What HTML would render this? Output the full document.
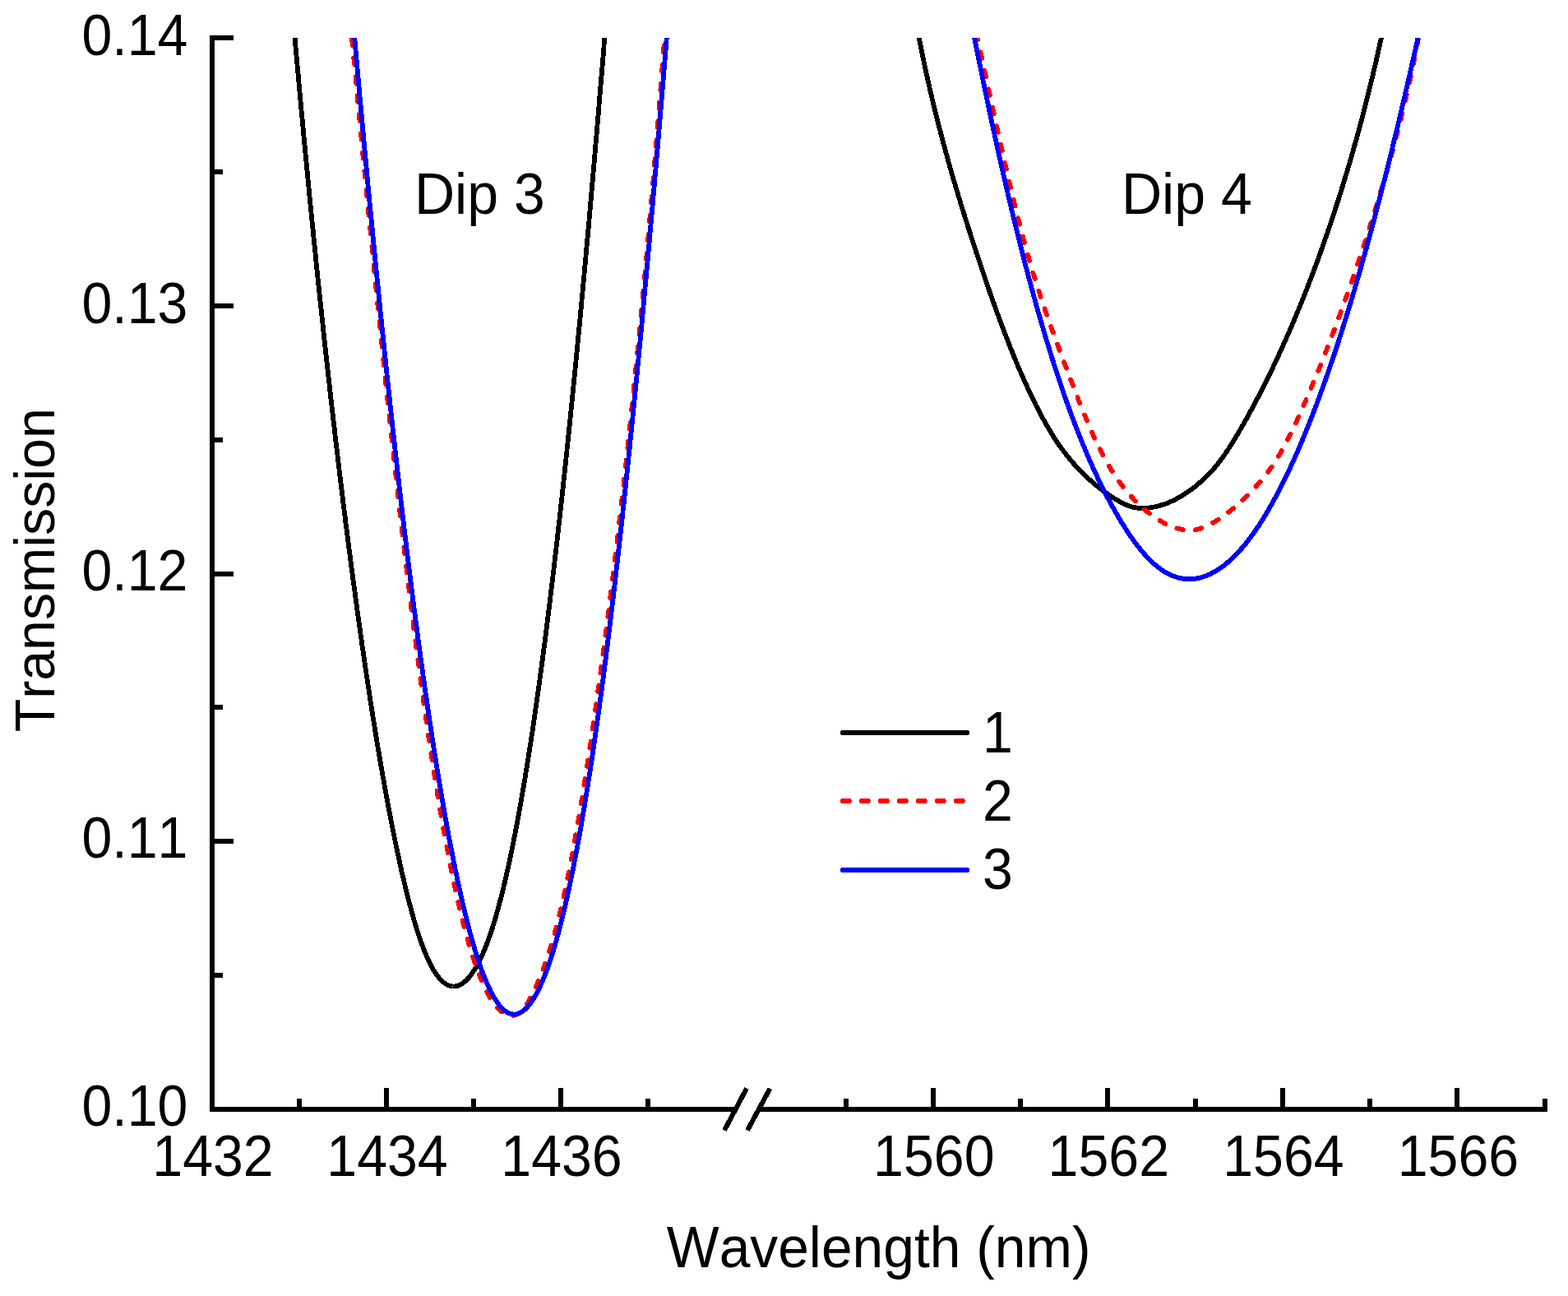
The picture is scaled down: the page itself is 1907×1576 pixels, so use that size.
<!DOCTYPE html>
<html><head><meta charset="utf-8"><title>Transmission vs Wavelength</title>
<style>
html,body{margin:0;padding:0;background:#fff;overflow:hidden;width:1907px;height:1576px;}
svg{display:block;}
text{font-family:"Liberation Sans",Arial,Helvetica,sans-serif;font-size:68px;fill:#000;font-kerning:none;font-feature-settings:"kern" 0;}
</style></head><body>
<svg width="1907" height="1576" viewBox="0 0 1907 1576">
<rect width="1907" height="1576" fill="#fff"/>
<defs><clipPath id="pc"><rect x="261" y="46" width="1640" height="1300"/></clipPath></defs>
<g clip-path="url(#pc)">
<path d="M357.9,38.0 L358.2,41.3 L358.5,44.6 L358.8,47.9 L359.0,51.2 L359.3,54.5 L359.6,57.8 L359.9,61.1 L360.2,64.4 L360.5,67.7 L360.8,71.0 L361.1,74.2 L361.4,77.5 L361.7,80.8 L362.0,84.0 L362.3,87.3 L362.6,90.5 L362.9,93.8 L363.2,97.0 L363.4,100.2 L363.7,103.5 L364.0,106.7 L364.3,109.9 L364.6,113.1 L364.9,116.3 L365.2,119.5 L365.5,122.7 L365.8,125.9 L366.1,129.1 L366.4,132.3 L366.7,135.5 L367.0,138.7 L367.3,141.8 L367.6,145.0 L367.9,148.2 L368.2,151.3 L368.5,154.5 L368.8,157.6 L369.0,160.8 L369.3,163.9 L369.6,167.0 L369.9,170.2 L370.2,173.3 L370.5,176.4 L370.8,179.5 L371.1,182.6 L371.4,185.7 L371.7,188.8 L372.0,191.9 L372.3,195.0 L372.6,198.1 L372.9,201.2 L373.2,204.3 L373.5,207.3 L373.8,210.4 L374.1,213.5 L374.4,216.5 L374.7,219.6 L375.0,222.6 L375.3,225.7 L375.6,228.7 L375.8,231.7 L376.1,234.8 L376.4,237.8 L376.7,240.8 L377.0,243.8 L377.3,246.8 L377.6,249.8 L377.9,252.8 L378.2,255.8 L378.5,258.8 L378.8,261.8 L379.1,264.8 L379.4,267.8 L379.7,270.8 L380.0,273.7 L380.3,276.7 L380.6,279.6 L380.9,282.6 L381.2,285.5 L381.5,288.5 L381.8,291.4 L382.1,294.4 L382.4,297.3 L382.7,300.2 L383.0,303.1 L383.3,306.0 L383.6,309.0 L383.9,311.9 L384.1,314.8 L384.4,317.7 L384.7,320.5 L385.0,323.4 L385.3,326.3 L385.6,329.2 L385.9,332.1 L386.2,334.9 L386.5,337.8 L386.8,340.7 L387.1,343.5 L387.4,346.4 L387.7,349.2 L388.0,352.0 L388.3,354.9 L388.6,357.7 L388.9,360.5 L389.2,363.3 L389.5,366.2 L389.8,369.0 L390.1,371.8 L390.4,374.6 L390.7,377.4 L391.0,380.2 L391.3,383.0 L391.6,385.7 L391.9,388.5 L392.2,391.3 L392.5,394.1 L392.8,396.8 L393.0,399.6 L393.3,402.3 L393.6,405.1 L393.9,407.8 L394.2,410.6 L394.5,413.3 L394.8,416.0 L395.1,418.8 L395.4,421.5 L395.7,424.2 L396.0,426.9 L396.3,429.6 L396.6,432.3 L396.9,435.0 L397.2,437.7 L397.5,440.4 L397.8,443.1 L398.1,445.7 L398.4,448.4 L398.7,451.1 L399.0,453.7 L399.3,456.4 L399.6,459.1 L399.9,461.7 L400.2,464.4 L400.5,467.0 L400.8,469.6 L401.0,472.3 L401.3,474.9 L401.6,477.5 L401.9,480.1 L402.2,482.7 L402.5,485.3 L402.8,487.9 L403.1,490.5 L403.4,493.1 L403.7,495.7 L404.0,498.3 L404.3,500.9 L404.6,503.4 L404.9,506.0 L405.2,508.6 L405.5,511.1 L405.8,513.7 L406.1,516.2 L406.4,518.8 L406.7,521.3 L407.0,523.9 L407.3,526.4 L407.5,528.9 L407.8,531.4 L408.1,534.0 L408.4,536.5 L408.7,539.0 L409.0,541.5 L409.3,544.0 L409.6,546.5 L409.9,549.0 L410.2,551.4 L410.5,553.9 L410.8,556.4 L411.1,558.9 L411.4,561.3 L411.7,563.8 L412.0,566.2 L412.3,568.7 L412.5,571.1 L412.8,573.6 L413.1,576.0 L413.4,578.4 L413.7,580.9 L414.0,583.3 L414.3,585.7 L414.6,588.1 L414.9,590.5 L415.2,592.9 L415.5,595.3 L415.8,597.7 L416.1,600.1 L416.4,602.5 L416.7,604.9 L416.9,607.2 L417.2,609.6 L417.5,612.0 L417.8,614.3 L418.1,616.7 L418.4,619.0 L418.7,621.4 L419.0,623.7 L419.3,626.1 L419.6,628.4 L419.9,630.7 L420.2,633.0 L420.4,635.4 L420.7,637.7 L421.0,640.0 L421.3,642.3 L421.6,644.6 L421.9,646.9 L422.2,649.2 L422.5,651.4 L422.8,653.7 L423.1,656.0 L423.4,658.3 L423.7,660.5 L423.9,662.8 L424.2,665.0 L424.5,667.3 L424.8,669.5 L425.1,671.8 L425.4,674.0 L425.7,676.2 L426.0,678.5 L426.3,680.7 L426.6,682.9 L426.8,685.1 L427.1,687.3 L427.4,689.5 L427.7,691.7 L428.0,693.9 L428.3,696.1 L428.6,698.3 L428.9,700.5 L429.2,702.6 L429.4,704.8 L429.7,707.0 L430.0,709.1 L430.3,711.3 L430.6,713.5 L430.9,715.6 L431.2,717.7 L431.5,719.9 L431.8,722.0 L432.0,724.1 L432.3,726.3 L432.6,728.4 L432.9,730.5 L433.2,732.6 L433.5,734.7 L433.8,736.8 L434.1,738.9 L434.3,741.0 L434.6,743.1 L434.9,745.1 L435.2,747.2 L435.5,749.3 L435.8,751.4 L436.1,753.4 L436.3,755.5 L436.6,757.5 L436.9,759.6 L437.2,761.6 L437.5,763.6 L437.8,765.7 L438.1,767.7 L438.4,769.7 L438.6,771.7 L438.9,773.8 L439.2,775.8 L439.5,777.8 L439.8,779.8 L440.1,781.8 L440.3,783.7 L440.6,785.7 L440.9,787.7 L441.2,789.7 L441.5,791.7 L441.8,793.6 L442.1,795.6 L442.3,797.5 L442.6,799.5 L442.9,801.4 L443.2,803.4 L443.5,805.3 L443.8,807.2 L444.0,809.2 L444.3,811.1 L444.6,813.0 L444.9,814.9 L445.2,816.8 L445.5,818.7 L445.7,820.6 L446.0,822.5 L446.3,824.4 L446.6,826.3 L446.9,828.2 L447.2,830.1 L447.4,831.9 L447.7,833.8 L448.0,835.7 L448.3,837.5 L448.6,839.4 L448.8,841.2 L449.1,843.1 L449.4,844.9 L449.7,846.7 L450.0,848.6 L450.3,850.4 L450.5,852.2 L450.8,854.0 L451.1,855.8 L451.4,857.6 L451.7,859.4 L451.9,861.2 L452.2,863.0 L452.5,864.8 L452.8,866.6 L453.1,868.3 L453.3,870.1 L453.6,871.9 L453.9,873.6 L454.2,875.4 L454.5,877.2 L454.7,878.9 L455.0,880.6 L455.3,882.4 L455.6,884.1 L455.9,885.8 L456.1,887.6 L456.4,889.3 L456.7,891.0 L457.0,892.7 L457.2,894.4 L457.5,896.1 L457.8,897.8 L458.1,899.5 L458.4,901.2 L458.6,902.9 L458.9,904.5 L459.2,906.2 L459.5,907.9 L459.7,909.5 L460.0,911.2 L460.3,912.8 L460.6,914.5 L460.9,916.1 L461.1,917.8 L461.4,919.4 L461.7,921.0 L462.0,922.7 L462.2,924.3 L462.5,925.9 L462.8,927.5 L463.1,929.1 L463.3,930.7 L463.6,932.3 L463.9,933.9 L464.2,935.5 L464.4,937.1 L464.7,938.6 L465.0,940.2 L465.3,941.8 L465.5,943.3 L465.8,944.9 L466.1,946.4 L466.4,948.0 L466.6,949.5 L466.9,951.1 L467.2,952.6 L467.5,954.1 L467.7,955.7 L468.0,957.2 L468.3,958.7 L468.5,960.2 L468.8,961.7 L469.1,963.2 L469.4,964.7 L469.6,966.2 L469.9,967.7 L470.2,969.2 L470.4,970.6 L470.7,972.1 L471.0,973.6 L471.3,975.0 L471.5,976.5 L471.8,978.0 L472.1,979.4 L472.3,980.8 L472.6,982.3 L472.9,983.7 L473.2,985.1 L473.4,986.6 L473.7,988.0 L474.0,989.4 L474.2,990.8 L474.5,992.2 L474.8,993.6 L475.1,995.0 L475.3,996.4 L475.6,997.8 L475.9,999.2 L476.1,1000.6 L476.4,1001.9 L476.7,1003.3 L476.9,1004.7 L477.2,1006.0 L477.5,1007.4 L477.7,1008.7 L478.0,1010.1 L478.3,1011.4 L478.5,1012.7 L478.8,1014.1 L479.1,1015.4 L479.3,1016.7 L479.6,1018.0 L479.9,1019.3 L480.1,1020.6 L480.4,1021.9 L480.7,1023.2 L480.9,1024.5 L481.2,1025.8 L481.5,1027.1 L481.7,1028.4 L482.0,1029.6 L482.3,1030.9 L482.5,1032.2 L482.8,1033.4 L483.1,1034.7 L483.3,1035.9 L483.6,1037.2 L483.9,1038.4 L484.1,1039.6 L484.4,1040.9 L484.7,1042.1 L484.9,1043.3 L485.2,1044.5 L485.4,1045.7 L485.7,1047.0 L486.0,1048.2 L486.2,1049.4 L486.5,1050.5 L486.8,1051.7 L487.0,1052.9 L487.3,1054.1 L487.6,1055.3 L487.8,1056.4 L488.1,1057.6 L488.3,1058.8 L488.6,1059.9 L488.9,1061.1 L489.1,1062.2 L489.4,1063.3 L489.6,1064.5 L489.9,1065.6 L490.2,1066.7 L490.4,1067.8 L490.7,1069.0 L491.0,1070.1 L491.2,1071.2 L491.5,1072.3 L491.7,1073.4 L492.0,1074.5 L492.3,1075.6 L492.5,1076.6 L492.8,1077.7 L493.0,1078.8 L493.3,1079.9 L493.5,1080.9 L493.8,1082.0 L494.1,1083.0 L494.3,1084.1 L494.6,1085.1 L494.8,1086.2 L495.1,1087.2 L495.4,1088.2 L495.6,1089.3 L495.9,1090.3 L496.1,1091.3 L496.4,1092.3 L496.6,1093.3 L496.9,1094.3 L497.2,1095.3 L497.4,1096.3 L497.7,1097.3 L497.9,1098.3 L498.2,1099.3 L498.4,1100.2 L498.7,1101.2 L498.9,1102.2 L499.2,1103.1 L499.5,1104.1 L499.7,1105.0 L500.0,1106.0 L500.2,1106.9 L500.5,1107.8 L500.7,1108.8 L501.0,1109.7 L501.2,1110.6 L501.5,1111.5 L501.8,1112.4 L502.0,1113.4 L502.3,1114.3 L502.5,1115.2 L502.8,1116.0 L503.0,1116.9 L503.3,1117.8 L503.5,1118.7 L503.8,1119.6 L504.0,1120.4 L504.3,1121.3 L504.5,1122.2 L504.8,1123.0 L505.1,1123.9 L505.3,1124.7 L505.6,1125.6 L505.8,1126.4 L506.1,1127.2 L506.3,1128.0 L506.6,1128.9 L506.8,1129.7 L507.1,1130.5 L507.3,1131.3 L507.6,1132.1 L507.8,1132.9 L508.1,1133.7 L508.4,1134.5 L508.6,1135.3 L508.9,1136.0 L509.1,1136.8 L509.4,1137.6 L509.6,1138.4 L509.9,1139.1 L510.1,1139.9 L510.4,1140.6 L510.6,1141.4 L510.9,1142.1 L511.1,1142.8 L511.4,1143.6 L511.7,1144.3 L511.9,1145.0 L512.2,1145.7 L512.4,1146.4 L512.7,1147.2 L512.9,1147.9 L513.2,1148.6 L513.4,1149.2 L513.7,1149.9 L513.9,1150.6 L514.2,1151.3 L514.4,1152.0 L514.7,1152.6 L515.0,1153.3 L515.2,1154.0 L515.5,1154.6 L515.7,1155.3 L516.0,1155.9 L516.2,1156.6 L516.5,1157.2 L516.7,1157.8 L517.0,1158.5 L517.2,1159.1 L517.5,1159.7 L517.8,1160.3 L518.0,1160.9 L518.3,1161.5 L518.5,1162.1 L518.8,1162.7 L519.0,1163.3 L519.3,1163.9 L519.5,1164.5 L519.8,1165.0 L520.1,1165.6 L520.3,1166.2 L520.6,1166.7 L520.8,1167.3 L521.1,1167.8 L521.3,1168.4 L521.6,1168.9 L521.9,1169.5 L522.1,1170.0 L522.4,1170.5 L522.6,1171.0 L522.9,1171.6 L523.2,1172.1 L523.4,1172.6 L523.7,1173.1 L523.9,1173.6 L524.2,1174.1 L524.4,1174.6 L524.7,1175.0 L525.0,1175.5 L525.2,1176.0 L525.5,1176.5 L525.7,1176.9 L526.0,1177.4 L526.3,1177.9 L526.5,1178.3 L526.8,1178.7 L527.0,1179.2 L527.3,1179.6 L527.6,1180.1 L527.8,1180.5 L528.1,1180.9 L528.4,1181.3 L528.6,1181.7 L528.9,1182.1 L529.1,1182.6 L529.4,1182.9 L529.7,1183.3 L529.9,1183.7 L530.2,1184.1 L530.5,1184.5 L530.7,1184.9 L531.0,1185.2 L531.2,1185.6 L531.5,1186.0 L531.8,1186.3 L532.0,1186.7 L532.3,1187.0 L532.6,1187.4 L532.8,1187.7 L533.1,1188.0 L533.4,1188.4 L533.6,1188.7 L533.9,1189.0 L534.1,1189.3 L534.4,1189.6 L534.7,1189.9 L534.9,1190.2 L535.2,1190.5 L535.5,1190.8 L535.7,1191.1 L536.0,1191.4 L536.3,1191.7 L536.5,1191.9 L536.8,1192.2 L537.1,1192.4 L537.3,1192.7 L537.6,1193.0 L537.9,1193.2 L538.1,1193.4 L538.4,1193.7 L538.7,1193.9 L538.9,1194.1 L539.2,1194.4 L539.5,1194.6 L539.7,1194.8 L540.0,1195.0 L540.3,1195.2 L540.5,1195.4 L540.8,1195.6 L541.1,1195.8 L541.4,1196.0 L541.6,1196.2 L541.9,1196.3 L542.2,1196.5 L542.4,1196.7 L542.7,1196.8 L543.0,1197.0 L543.2,1197.1 L543.5,1197.3 L543.8,1197.4 L544.0,1197.6 L544.3,1197.7 L544.6,1197.8 L544.9,1198.0 L545.1,1198.1 L545.4,1198.2 L545.7,1198.3 L545.9,1198.4 L546.2,1198.5 L546.5,1198.6 L546.7,1198.7 L547.0,1198.8 L547.3,1198.9 L547.6,1198.9 L547.8,1199.0 L548.1,1199.1 L548.4,1199.1 L548.6,1199.2 L548.9,1199.2 L549.2,1199.3 L549.5,1199.3 L549.7,1199.4 L550.0,1199.4 L550.3,1199.4 L550.5,1199.5 L550.8,1199.5 L551.1,1199.5 L551.4,1199.5 L551.6,1199.5 L551.9,1199.5 L552.2,1199.5 L552.5,1199.5 L552.7,1199.5 L553.0,1199.5 L553.3,1199.4 L553.5,1199.4 L553.8,1199.4 L554.1,1199.3 L554.4,1199.3 L554.6,1199.2 L554.9,1199.2 L555.2,1199.1 L555.5,1199.1 L555.7,1199.0 L556.0,1198.9 L556.3,1198.9 L556.5,1198.8 L556.8,1198.7 L557.1,1198.6 L557.4,1198.5 L557.6,1198.4 L557.9,1198.3 L558.2,1198.2 L558.5,1198.1 L558.7,1198.0 L559.0,1197.8 L559.3,1197.7 L559.6,1197.6 L559.8,1197.4 L560.1,1197.3 L560.4,1197.1 L560.7,1197.0 L560.9,1196.8 L561.2,1196.7 L561.5,1196.5 L561.8,1196.3 L562.0,1196.2 L562.3,1196.0 L562.6,1195.8 L562.9,1195.6 L563.1,1195.4 L563.4,1195.2 L563.7,1195.0 L564.0,1194.8 L564.2,1194.6 L564.5,1194.4 L564.8,1194.1 L565.1,1193.9 L565.3,1193.7 L565.6,1193.4 L565.9,1193.2 L566.2,1193.0 L566.4,1192.7 L566.7,1192.4 L567.0,1192.2 L567.3,1191.9 L567.5,1191.7 L567.8,1191.4 L568.1,1191.1 L568.4,1190.8 L568.6,1190.5 L568.9,1190.2 L569.2,1189.9 L569.5,1189.6 L569.7,1189.3 L570.0,1189.0 L570.3,1188.7 L570.6,1188.4 L570.8,1188.0 L571.1,1187.7 L571.4,1187.4 L571.7,1187.0 L571.9,1186.7 L572.2,1186.3 L572.5,1186.0 L572.7,1185.6 L573.0,1185.2 L573.3,1184.9 L573.6,1184.5 L573.8,1184.1 L574.1,1183.7 L574.4,1183.3 L574.7,1182.9 L574.9,1182.6 L575.2,1182.1 L575.5,1181.7 L575.8,1181.3 L576.0,1180.9 L576.3,1180.5 L576.6,1180.1 L576.9,1179.6 L577.1,1179.2 L577.4,1178.7 L577.7,1178.3 L578.0,1177.9 L578.2,1177.4 L578.5,1176.9 L578.8,1176.5 L579.0,1176.0 L579.3,1175.5 L579.6,1175.0 L579.9,1174.6 L580.1,1174.1 L580.4,1173.6 L580.7,1173.1 L581.0,1172.6 L581.2,1172.1 L581.5,1171.6 L581.8,1171.0 L582.0,1170.5 L582.3,1170.0 L582.6,1169.5 L582.9,1168.9 L583.1,1168.4 L583.4,1167.8 L583.7,1167.3 L583.9,1166.7 L584.2,1166.2 L584.5,1165.6 L584.8,1165.0 L585.0,1164.5 L585.3,1163.9 L585.6,1163.3 L585.8,1162.7 L586.1,1162.1 L586.4,1161.5 L586.7,1160.9 L586.9,1160.3 L587.2,1159.7 L587.5,1159.1 L587.7,1158.5 L588.0,1157.8 L588.3,1157.2 L588.5,1156.6 L588.8,1155.9 L589.1,1155.3 L589.4,1154.6 L589.6,1154.0 L589.9,1153.3 L590.2,1152.6 L590.4,1152.0 L590.7,1151.3 L591.0,1150.6 L591.2,1149.9 L591.5,1149.2 L591.8,1148.6 L592.0,1147.9 L592.3,1147.2 L592.6,1146.4 L592.8,1145.7 L593.1,1145.0 L593.4,1144.3 L593.6,1143.6 L593.9,1142.8 L594.2,1142.1 L594.4,1141.4 L594.7,1140.6 L595.0,1139.9 L595.2,1139.1 L595.5,1138.4 L595.8,1137.6 L596.0,1136.8 L596.3,1136.0 L596.5,1135.3 L596.8,1134.5 L597.1,1133.7 L597.3,1132.9 L597.6,1132.1 L597.9,1131.3 L598.1,1130.5 L598.4,1129.7 L598.7,1128.9 L598.9,1128.0 L599.2,1127.2 L599.4,1126.4 L599.7,1125.6 L600.0,1124.7 L600.2,1123.9 L600.5,1123.0 L600.8,1122.2 L601.0,1121.3 L601.3,1120.4 L601.5,1119.6 L601.8,1118.7 L602.1,1117.8 L602.3,1116.9 L602.6,1116.0 L602.9,1115.2 L603.1,1114.3 L603.4,1113.4 L603.6,1112.4 L603.9,1111.5 L604.2,1110.6 L604.4,1109.7 L604.7,1108.8 L604.9,1107.8 L605.2,1106.9 L605.5,1106.0 L605.7,1105.0 L606.0,1104.1 L606.2,1103.1 L606.5,1102.2 L606.8,1101.2 L607.0,1100.2 L607.3,1099.3 L607.5,1098.3 L607.8,1097.3 L608.1,1096.3 L608.3,1095.3 L608.6,1094.3 L608.8,1093.3 L609.1,1092.3 L609.4,1091.3 L609.6,1090.3 L609.9,1089.3 L610.1,1088.2 L610.4,1087.2 L610.7,1086.2 L610.9,1085.1 L611.2,1084.1 L611.4,1083.0 L611.7,1082.0 L612.0,1080.9 L612.2,1079.9 L612.5,1078.8 L612.7,1077.7 L613.0,1076.6 L613.2,1075.6 L613.5,1074.5 L613.8,1073.4 L614.0,1072.3 L614.3,1071.2 L614.5,1070.1 L614.8,1069.0 L615.0,1067.8 L615.3,1066.7 L615.6,1065.6 L615.8,1064.5 L616.1,1063.3 L616.3,1062.2 L616.6,1061.1 L616.9,1059.9 L617.1,1058.8 L617.4,1057.6 L617.6,1056.4 L617.9,1055.3 L618.1,1054.1 L618.4,1052.9 L618.7,1051.7 L618.9,1050.5 L619.2,1049.4 L619.4,1048.2 L619.7,1047.0 L619.9,1045.7 L620.2,1044.5 L620.5,1043.3 L620.7,1042.1 L621.0,1040.9 L621.2,1039.6 L621.5,1038.4 L621.7,1037.2 L622.0,1035.9 L622.3,1034.7 L622.5,1033.4 L622.8,1032.2 L623.0,1030.9 L623.3,1029.6 L623.5,1028.4 L623.8,1027.1 L624.1,1025.8 L624.3,1024.5 L624.6,1023.2 L624.8,1021.9 L625.1,1020.6 L625.3,1019.3 L625.6,1018.0 L625.9,1016.7 L626.1,1015.4 L626.4,1014.1 L626.6,1012.7 L626.9,1011.4 L627.1,1010.1 L627.4,1008.7 L627.7,1007.4 L627.9,1006.0 L628.2,1004.7 L628.4,1003.3 L628.7,1001.9 L628.9,1000.6 L629.2,999.2 L629.5,997.8 L629.7,996.4 L630.0,995.0 L630.2,993.6 L630.5,992.2 L630.7,990.8 L631.0,989.4 L631.3,988.0 L631.5,986.6 L631.8,985.1 L632.0,983.7 L632.3,982.3 L632.5,980.8 L632.8,979.4 L633.1,978.0 L633.3,976.5 L633.6,975.0 L633.8,973.6 L634.1,972.1 L634.3,970.6 L634.6,969.2 L634.9,967.7 L635.1,966.2 L635.4,964.7 L635.6,963.2 L635.9,961.7 L636.1,960.2 L636.4,958.7 L636.7,957.2 L636.9,955.7 L637.2,954.1 L637.4,952.6 L637.7,951.1 L637.9,949.5 L638.2,948.0 L638.5,946.4 L638.7,944.9 L639.0,943.3 L639.2,941.8 L639.5,940.2 L639.7,938.6 L640.0,937.1 L640.3,935.5 L640.5,933.9 L640.8,932.3 L641.0,930.7 L641.3,929.1 L641.5,927.5 L641.8,925.9 L642.1,924.3 L642.3,922.7 L642.6,921.0 L642.8,919.4 L643.1,917.8 L643.3,916.1 L643.6,914.5 L643.9,912.8 L644.1,911.2 L644.4,909.5 L644.6,907.9 L644.9,906.2 L645.1,904.5 L645.4,902.9 L645.7,901.2 L645.9,899.5 L646.2,897.8 L646.4,896.1 L646.7,894.4 L646.9,892.7 L647.2,891.0 L647.5,889.3 L647.7,887.6 L648.0,885.8 L648.2,884.1 L648.5,882.4 L648.7,880.6 L649.0,878.9 L649.3,877.2 L649.5,875.4 L649.8,873.6 L650.0,871.9 L650.3,870.1 L650.5,868.3 L650.8,866.6 L651.1,864.8 L651.3,863.0 L651.6,861.2 L651.8,859.4 L652.1,857.6 L652.3,855.8 L652.6,854.0 L652.9,852.2 L653.1,850.4 L653.4,848.6 L653.6,846.7 L653.9,844.9 L654.1,843.1 L654.4,841.2 L654.7,839.4 L654.9,837.5 L655.2,835.7 L655.4,833.8 L655.7,831.9 L655.9,830.1 L656.2,828.2 L656.5,826.3 L656.7,824.4 L657.0,822.5 L657.2,820.6 L657.5,818.7 L657.8,816.8 L658.0,814.9 L658.3,813.0 L658.5,811.1 L658.8,809.2 L659.0,807.2 L659.3,805.3 L659.6,803.4 L659.8,801.4 L660.1,799.5 L660.3,797.5 L660.6,795.6 L660.8,793.6 L661.1,791.7 L661.4,789.7 L661.6,787.7 L661.9,785.7 L662.1,783.7 L662.4,781.8 L662.7,779.8 L662.9,777.8 L663.2,775.8 L663.4,773.8 L663.7,771.7 L663.9,769.7 L664.2,767.7 L664.5,765.7 L664.7,763.6 L665.0,761.6 L665.2,759.6 L665.5,757.5 L665.8,755.5 L666.0,753.4 L666.3,751.4 L666.5,749.3 L666.8,747.2 L667.0,745.1 L667.3,743.1 L667.6,741.0 L667.8,738.9 L668.1,736.8 L668.3,734.7 L668.6,732.6 L668.9,730.5 L669.1,728.4 L669.4,726.3 L669.6,724.1 L669.9,722.0 L670.1,719.9 L670.4,717.7 L670.7,715.6 L670.9,713.5 L671.2,711.3 L671.4,709.1 L671.7,707.0 L672.0,704.8 L672.2,702.6 L672.5,700.5 L672.7,698.3 L673.0,696.1 L673.3,693.9 L673.5,691.7 L673.8,689.5 L674.0,687.3 L674.3,685.1 L674.5,682.9 L674.8,680.7 L675.1,678.5 L675.3,676.2 L675.6,674.0 L675.8,671.8 L676.1,669.5 L676.4,667.3 L676.6,665.0 L676.9,662.8 L677.1,660.5 L677.4,658.3 L677.7,656.0 L677.9,653.7 L678.2,651.4 L678.4,649.2 L678.7,646.9 L679.0,644.6 L679.2,642.3 L679.5,640.0 L679.7,637.7 L680.0,635.4 L680.3,633.0 L680.5,630.7 L680.8,628.4 L681.0,626.1 L681.3,623.7 L681.6,621.4 L681.8,619.0 L682.1,616.7 L682.3,614.3 L682.6,612.0 L682.9,609.6 L683.1,607.2 L683.4,604.9 L683.6,602.5 L683.9,600.1 L684.2,597.7 L684.4,595.3 L684.7,592.9 L684.9,590.5 L685.2,588.1 L685.5,585.7 L685.7,583.3 L686.0,580.9 L686.2,578.4 L686.5,576.0 L686.8,573.6 L687.0,571.1 L687.3,568.7 L687.5,566.2 L687.8,563.8 L688.1,561.3 L688.3,558.9 L688.6,556.4 L688.8,553.9 L689.1,551.4 L689.4,549.0 L689.6,546.5 L689.9,544.0 L690.1,541.5 L690.4,539.0 L690.7,536.5 L690.9,534.0 L691.2,531.4 L691.5,528.9 L691.7,526.4 L692.0,523.9 L692.2,521.3 L692.5,518.8 L692.8,516.2 L693.0,513.7 L693.3,511.1 L693.5,508.6 L693.8,506.0 L694.1,503.4 L694.3,500.9 L694.6,498.3 L694.9,495.7 L695.1,493.1 L695.4,490.5 L695.6,487.9 L695.9,485.3 L696.2,482.7 L696.4,480.1 L696.7,477.5 L696.9,474.9 L697.2,472.3 L697.5,469.6 L697.7,467.0 L698.0,464.4 L698.3,461.7 L698.5,459.1 L698.8,456.4 L699.0,453.7 L699.3,451.1 L699.6,448.4 L699.8,445.7 L700.1,443.1 L700.4,440.4 L700.6,437.7 L700.9,435.0 L701.1,432.3 L701.4,429.6 L701.7,426.9 L701.9,424.2 L702.2,421.5 L702.5,418.8 L702.7,416.0 L703.0,413.3 L703.2,410.6 L703.5,407.8 L703.8,405.1 L704.0,402.3 L704.3,399.6 L704.6,396.8 L704.8,394.1 L705.1,391.3 L705.4,388.5 L705.6,385.7 L705.9,383.0 L706.1,380.2 L706.4,377.4 L706.7,374.6 L706.9,371.8 L707.2,369.0 L707.5,366.2 L707.7,363.3 L708.0,360.5 L708.3,357.7 L708.5,354.9 L708.8,352.0 L709.0,349.2 L709.3,346.4 L709.6,343.5 L709.8,340.7 L710.1,337.8 L710.4,334.9 L710.6,332.1 L710.9,329.2 L711.2,326.3 L711.4,323.4 L711.7,320.5 L712.0,317.7 L712.2,314.8 L712.5,311.9 L712.7,309.0 L713.0,306.0 L713.3,303.1 L713.5,300.2 L713.8,297.3 L714.1,294.4 L714.3,291.4 L714.6,288.5 L714.9,285.5 L715.1,282.6 L715.4,279.6 L715.7,276.7 L715.9,273.7 L716.2,270.8 L716.5,267.8 L716.7,264.8 L717.0,261.8 L717.3,258.8 L717.5,255.8 L717.8,252.8 L718.1,249.8 L718.3,246.8 L718.6,243.8 L718.9,240.8 L719.1,237.8 L719.4,234.8 L719.6,231.7 L719.9,228.7 L720.2,225.7 L720.4,222.6 L720.7,219.6 L721.0,216.5 L721.2,213.5 L721.5,210.4 L721.8,207.3 L722.0,204.3 L722.3,201.2 L722.6,198.1 L722.8,195.0 L723.1,191.9 L723.4,188.8 L723.6,185.7 L723.9,182.6 L724.2,179.5 L724.4,176.4 L724.7,173.3 L725.0,170.2 L725.3,167.0 L725.5,163.9 L725.8,160.8 L726.1,157.6 L726.3,154.5 L726.6,151.3 L726.9,148.2 L727.1,145.0 L727.4,141.8 L727.7,138.7 L727.9,135.5 L728.2,132.3 L728.5,129.1 L728.7,125.9 L729.0,122.7 L729.3,119.5 L729.5,116.3 L729.8,113.1 L730.1,109.9 L730.3,106.7 L730.6,103.5 L730.9,100.2 L731.1,97.0 L731.4,93.8 L731.7,90.5 L732.0,87.3 L732.2,84.0 L732.5,80.8 L732.8,77.5 L733.0,74.2 L733.3,71.0 L733.6,67.7 L733.8,64.4 L734.1,61.1 L734.4,57.8 L734.6,54.5 L734.9,51.2 L735.2,47.9 L735.5,44.6 L735.7,41.3 L736.0,38.0" fill="none" stroke="#000" stroke-width="5.8" stroke-linejoin="round" stroke-linecap="round" shape-rendering="crispEdges"/>
<path d="M427.3,38.0 L427.6,41.4 L427.9,44.8 L428.2,48.2 L428.5,51.7 L428.8,55.1 L429.2,58.4 L429.5,61.8 L429.8,65.2 L430.1,68.6 L430.4,72.0 L430.7,75.4 L431.1,78.7 L431.4,82.1 L431.7,85.4 L432.0,88.8 L432.3,92.1 L432.6,95.5 L432.9,98.8 L433.3,102.1 L433.6,105.5 L433.9,108.8 L434.2,112.1 L434.5,115.4 L434.8,118.7 L435.1,122.0 L435.4,125.3 L435.8,128.6 L436.1,131.9 L436.4,135.2 L436.7,138.5 L437.0,141.7 L437.3,145.0 L437.6,148.3 L437.9,151.5 L438.2,154.8 L438.6,158.0 L438.9,161.3 L439.2,164.5 L439.5,167.8 L439.8,171.0 L440.1,174.2 L440.4,177.4 L440.7,180.6 L441.0,183.9 L441.3,187.1 L441.6,190.3 L441.9,193.5 L442.3,196.6 L442.6,199.8 L442.9,203.0 L443.2,206.2 L443.5,209.4 L443.8,212.5 L444.1,215.7 L444.4,218.8 L444.7,222.0 L445.0,225.1 L445.3,228.3 L445.6,231.4 L445.9,234.5 L446.2,237.7 L446.5,240.8 L446.8,243.9 L447.1,247.0 L447.4,250.1 L447.7,253.2 L448.0,256.3 L448.3,259.4 L448.6,262.5 L449.0,265.6 L449.3,268.7 L449.6,271.7 L449.9,274.8 L450.2,277.9 L450.5,280.9 L450.8,284.0 L451.1,287.0 L451.4,290.1 L451.7,293.1 L452.0,296.1 L452.3,299.2 L452.6,302.2 L452.9,305.2 L453.2,308.2 L453.5,311.2 L453.8,314.2 L454.1,317.2 L454.4,320.2 L454.7,323.2 L454.9,326.2 L455.2,329.2 L455.5,332.2 L455.8,335.1 L456.1,338.1 L456.4,341.1 L456.7,344.0 L457.0,347.0 L457.3,349.9 L457.6,352.8 L457.9,355.8 L458.2,358.7 L458.5,361.6 L458.8,364.6 L459.1,367.5 L459.4,370.4 L459.7,373.3 L460.0,376.2 L460.3,379.1 L460.6,382.0 L460.9,384.9 L461.2,387.7 L461.5,390.6 L461.7,393.5 L462.0,396.4 L462.3,399.2 L462.6,402.1 L462.9,404.9 L463.2,407.8 L463.5,410.6 L463.8,413.5 L464.1,416.3 L464.4,419.1 L464.7,421.9 L465.0,424.8 L465.3,427.6 L465.5,430.4 L465.8,433.2 L466.1,436.0 L466.4,438.8 L466.7,441.6 L467.0,444.4 L467.3,447.1 L467.6,449.9 L467.9,452.7 L468.2,455.4 L468.4,458.2 L468.7,461.0 L469.0,463.7 L469.3,466.5 L469.6,469.2 L469.9,471.9 L470.2,474.7 L470.5,477.4 L470.8,480.1 L471.0,482.8 L471.3,485.5 L471.6,488.2 L471.9,490.9 L472.2,493.6 L472.5,496.3 L472.8,499.0 L473.0,501.7 L473.3,504.4 L473.6,507.0 L473.9,509.7 L474.2,512.4 L474.5,515.0 L474.8,517.7 L475.0,520.3 L475.3,523.0 L475.6,525.6 L475.9,528.2 L476.2,530.9 L476.5,533.5 L476.8,536.1 L477.0,538.7 L477.3,541.3 L477.6,543.9 L477.9,546.5 L478.2,549.1 L478.5,551.7 L478.7,554.3 L479.0,556.9 L479.3,559.4 L479.6,562.0 L479.9,564.6 L480.2,567.1 L480.4,569.7 L480.7,572.2 L481.0,574.8 L481.3,577.3 L481.6,579.9 L481.9,582.4 L482.1,584.9 L482.4,587.4 L482.7,589.9 L483.0,592.5 L483.3,595.0 L483.5,597.5 L483.8,600.0 L484.1,602.4 L484.4,604.9 L484.7,607.4 L484.9,609.9 L485.2,612.4 L485.5,614.8 L485.8,617.3 L486.1,619.7 L486.3,622.2 L486.6,624.6 L486.9,627.1 L487.2,629.5 L487.5,631.9 L487.7,634.4 L488.0,636.8 L488.3,639.2 L488.6,641.6 L488.9,644.0 L489.1,646.4 L489.4,648.8 L489.7,651.2 L490.0,653.6 L490.2,656.0 L490.5,658.4 L490.8,660.7 L491.1,663.1 L491.4,665.5 L491.6,667.8 L491.9,670.2 L492.2,672.5 L492.5,674.9 L492.7,677.2 L493.0,679.6 L493.3,681.9 L493.6,684.2 L493.8,686.5 L494.1,688.8 L494.4,691.1 L494.7,693.5 L495.0,695.8 L495.2,698.0 L495.5,700.3 L495.8,702.6 L496.1,704.9 L496.3,707.2 L496.6,709.4 L496.9,711.7 L497.2,714.0 L497.4,716.2 L497.7,718.5 L498.0,720.7 L498.3,723.0 L498.5,725.2 L498.8,727.4 L499.1,729.7 L499.4,731.9 L499.6,734.1 L499.9,736.3 L500.2,738.5 L500.4,740.7 L500.7,742.9 L501.0,745.1 L501.3,747.3 L501.5,749.5 L501.8,751.6 L502.1,753.8 L502.4,756.0 L502.6,758.2 L502.9,760.3 L503.2,762.5 L503.4,764.6 L503.7,766.8 L504.0,768.9 L504.3,771.0 L504.5,773.2 L504.8,775.3 L505.1,777.4 L505.4,779.5 L505.6,781.6 L505.9,783.7 L506.2,785.8 L506.4,787.9 L506.7,790.0 L507.0,792.1 L507.3,794.2 L507.5,796.2 L507.8,798.3 L508.1,800.4 L508.3,802.4 L508.6,804.5 L508.9,806.5 L509.2,808.6 L509.4,810.6 L509.7,812.7 L510.0,814.7 L510.2,816.7 L510.5,818.7 L510.8,820.8 L511.0,822.8 L511.3,824.8 L511.6,826.8 L511.9,828.8 L512.1,830.8 L512.4,832.7 L512.7,834.7 L512.9,836.7 L513.2,838.7 L513.5,840.6 L513.7,842.6 L514.0,844.6 L514.3,846.5 L514.6,848.5 L514.8,850.4 L515.1,852.3 L515.4,854.3 L515.6,856.2 L515.9,858.1 L516.2,860.0 L516.4,862.0 L516.7,863.9 L517.0,865.8 L517.2,867.7 L517.5,869.6 L517.8,871.4 L518.1,873.3 L518.3,875.2 L518.6,877.1 L518.9,879.0 L519.1,880.8 L519.4,882.7 L519.7,884.5 L519.9,886.4 L520.2,888.2 L520.5,890.1 L520.7,891.9 L521.0,893.7 L521.3,895.6 L521.5,897.4 L521.8,899.2 L522.1,901.0 L522.3,902.8 L522.6,904.6 L522.9,906.4 L523.1,908.2 L523.4,910.0 L523.7,911.8 L523.9,913.5 L524.2,915.3 L524.5,917.1 L524.7,918.8 L525.0,920.6 L525.3,922.3 L525.6,924.1 L525.8,925.8 L526.1,927.6 L526.4,929.3 L526.6,931.0 L526.9,932.7 L527.2,934.5 L527.4,936.2 L527.7,937.9 L528.0,939.6 L528.2,941.3 L528.5,943.0 L528.8,944.7 L529.0,946.3 L529.3,948.0 L529.6,949.7 L529.8,951.4 L530.1,953.0 L530.4,954.7 L530.6,956.3 L530.9,958.0 L531.2,959.6 L531.4,961.3 L531.7,962.9 L532.0,964.5 L532.2,966.2 L532.5,967.8 L532.8,969.4 L533.0,971.0 L533.3,972.6 L533.6,974.2 L533.8,975.8 L534.1,977.4 L534.3,979.0 L534.6,980.6 L534.9,982.1 L535.1,983.7 L535.4,985.3 L535.7,986.8 L535.9,988.4 L536.2,989.9 L536.5,991.5 L536.7,993.0 L537.0,994.6 L537.3,996.1 L537.5,997.6 L537.8,999.1 L538.1,1000.7 L538.3,1002.2 L538.6,1003.7 L538.9,1005.2 L539.1,1006.7 L539.4,1008.2 L539.7,1009.7 L539.9,1011.1 L540.2,1012.6 L540.5,1014.1 L540.7,1015.6 L541.0,1017.0 L541.3,1018.5 L541.5,1019.9 L541.8,1021.4 L542.1,1022.8 L542.3,1024.3 L542.6,1025.7 L542.9,1027.1 L543.1,1028.6 L543.4,1030.0 L543.7,1031.4 L543.9,1032.8 L544.2,1034.2 L544.5,1035.6 L544.7,1037.0 L545.0,1038.4 L545.3,1039.8 L545.5,1041.1 L545.8,1042.5 L546.1,1043.9 L546.3,1045.3 L546.6,1046.6 L546.9,1048.0 L547.1,1049.3 L547.4,1050.7 L547.6,1052.0 L547.9,1053.3 L548.2,1054.7 L548.4,1056.0 L548.7,1057.3 L549.0,1058.6 L549.2,1059.9 L549.5,1061.3 L549.8,1062.6 L550.0,1063.9 L550.3,1065.1 L550.6,1066.4 L550.8,1067.7 L551.1,1069.0 L551.4,1070.3 L551.6,1071.5 L551.9,1072.8 L552.2,1074.0 L552.4,1075.3 L552.7,1076.5 L553.0,1077.8 L553.2,1079.0 L553.5,1080.3 L553.8,1081.5 L554.0,1082.7 L554.3,1083.9 L554.6,1085.1 L554.8,1086.4 L555.1,1087.6 L555.4,1088.8 L555.6,1090.0 L555.9,1091.1 L556.2,1092.3 L556.4,1093.5 L556.7,1094.7 L557.0,1095.8 L557.2,1097.0 L557.5,1098.2 L557.8,1099.3 L558.0,1100.5 L558.3,1101.6 L558.6,1102.8 L558.8,1103.9 L559.1,1105.0 L559.4,1106.2 L559.6,1107.3 L559.9,1108.4 L560.2,1109.5 L560.4,1110.6 L560.7,1111.7 L561.0,1112.8 L561.3,1113.9 L561.5,1115.0 L561.8,1116.1 L562.1,1117.1 L562.3,1118.2 L562.6,1119.3 L562.9,1120.3 L563.1,1121.4 L563.4,1122.4 L563.7,1123.5 L563.9,1124.5 L564.2,1125.6 L564.5,1126.6 L564.7,1127.6 L565.0,1128.7 L565.3,1129.7 L565.5,1130.7 L565.8,1131.7 L566.1,1132.7 L566.3,1133.7 L566.6,1134.7 L566.9,1135.7 L567.1,1136.7 L567.4,1137.6 L567.7,1138.6 L568.0,1139.6 L568.2,1140.5 L568.5,1141.5 L568.8,1142.5 L569.0,1143.4 L569.3,1144.3 L569.6,1145.3 L569.8,1146.2 L570.1,1147.2 L570.4,1148.1 L570.6,1149.0 L570.9,1149.9 L571.2,1150.8 L571.5,1151.7 L571.7,1152.6 L572.0,1153.5 L572.3,1154.4 L572.5,1155.3 L572.8,1156.2 L573.1,1157.1 L573.3,1157.9 L573.6,1158.8 L573.9,1159.7 L574.2,1160.5 L574.4,1161.4 L574.7,1162.2 L575.0,1163.0 L575.2,1163.9 L575.5,1164.7 L575.8,1165.5 L576.1,1166.4 L576.3,1167.2 L576.6,1168.0 L576.9,1168.8 L577.1,1169.6 L577.4,1170.4 L577.7,1171.2 L578.0,1172.0 L578.2,1172.8 L578.5,1173.5 L578.8,1174.3 L579.0,1175.1 L579.3,1175.8 L579.6,1176.6 L579.9,1177.4 L580.1,1178.1 L580.4,1178.9 L580.7,1179.6 L580.9,1180.3 L581.2,1181.1 L581.5,1181.8 L581.8,1182.5 L582.0,1183.2 L582.3,1183.9 L582.6,1184.6 L582.9,1185.3 L583.1,1186.0 L583.4,1186.7 L583.7,1187.4 L584.0,1188.1 L584.2,1188.7 L584.5,1189.4 L584.8,1190.1 L585.0,1190.7 L585.3,1191.4 L585.6,1192.1 L585.9,1192.7 L586.1,1193.3 L586.4,1194.0 L586.7,1194.6 L587.0,1195.2 L587.2,1195.9 L587.5,1196.5 L587.8,1197.1 L588.1,1197.7 L588.3,1198.3 L588.6,1198.9 L588.9,1199.5 L589.2,1200.1 L589.4,1200.6 L589.7,1201.2 L590.0,1201.8 L590.3,1202.4 L590.5,1202.9 L590.8,1203.5 L591.1,1204.0 L591.4,1204.6 L591.7,1205.1 L591.9,1205.7 L592.2,1206.2 L592.5,1206.7 L592.8,1207.3 L593.0,1207.8 L593.3,1208.3 L593.6,1208.8 L593.9,1209.3 L594.2,1209.8 L594.4,1210.3 L594.7,1210.8 L595.0,1211.3 L595.3,1211.7 L595.5,1212.2 L595.8,1212.7 L596.1,1213.2 L596.4,1213.6 L596.7,1214.1 L596.9,1214.5 L597.2,1215.0 L597.5,1215.4 L597.8,1215.8 L598.1,1216.3 L598.3,1216.7 L598.6,1217.1 L598.9,1217.5 L599.2,1217.9 L599.5,1218.3 L599.7,1218.8 L600.0,1219.1 L600.3,1219.5 L600.6,1219.9 L600.9,1220.3 L601.1,1220.7 L601.4,1221.1 L601.7,1221.4 L602.0,1221.8 L602.3,1222.1 L602.5,1222.5 L602.8,1222.8 L603.1,1223.2 L603.4,1223.5 L603.7,1223.9 L604.0,1224.2 L604.2,1224.5 L604.5,1224.8 L604.8,1225.1 L605.1,1225.4 L605.4,1225.7 L605.7,1226.0 L605.9,1226.3 L606.2,1226.6 L606.5,1226.9 L606.8,1227.2 L607.1,1227.5 L607.4,1227.7 L607.6,1228.0 L607.9,1228.3 L608.2,1228.5 L608.5,1228.8 L608.8,1229.0 L609.1,1229.2 L609.3,1229.5 L609.6,1229.7 L609.9,1229.9 L610.2,1230.2 L610.5,1230.4 L610.8,1230.6 L611.1,1230.8 L611.3,1231.0 L611.6,1231.2 L611.9,1231.4 L612.2,1231.6 L612.5,1231.7 L612.8,1231.9 L613.1,1232.1 L613.3,1232.3 L613.6,1232.4 L613.9,1232.6 L614.2,1232.7 L614.5,1232.9 L614.8,1233.0 L615.0,1233.1 L615.3,1233.3 L615.6,1233.4 L615.9,1233.5 L616.2,1233.6 L616.5,1233.8 L616.7,1233.9 L617.0,1234.0 L617.3,1234.1 L617.6,1234.2 L617.9,1234.3 L618.1,1234.3 L618.4,1234.4 L618.7,1234.5 L619.0,1234.6 L619.2,1234.6 L619.5,1234.7 L619.8,1234.7 L620.0,1234.8 L620.3,1234.8 L620.6,1234.9 L620.9,1234.9 L621.1,1234.9 L621.4,1235.0 L621.7,1235.0 L621.9,1235.0 L622.2,1235.0 L622.5,1235.0 L622.7,1235.0 L623.0,1235.0 L623.2,1235.0 L623.5,1235.0 L623.8,1235.0 L624.0,1234.9 L624.3,1234.9 L624.5,1234.9 L624.8,1234.8 L625.0,1234.8 L625.3,1234.7 L625.5,1234.7 L625.8,1234.6 L626.0,1234.6 L626.3,1234.5 L626.5,1234.4 L626.8,1234.3 L627.0,1234.3 L627.3,1234.2 L627.5,1234.1 L627.8,1234.0 L628.0,1233.9 L628.3,1233.8 L628.5,1233.6 L628.8,1233.5 L629.0,1233.4 L629.2,1233.3 L629.5,1233.1 L629.7,1233.0 L630.0,1232.9 L630.2,1232.7 L630.4,1232.6 L630.7,1232.4 L630.9,1232.3 L631.1,1232.1 L631.4,1231.9 L631.6,1231.7 L631.9,1231.6 L632.1,1231.4 L632.3,1231.2 L632.6,1231.0 L632.8,1230.8 L633.0,1230.6 L633.3,1230.4 L633.5,1230.2 L633.7,1229.9 L634.0,1229.7 L634.2,1229.5 L634.4,1229.2 L634.7,1229.0 L634.9,1228.8 L635.1,1228.5 L635.4,1228.3 L635.6,1228.0 L635.8,1227.7 L636.1,1227.5 L636.3,1227.2 L636.5,1226.9 L636.8,1226.6 L637.0,1226.3 L637.2,1226.0 L637.5,1225.7 L637.7,1225.4 L637.9,1225.1 L638.2,1224.8 L638.4,1224.5 L638.6,1224.2 L638.9,1223.9 L639.1,1223.5 L639.3,1223.2 L639.6,1222.8 L639.8,1222.5 L640.1,1222.1 L640.3,1221.8 L640.5,1221.4 L640.8,1221.1 L641.0,1220.7 L641.2,1220.3 L641.5,1219.9 L641.7,1219.5 L642.0,1219.1 L642.2,1218.8 L642.4,1218.3 L642.7,1217.9 L642.9,1217.5 L643.2,1217.1 L643.4,1216.7 L643.6,1216.3 L643.9,1215.8 L644.1,1215.4 L644.4,1215.0 L644.6,1214.5 L644.9,1214.1 L645.1,1213.6 L645.4,1213.2 L645.6,1212.7 L645.9,1212.2 L646.1,1211.7 L646.4,1211.3 L646.6,1210.8 L646.9,1210.3 L647.1,1209.8 L647.4,1209.3 L647.6,1208.8 L647.9,1208.3 L648.1,1207.8 L648.4,1207.3 L648.6,1206.7 L648.9,1206.2 L649.1,1205.7 L649.4,1205.1 L649.7,1204.6 L649.9,1204.0 L650.2,1203.5 L650.4,1202.9 L650.7,1202.4 L651.0,1201.8 L651.2,1201.2 L651.5,1200.6 L651.7,1200.1 L652.0,1199.5 L652.3,1198.9 L652.5,1198.3 L652.8,1197.7 L653.1,1197.1 L653.3,1196.5 L653.6,1195.9 L653.9,1195.2 L654.1,1194.6 L654.4,1194.0 L654.7,1193.3 L655.0,1192.7 L655.2,1192.1 L655.5,1191.4 L655.8,1190.7 L656.0,1190.1 L656.3,1189.4 L656.6,1188.7 L656.9,1188.1 L657.1,1187.4 L657.4,1186.7 L657.7,1186.0 L658.0,1185.3 L658.2,1184.6 L658.5,1183.9 L658.8,1183.2 L659.1,1182.5 L659.4,1181.8 L659.6,1181.1 L659.9,1180.3 L660.2,1179.6 L660.5,1178.9 L660.7,1178.1 L661.0,1177.4 L661.3,1176.6 L661.6,1175.8 L661.9,1175.1 L662.1,1174.3 L662.4,1173.5 L662.7,1172.8 L663.0,1172.0 L663.3,1171.2 L663.5,1170.4 L663.8,1169.6 L664.1,1168.8 L664.4,1168.0 L664.7,1167.2 L664.9,1166.4 L665.2,1165.5 L665.5,1164.7 L665.8,1163.9 L666.1,1163.0 L666.3,1162.2 L666.6,1161.4 L666.9,1160.5 L667.2,1159.7 L667.5,1158.8 L667.7,1157.9 L668.0,1157.1 L668.3,1156.2 L668.6,1155.3 L668.9,1154.4 L669.1,1153.5 L669.4,1152.6 L669.7,1151.7 L670.0,1150.8 L670.2,1149.9 L670.5,1149.0 L670.8,1148.1 L671.1,1147.2 L671.3,1146.2 L671.6,1145.3 L671.9,1144.3 L672.2,1143.4 L672.4,1142.5 L672.7,1141.5 L673.0,1140.5 L673.3,1139.6 L673.5,1138.6 L673.8,1137.6 L674.1,1136.7 L674.3,1135.7 L674.6,1134.7 L674.9,1133.7 L675.2,1132.7 L675.4,1131.7 L675.7,1130.7 L676.0,1129.7 L676.2,1128.7 L676.5,1127.6 L676.8,1126.6 L677.1,1125.6 L677.3,1124.5 L677.6,1123.5 L677.9,1122.4 L678.1,1121.4 L678.4,1120.3 L678.7,1119.3 L678.9,1118.2 L679.2,1117.1 L679.5,1116.1 L679.7,1115.0 L680.0,1113.9 L680.3,1112.8 L680.5,1111.7 L680.8,1110.6 L681.1,1109.5 L681.3,1108.4 L681.6,1107.3 L681.9,1106.2 L682.1,1105.0 L682.4,1103.9 L682.7,1102.8 L682.9,1101.6 L683.2,1100.5 L683.5,1099.3 L683.7,1098.2 L684.0,1097.0 L684.3,1095.8 L684.5,1094.7 L684.8,1093.5 L685.1,1092.3 L685.3,1091.1 L685.6,1090.0 L685.9,1088.8 L686.1,1087.6 L686.4,1086.4 L686.6,1085.1 L686.9,1083.9 L687.2,1082.7 L687.4,1081.5 L687.7,1080.3 L688.0,1079.0 L688.2,1077.8 L688.5,1076.5 L688.8,1075.3 L689.0,1074.0 L689.3,1072.8 L689.5,1071.5 L689.8,1070.3 L690.1,1069.0 L690.3,1067.7 L690.6,1066.4 L690.9,1065.1 L691.1,1063.9 L691.4,1062.6 L691.6,1061.3 L691.9,1059.9 L692.2,1058.6 L692.4,1057.3 L692.7,1056.0 L692.9,1054.7 L693.2,1053.3 L693.5,1052.0 L693.7,1050.7 L694.0,1049.3 L694.2,1048.0 L694.5,1046.6 L694.8,1045.3 L695.0,1043.9 L695.3,1042.5 L695.6,1041.1 L695.8,1039.8 L696.1,1038.4 L696.3,1037.0 L696.6,1035.6 L696.9,1034.2 L697.1,1032.8 L697.4,1031.4 L697.6,1030.0 L697.9,1028.6 L698.2,1027.1 L698.4,1025.7 L698.7,1024.3 L698.9,1022.8 L699.2,1021.4 L699.5,1019.9 L699.7,1018.5 L700.0,1017.0 L700.2,1015.6 L700.5,1014.1 L700.8,1012.6 L701.0,1011.1 L701.3,1009.7 L701.5,1008.2 L701.8,1006.7 L702.1,1005.2 L702.3,1003.7 L702.6,1002.2 L702.8,1000.7 L703.1,999.1 L703.4,997.6 L703.6,996.1 L703.9,994.6 L704.2,993.0 L704.4,991.5 L704.7,989.9 L704.9,988.4 L705.2,986.8 L705.5,985.3 L705.7,983.7 L706.0,982.1 L706.2,980.6 L706.5,979.0 L706.8,977.4 L707.0,975.8 L707.3,974.2 L707.5,972.6 L707.8,971.0 L708.1,969.4 L708.3,967.8 L708.6,966.2 L708.9,964.5 L709.1,962.9 L709.4,961.3 L709.6,959.6 L709.9,958.0 L710.2,956.3 L710.4,954.7 L710.7,953.0 L711.0,951.4 L711.2,949.7 L711.5,948.0 L711.7,946.3 L712.0,944.7 L712.3,943.0 L712.5,941.3 L712.8,939.6 L713.1,937.9 L713.3,936.2 L713.6,934.5 L713.9,932.7 L714.1,931.0 L714.4,929.3 L714.7,927.6 L714.9,925.8 L715.2,924.1 L715.4,922.3 L715.7,920.6 L716.0,918.8 L716.2,917.1 L716.5,915.3 L716.8,913.5 L717.0,911.8 L717.3,910.0 L717.6,908.2 L717.8,906.4 L718.1,904.6 L718.4,902.8 L718.6,901.0 L718.9,899.2 L719.2,897.4 L719.4,895.6 L719.7,893.7 L720.0,891.9 L720.2,890.1 L720.5,888.2 L720.8,886.4 L721.1,884.5 L721.3,882.7 L721.6,880.8 L721.9,879.0 L722.1,877.1 L722.4,875.2 L722.7,873.3 L722.9,871.4 L723.2,869.6 L723.5,867.7 L723.7,865.8 L724.0,863.9 L724.3,862.0 L724.6,860.0 L724.8,858.1 L725.1,856.2 L725.4,854.3 L725.6,852.3 L725.9,850.4 L726.2,848.5 L726.5,846.5 L726.7,844.6 L727.0,842.6 L727.3,840.6 L727.5,838.7 L727.8,836.7 L728.1,834.7 L728.4,832.7 L728.6,830.8 L728.9,828.8 L729.2,826.8 L729.5,824.8 L729.7,822.8 L730.0,820.8 L730.3,818.7 L730.6,816.7 L730.8,814.7 L731.1,812.7 L731.4,810.6 L731.7,808.6 L731.9,806.5 L732.2,804.5 L732.5,802.4 L732.8,800.4 L733.0,798.3 L733.3,796.2 L733.6,794.2 L733.9,792.1 L734.1,790.0 L734.4,787.9 L734.7,785.8 L735.0,783.7 L735.2,781.6 L735.5,779.5 L735.8,777.4 L736.1,775.3 L736.3,773.2 L736.6,771.0 L736.9,768.9 L737.2,766.8 L737.4,764.6 L737.7,762.5 L738.0,760.3 L738.3,758.2 L738.6,756.0 L738.8,753.8 L739.1,751.6 L739.4,749.5 L739.7,747.3 L739.9,745.1 L740.2,742.9 L740.5,740.7 L740.8,738.5 L741.1,736.3 L741.3,734.1 L741.6,731.9 L741.9,729.7 L742.2,727.4 L742.4,725.2 L742.7,723.0 L743.0,720.7 L743.3,718.5 L743.6,716.2 L743.8,714.0 L744.1,711.7 L744.4,709.4 L744.7,707.2 L744.9,704.9 L745.2,702.6 L745.5,700.3 L745.8,698.0 L746.1,695.8 L746.3,693.5 L746.6,691.1 L746.9,688.8 L747.2,686.5 L747.5,684.2 L747.7,681.9 L748.0,679.6 L748.3,677.2 L748.6,674.9 L748.9,672.5 L749.1,670.2 L749.4,667.8 L749.7,665.5 L750.0,663.1 L750.3,660.7 L750.5,658.4 L750.8,656.0 L751.1,653.6 L751.4,651.2 L751.7,648.8 L751.9,646.4 L752.2,644.0 L752.5,641.6 L752.8,639.2 L753.1,636.8 L753.3,634.4 L753.6,631.9 L753.9,629.5 L754.2,627.1 L754.5,624.6 L754.7,622.2 L755.0,619.7 L755.3,617.3 L755.6,614.8 L755.9,612.4 L756.1,609.9 L756.4,607.4 L756.7,604.9 L757.0,602.4 L757.3,600.0 L757.5,597.5 L757.8,595.0 L758.1,592.5 L758.4,589.9 L758.7,587.4 L758.9,584.9 L759.2,582.4 L759.5,579.9 L759.8,577.3 L760.1,574.8 L760.3,572.2 L760.6,569.7 L760.9,567.1 L761.2,564.6 L761.5,562.0 L761.7,559.4 L762.0,556.9 L762.3,554.3 L762.6,551.7 L762.9,549.1 L763.1,546.5 L763.4,543.9 L763.7,541.3 L764.0,538.7 L764.2,536.1 L764.5,533.5 L764.8,530.9 L765.1,528.2 L765.4,525.6 L765.6,523.0 L765.9,520.3 L766.2,517.7 L766.5,515.0 L766.8,512.4 L767.0,509.7 L767.3,507.0 L767.6,504.4 L767.9,501.7 L768.2,499.0 L768.4,496.3 L768.7,493.6 L769.0,490.9 L769.3,488.2 L769.6,485.5 L769.8,482.8 L770.1,480.1 L770.4,477.4 L770.7,474.7 L770.9,471.9 L771.2,469.2 L771.5,466.5 L771.8,463.7 L772.1,461.0 L772.3,458.2 L772.6,455.4 L772.9,452.7 L773.2,449.9 L773.4,447.1 L773.7,444.4 L774.0,441.6 L774.3,438.8 L774.6,436.0 L774.8,433.2 L775.1,430.4 L775.4,427.6 L775.7,424.8 L775.9,421.9 L776.2,419.1 L776.5,416.3 L776.8,413.5 L777.0,410.6 L777.3,407.8 L777.6,404.9 L777.9,402.1 L778.1,399.2 L778.4,396.4 L778.7,393.5 L779.0,390.6 L779.3,387.7 L779.5,384.9 L779.8,382.0 L780.1,379.1 L780.4,376.2 L780.6,373.3 L780.9,370.4 L781.2,367.5 L781.5,364.6 L781.7,361.6 L782.0,358.7 L782.3,355.8 L782.5,352.8 L782.8,349.9 L783.1,347.0 L783.4,344.0 L783.6,341.1 L783.9,338.1 L784.2,335.1 L784.5,332.2 L784.7,329.2 L785.0,326.2 L785.3,323.2 L785.6,320.2 L785.8,317.2 L786.1,314.2 L786.4,311.2 L786.6,308.2 L786.9,305.2 L787.2,302.2 L787.5,299.2 L787.7,296.1 L788.0,293.1 L788.3,290.1 L788.5,287.0 L788.8,284.0 L789.1,280.9 L789.4,277.9 L789.6,274.8 L789.9,271.7 L790.2,268.7 L790.4,265.6 L790.7,262.5 L791.0,259.4 L791.2,256.3 L791.5,253.2 L791.8,250.1 L792.1,247.0 L792.3,243.9 L792.6,240.8 L792.9,237.7 L793.1,234.5 L793.4,231.4 L793.7,228.3 L793.9,225.1 L794.2,222.0 L794.5,218.8 L794.7,215.7 L795.0,212.5 L795.3,209.4 L795.5,206.2 L795.8,203.0 L796.1,199.8 L796.3,196.6 L796.6,193.5 L796.9,190.3 L797.1,187.1 L797.4,183.9 L797.7,180.6 L797.9,177.4 L798.2,174.2 L798.4,171.0 L798.7,167.8 L799.0,164.5 L799.2,161.3 L799.5,158.0 L799.8,154.8 L800.0,151.5 L800.3,148.3 L800.6,145.0 L800.8,141.7 L801.1,138.5 L801.3,135.2 L801.6,131.9 L801.9,128.6 L802.1,125.3 L802.4,122.0 L802.6,118.7 L802.9,115.4 L803.2,112.1 L803.4,108.8 L803.7,105.5 L803.9,102.1 L804.2,98.8 L804.5,95.5 L804.7,92.1 L805.0,88.8 L805.2,85.4 L805.5,82.1 L805.8,78.7 L806.0,75.4 L806.3,72.0 L806.5,68.6 L806.8,65.2 L807.0,61.8 L807.3,58.4 L807.6,55.1 L807.8,51.7 L808.1,48.2 L808.3,44.8 L808.6,41.4 L808.8,38.0" fill="none" stroke="#f00" stroke-width="5.8" stroke-linejoin="round" stroke-linecap="round" shape-rendering="crispEdges" stroke-dasharray="7.8 15.2" stroke-dashoffset="13.29"/>
<path d="M430.4,38.0 L430.7,41.4 L431.0,44.8 L431.4,48.2 L431.7,51.6 L432.0,55.0 L432.3,58.4 L432.6,61.8 L432.9,65.2 L433.2,68.6 L433.5,71.9 L433.8,75.3 L434.1,78.7 L434.4,82.0 L434.7,85.4 L435.0,88.7 L435.3,92.1 L435.6,95.4 L435.9,98.7 L436.2,102.1 L436.5,105.4 L436.8,108.7 L437.1,112.0 L437.4,115.3 L437.7,118.6 L438.0,121.9 L438.3,125.2 L438.6,128.5 L438.9,131.8 L439.2,135.1 L439.5,138.3 L439.8,141.6 L440.1,144.9 L440.4,148.1 L440.7,151.4 L441.0,154.6 L441.3,157.9 L441.6,161.1 L441.9,164.4 L442.2,167.6 L442.5,170.8 L442.8,174.0 L443.1,177.3 L443.4,180.5 L443.7,183.7 L444.0,186.9 L444.3,190.1 L444.6,193.3 L444.9,196.4 L445.2,199.6 L445.5,202.8 L445.8,206.0 L446.1,209.1 L446.4,212.3 L446.7,215.5 L446.9,218.6 L447.2,221.8 L447.5,224.9 L447.8,228.0 L448.1,231.2 L448.4,234.3 L448.7,237.4 L449.0,240.5 L449.3,243.6 L449.6,246.8 L449.9,249.9 L450.2,253.0 L450.5,256.0 L450.8,259.1 L451.1,262.2 L451.4,265.3 L451.7,268.4 L452.0,271.4 L452.3,274.5 L452.6,277.6 L452.9,280.6 L453.2,283.7 L453.5,286.7 L453.8,289.8 L454.1,292.8 L454.4,295.8 L454.7,298.8 L455.0,301.9 L455.3,304.9 L455.6,307.9 L455.9,310.9 L456.2,313.9 L456.4,316.9 L456.7,319.9 L457.0,322.9 L457.3,325.8 L457.6,328.8 L457.9,331.8 L458.2,334.8 L458.5,337.7 L458.8,340.7 L459.1,343.6 L459.4,346.6 L459.7,349.5 L460.0,352.5 L460.3,355.4 L460.6,358.3 L460.9,361.2 L461.2,364.1 L461.5,367.1 L461.8,370.0 L462.0,372.9 L462.3,375.8 L462.6,378.7 L462.9,381.6 L463.2,384.4 L463.5,387.3 L463.8,390.2 L464.1,393.1 L464.4,395.9 L464.7,398.8 L465.0,401.6 L465.3,404.5 L465.6,407.3 L465.9,410.2 L466.2,413.0 L466.5,415.8 L466.7,418.6 L467.0,421.5 L467.3,424.3 L467.6,427.1 L467.9,429.9 L468.2,432.7 L468.5,435.5 L468.8,438.3 L469.1,441.1 L469.4,443.8 L469.7,446.6 L470.0,449.4 L470.3,452.2 L470.5,454.9 L470.8,457.7 L471.1,460.4 L471.4,463.2 L471.7,465.9 L472.0,468.7 L472.3,471.4 L472.6,474.1 L472.9,476.8 L473.2,479.6 L473.5,482.3 L473.8,485.0 L474.0,487.7 L474.3,490.4 L474.6,493.1 L474.9,495.7 L475.2,498.4 L475.5,501.1 L475.8,503.8 L476.1,506.5 L476.4,509.1 L476.7,511.8 L477.0,514.4 L477.2,517.1 L477.5,519.7 L477.8,522.4 L478.1,525.0 L478.4,527.6 L478.7,530.2 L479.0,532.9 L479.3,535.5 L479.6,538.1 L479.9,540.7 L480.1,543.3 L480.4,545.9 L480.7,548.5 L481.0,551.1 L481.3,553.6 L481.6,556.2 L481.9,558.8 L482.2,561.4 L482.5,563.9 L482.7,566.5 L483.0,569.0 L483.3,571.6 L483.6,574.1 L483.9,576.6 L484.2,579.2 L484.5,581.7 L484.8,584.2 L485.1,586.7 L485.3,589.2 L485.6,591.8 L485.9,594.3 L486.2,596.8 L486.5,599.2 L486.8,601.7 L487.1,604.2 L487.4,606.7 L487.6,609.2 L487.9,611.6 L488.2,614.1 L488.5,616.6 L488.8,619.0 L489.1,621.5 L489.4,623.9 L489.7,626.3 L489.9,628.8 L490.2,631.2 L490.5,633.6 L490.8,636.0 L491.1,638.5 L491.4,640.9 L491.7,643.3 L492.0,645.7 L492.2,648.1 L492.5,650.5 L492.8,652.8 L493.1,655.2 L493.4,657.6 L493.7,660.0 L494.0,662.3 L494.2,664.7 L494.5,667.0 L494.8,669.4 L495.1,671.7 L495.4,674.1 L495.7,676.4 L496.0,678.7 L496.2,681.1 L496.5,683.4 L496.8,685.7 L497.1,688.0 L497.4,690.3 L497.7,692.6 L498.0,694.9 L498.2,697.2 L498.5,699.5 L498.8,701.8 L499.1,704.1 L499.4,706.3 L499.7,708.6 L499.9,710.9 L500.2,713.1 L500.5,715.4 L500.8,717.6 L501.1,719.9 L501.4,722.1 L501.7,724.3 L501.9,726.6 L502.2,728.8 L502.5,731.0 L502.8,733.2 L503.1,735.4 L503.4,737.6 L503.6,739.8 L503.9,742.0 L504.2,744.2 L504.5,746.4 L504.8,748.6 L505.1,750.8 L505.3,752.9 L505.6,755.1 L505.9,757.2 L506.2,759.4 L506.5,761.6 L506.8,763.7 L507.0,765.8 L507.3,768.0 L507.6,770.1 L507.9,772.2 L508.2,774.4 L508.4,776.5 L508.7,778.6 L509.0,780.7 L509.3,782.8 L509.6,784.9 L509.9,787.0 L510.1,789.1 L510.4,791.1 L510.7,793.2 L511.0,795.3 L511.3,797.4 L511.5,799.4 L511.8,801.5 L512.1,803.5 L512.4,805.6 L512.7,807.6 L513.0,809.7 L513.2,811.7 L513.5,813.7 L513.8,815.7 L514.1,817.8 L514.4,819.8 L514.6,821.8 L514.9,823.8 L515.2,825.8 L515.5,827.8 L515.8,829.8 L516.0,831.8 L516.3,833.7 L516.6,835.7 L516.9,837.7 L517.2,839.6 L517.4,841.6 L517.7,843.6 L518.0,845.5 L518.3,847.4 L518.6,849.4 L518.8,851.3 L519.1,853.3 L519.4,855.2 L519.7,857.1 L520.0,859.0 L520.2,860.9 L520.5,862.8 L520.8,864.7 L521.1,866.6 L521.3,868.5 L521.6,870.4 L521.9,872.3 L522.2,874.2 L522.5,876.0 L522.7,877.9 L523.0,879.8 L523.3,881.6 L523.6,883.5 L523.9,885.3 L524.1,887.2 L524.4,889.0 L524.7,890.8 L525.0,892.7 L525.2,894.5 L525.5,896.3 L525.8,898.1 L526.1,899.9 L526.4,901.7 L526.6,903.5 L526.9,905.3 L527.2,907.1 L527.5,908.9 L527.7,910.7 L528.0,912.4 L528.3,914.2 L528.6,916.0 L528.8,917.7 L529.1,919.5 L529.4,921.2 L529.7,923.0 L530.0,924.7 L530.2,926.5 L530.5,928.2 L530.8,929.9 L531.1,931.6 L531.3,933.3 L531.6,935.1 L531.9,936.8 L532.2,938.5 L532.4,940.2 L532.7,941.8 L533.0,943.5 L533.3,945.2 L533.5,946.9 L533.8,948.6 L534.1,950.2 L534.4,951.9 L534.6,953.5 L534.9,955.2 L535.2,956.8 L535.5,958.5 L535.7,960.1 L536.0,961.8 L536.3,963.4 L536.6,965.0 L536.8,966.6 L537.1,968.2 L537.4,969.8 L537.7,971.4 L537.9,973.0 L538.2,974.6 L538.5,976.2 L538.8,977.8 L539.0,979.4 L539.3,981.0 L539.6,982.5 L539.9,984.1 L540.1,985.6 L540.4,987.2 L540.7,988.8 L541.0,990.3 L541.2,991.8 L541.5,993.4 L541.8,994.9 L542.1,996.4 L542.3,997.9 L542.6,999.5 L542.9,1001.0 L543.1,1002.5 L543.4,1004.0 L543.7,1005.5 L544.0,1007.0 L544.2,1008.4 L544.5,1009.9 L544.8,1011.4 L545.1,1012.9 L545.3,1014.3 L545.6,1015.8 L545.9,1017.3 L546.1,1018.7 L546.4,1020.2 L546.7,1021.6 L547.0,1023.0 L547.2,1024.5 L547.5,1025.9 L547.8,1027.3 L548.0,1028.7 L548.3,1030.1 L548.6,1031.5 L548.9,1032.9 L549.1,1034.3 L549.4,1035.7 L549.7,1037.1 L549.9,1038.5 L550.2,1039.9 L550.5,1041.3 L550.8,1042.6 L551.0,1044.0 L551.3,1045.4 L551.6,1046.7 L551.8,1048.1 L552.1,1049.4 L552.4,1050.7 L552.7,1052.1 L552.9,1053.4 L553.2,1054.7 L553.5,1056.0 L553.7,1057.4 L554.0,1058.7 L554.3,1060.0 L554.5,1061.3 L554.8,1062.6 L555.1,1063.9 L555.4,1065.1 L555.6,1066.4 L555.9,1067.7 L556.2,1069.0 L556.4,1070.2 L556.7,1071.5 L557.0,1072.8 L557.2,1074.0 L557.5,1075.2 L557.8,1076.5 L558.1,1077.7 L558.3,1079.0 L558.6,1080.2 L558.9,1081.4 L559.1,1082.6 L559.4,1083.8 L559.7,1085.0 L559.9,1086.2 L560.2,1087.4 L560.5,1088.6 L560.7,1089.8 L561.0,1091.0 L561.3,1092.2 L561.5,1093.4 L561.8,1094.5 L562.1,1095.7 L562.4,1096.8 L562.6,1098.0 L562.9,1099.1 L563.2,1100.3 L563.4,1101.4 L563.7,1102.6 L564.0,1103.7 L564.2,1104.8 L564.5,1105.9 L564.8,1107.0 L565.0,1108.2 L565.3,1109.3 L565.6,1110.4 L565.8,1111.5 L566.1,1112.5 L566.4,1113.6 L566.6,1114.7 L566.9,1115.8 L567.2,1116.9 L567.4,1117.9 L567.7,1119.0 L568.0,1120.0 L568.2,1121.1 L568.5,1122.1 L568.8,1123.2 L569.0,1124.2 L569.3,1125.2 L569.6,1126.3 L569.8,1127.3 L570.1,1128.3 L570.4,1129.3 L570.6,1130.3 L570.9,1131.3 L571.2,1132.3 L571.4,1133.3 L571.7,1134.3 L572.0,1135.3 L572.2,1136.3 L572.5,1137.2 L572.8,1138.2 L573.0,1139.2 L573.3,1140.1 L573.6,1141.1 L573.8,1142.0 L574.1,1143.0 L574.4,1143.9 L574.6,1144.8 L574.9,1145.8 L575.2,1146.7 L575.4,1147.6 L575.7,1148.5 L576.0,1149.4 L576.2,1150.3 L576.5,1151.2 L576.8,1152.1 L577.0,1153.0 L577.3,1153.9 L577.6,1154.8 L577.8,1155.7 L578.1,1156.5 L578.4,1157.4 L578.6,1158.2 L578.9,1159.1 L579.2,1160.0 L579.4,1160.8 L579.7,1161.6 L580.0,1162.5 L580.2,1163.3 L580.5,1164.1 L580.8,1165.0 L581.0,1165.8 L581.3,1166.6 L581.6,1167.4 L581.8,1168.2 L582.1,1169.0 L582.4,1169.8 L582.6,1170.6 L582.9,1171.3 L583.1,1172.1 L583.4,1172.9 L583.7,1173.7 L583.9,1174.4 L584.2,1175.2 L584.5,1175.9 L584.7,1176.7 L585.0,1177.4 L585.3,1178.2 L585.5,1178.9 L585.8,1179.6 L586.1,1180.3 L586.3,1181.1 L586.6,1181.8 L586.9,1182.5 L587.1,1183.2 L587.4,1183.9 L587.7,1184.6 L587.9,1185.3 L588.2,1186.0 L588.4,1186.6 L588.7,1187.3 L589.0,1188.0 L589.2,1188.6 L589.5,1189.3 L589.8,1190.0 L590.0,1190.6 L590.3,1191.3 L590.6,1191.9 L590.8,1192.5 L591.1,1193.2 L591.4,1193.8 L591.6,1194.4 L591.9,1195.0 L592.2,1195.6 L592.4,1196.2 L592.7,1196.8 L593.0,1197.4 L593.2,1198.0 L593.5,1198.6 L593.7,1199.2 L594.0,1199.8 L594.3,1200.3 L594.5,1200.9 L594.8,1201.5 L595.1,1202.0 L595.3,1202.6 L595.6,1203.1 L595.9,1203.7 L596.1,1204.2 L596.4,1204.7 L596.7,1205.3 L596.9,1205.8 L597.2,1206.3 L597.5,1206.8 L597.7,1207.3 L598.0,1207.8 L598.2,1208.3 L598.5,1208.8 L598.8,1209.3 L599.0,1209.8 L599.3,1210.3 L599.6,1210.7 L599.8,1211.2 L600.1,1211.7 L600.4,1212.1 L600.6,1212.6 L600.9,1213.0 L601.2,1213.5 L601.4,1213.9 L601.7,1214.4 L602.0,1214.8 L602.2,1215.2 L602.5,1215.6 L602.7,1216.1 L603.0,1216.5 L603.3,1216.9 L603.5,1217.3 L603.8,1217.7 L604.1,1218.1 L604.3,1218.4 L604.6,1218.8 L604.9,1219.2 L605.1,1219.6 L605.4,1219.9 L605.7,1220.3 L605.9,1220.7 L606.2,1221.0 L606.5,1221.4 L606.7,1221.7 L607.0,1222.0 L607.2,1222.4 L607.5,1222.7 L607.8,1223.0 L608.0,1223.3 L608.3,1223.6 L608.6,1224.0 L608.8,1224.3 L609.1,1224.6 L609.4,1224.9 L609.6,1225.1 L609.9,1225.4 L610.2,1225.7 L610.4,1226.0 L610.7,1226.2 L611.0,1226.5 L611.2,1226.8 L611.5,1227.0 L611.8,1227.3 L612.0,1227.5 L612.3,1227.8 L612.6,1228.0 L612.8,1228.2 L613.1,1228.4 L613.3,1228.7 L613.6,1228.9 L613.9,1229.1 L614.1,1229.3 L614.4,1229.5 L614.7,1229.7 L614.9,1229.9 L615.2,1230.1 L615.5,1230.2 L615.7,1230.4 L616.0,1230.6 L616.3,1230.8 L616.5,1230.9 L616.8,1231.1 L617.1,1231.2 L617.3,1231.4 L617.6,1231.5 L617.9,1231.7 L618.1,1231.8 L618.4,1231.9 L618.7,1232.0 L618.9,1232.2 L619.2,1232.3 L619.5,1232.4 L619.7,1232.5 L620.0,1232.6 L620.3,1232.7 L620.5,1232.8 L620.8,1232.8 L621.1,1232.9 L621.3,1233.0 L621.6,1233.1 L621.9,1233.1 L622.1,1233.2 L622.4,1233.2 L622.7,1233.3 L622.9,1233.3 L623.2,1233.4 L623.5,1233.4 L623.7,1233.4 L624.0,1233.5 L624.3,1233.5 L624.5,1233.5 L624.8,1233.5 L625.1,1233.5 L625.3,1233.5 L625.6,1233.5 L625.9,1233.5 L626.1,1233.5 L626.4,1233.5 L626.7,1233.4 L626.9,1233.4 L627.2,1233.4 L627.5,1233.3 L627.7,1233.3 L628.0,1233.2 L628.3,1233.2 L628.5,1233.1 L628.8,1233.1 L629.1,1233.0 L629.3,1232.9 L629.6,1232.8 L629.9,1232.8 L630.1,1232.7 L630.4,1232.6 L630.7,1232.5 L630.9,1232.4 L631.2,1232.3 L631.5,1232.2 L631.7,1232.0 L632.0,1231.9 L632.3,1231.8 L632.5,1231.7 L632.8,1231.5 L633.1,1231.4 L633.4,1231.2 L633.6,1231.1 L633.9,1230.9 L634.2,1230.8 L634.4,1230.6 L634.7,1230.4 L635.0,1230.2 L635.2,1230.1 L635.5,1229.9 L635.8,1229.7 L636.0,1229.5 L636.3,1229.3 L636.6,1229.1 L636.8,1228.9 L637.1,1228.7 L637.4,1228.4 L637.6,1228.2 L637.9,1228.0 L638.2,1227.8 L638.5,1227.5 L638.7,1227.3 L639.0,1227.0 L639.3,1226.8 L639.5,1226.5 L639.8,1226.2 L640.1,1226.0 L640.3,1225.7 L640.6,1225.4 L640.9,1225.1 L641.1,1224.9 L641.4,1224.6 L641.7,1224.3 L641.9,1224.0 L642.2,1223.6 L642.5,1223.3 L642.7,1223.0 L643.0,1222.7 L643.3,1222.4 L643.6,1222.0 L643.8,1221.7 L644.1,1221.4 L644.4,1221.0 L644.6,1220.7 L644.9,1220.3 L645.2,1219.9 L645.4,1219.6 L645.7,1219.2 L646.0,1218.8 L646.2,1218.4 L646.5,1218.1 L646.8,1217.7 L647.0,1217.3 L647.3,1216.9 L647.6,1216.5 L647.9,1216.1 L648.1,1215.6 L648.4,1215.2 L648.7,1214.8 L648.9,1214.4 L649.2,1213.9 L649.5,1213.5 L649.7,1213.0 L650.0,1212.6 L650.3,1212.1 L650.5,1211.7 L650.8,1211.2 L651.1,1210.7 L651.3,1210.3 L651.6,1209.8 L651.9,1209.3 L652.2,1208.8 L652.4,1208.3 L652.7,1207.8 L653.0,1207.3 L653.2,1206.8 L653.5,1206.3 L653.8,1205.8 L654.0,1205.3 L654.3,1204.7 L654.6,1204.2 L654.8,1203.7 L655.1,1203.1 L655.4,1202.6 L655.6,1202.0 L655.9,1201.5 L656.2,1200.9 L656.5,1200.3 L656.7,1199.8 L657.0,1199.2 L657.3,1198.6 L657.5,1198.0 L657.8,1197.4 L658.1,1196.8 L658.3,1196.2 L658.6,1195.6 L658.9,1195.0 L659.1,1194.4 L659.4,1193.8 L659.7,1193.2 L659.9,1192.5 L660.2,1191.9 L660.5,1191.3 L660.7,1190.6 L661.0,1190.0 L661.3,1189.3 L661.5,1188.6 L661.8,1188.0 L662.1,1187.3 L662.4,1186.6 L662.6,1186.0 L662.9,1185.3 L663.2,1184.6 L663.4,1183.9 L663.7,1183.2 L664.0,1182.5 L664.2,1181.8 L664.5,1181.1 L664.8,1180.3 L665.0,1179.6 L665.3,1178.9 L665.6,1178.2 L665.8,1177.4 L666.1,1176.7 L666.4,1175.9 L666.6,1175.2 L666.9,1174.4 L667.2,1173.7 L667.4,1172.9 L667.7,1172.1 L668.0,1171.3 L668.2,1170.6 L668.5,1169.8 L668.8,1169.0 L669.0,1168.2 L669.3,1167.4 L669.6,1166.6 L669.8,1165.8 L670.1,1165.0 L670.4,1164.1 L670.6,1163.3 L670.9,1162.5 L671.2,1161.6 L671.4,1160.8 L671.7,1160.0 L672.0,1159.1 L672.2,1158.2 L672.5,1157.4 L672.8,1156.5 L673.0,1155.7 L673.3,1154.8 L673.6,1153.9 L673.8,1153.0 L674.1,1152.1 L674.4,1151.2 L674.6,1150.3 L674.9,1149.4 L675.2,1148.5 L675.4,1147.6 L675.7,1146.7 L676.0,1145.8 L676.2,1144.8 L676.5,1143.9 L676.8,1143.0 L677.0,1142.0 L677.3,1141.1 L677.6,1140.1 L677.8,1139.2 L678.1,1138.2 L678.4,1137.2 L678.6,1136.3 L678.9,1135.3 L679.1,1134.3 L679.4,1133.3 L679.7,1132.3 L679.9,1131.3 L680.2,1130.3 L680.5,1129.3 L680.7,1128.3 L681.0,1127.3 L681.3,1126.3 L681.5,1125.2 L681.8,1124.2 L682.1,1123.2 L682.3,1122.1 L682.6,1121.1 L682.9,1120.0 L683.1,1119.0 L683.4,1117.9 L683.6,1116.9 L683.9,1115.8 L684.2,1114.7 L684.4,1113.6 L684.7,1112.5 L685.0,1111.5 L685.2,1110.4 L685.5,1109.3 L685.8,1108.2 L686.0,1107.0 L686.3,1105.9 L686.5,1104.8 L686.8,1103.7 L687.1,1102.6 L687.3,1101.4 L687.6,1100.3 L687.9,1099.1 L688.1,1098.0 L688.4,1096.8 L688.7,1095.7 L688.9,1094.5 L689.2,1093.4 L689.4,1092.2 L689.7,1091.0 L690.0,1089.8 L690.2,1088.6 L690.5,1087.4 L690.8,1086.2 L691.0,1085.0 L691.3,1083.8 L691.5,1082.6 L691.8,1081.4 L692.1,1080.2 L692.3,1079.0 L692.6,1077.7 L692.9,1076.5 L693.1,1075.2 L693.4,1074.0 L693.6,1072.8 L693.9,1071.5 L694.2,1070.2 L694.4,1069.0 L694.7,1067.7 L695.0,1066.4 L695.2,1065.1 L695.5,1063.9 L695.7,1062.6 L696.0,1061.3 L696.3,1060.0 L696.5,1058.7 L696.8,1057.4 L697.1,1056.0 L697.3,1054.7 L697.6,1053.4 L697.8,1052.1 L698.1,1050.7 L698.4,1049.4 L698.6,1048.1 L698.9,1046.7 L699.2,1045.4 L699.4,1044.0 L699.7,1042.6 L699.9,1041.3 L700.2,1039.9 L700.5,1038.5 L700.7,1037.1 L701.0,1035.7 L701.3,1034.3 L701.5,1032.9 L701.8,1031.5 L702.0,1030.1 L702.3,1028.7 L702.6,1027.3 L702.8,1025.9 L703.1,1024.5 L703.3,1023.0 L703.6,1021.6 L703.9,1020.2 L704.1,1018.7 L704.4,1017.3 L704.7,1015.8 L704.9,1014.3 L705.2,1012.9 L705.4,1011.4 L705.7,1009.9 L706.0,1008.4 L706.2,1007.0 L706.5,1005.5 L706.7,1004.0 L707.0,1002.5 L707.3,1001.0 L707.5,999.5 L707.8,997.9 L708.1,996.4 L708.3,994.9 L708.6,993.4 L708.8,991.8 L709.1,990.3 L709.4,988.8 L709.6,987.2 L709.9,985.6 L710.1,984.1 L710.4,982.5 L710.7,981.0 L710.9,979.4 L711.2,977.8 L711.4,976.2 L711.7,974.6 L712.0,973.0 L712.2,971.4 L712.5,969.8 L712.8,968.2 L713.0,966.6 L713.3,965.0 L713.5,963.4 L713.8,961.8 L714.1,960.1 L714.3,958.5 L714.6,956.8 L714.8,955.2 L715.1,953.5 L715.4,951.9 L715.6,950.2 L715.9,948.6 L716.2,946.9 L716.4,945.2 L716.7,943.5 L716.9,941.8 L717.2,940.2 L717.5,938.5 L717.7,936.8 L718.0,935.1 L718.2,933.3 L718.5,931.6 L718.8,929.9 L719.0,928.2 L719.3,926.5 L719.6,924.7 L719.8,923.0 L720.1,921.2 L720.3,919.5 L720.6,917.7 L720.9,916.0 L721.1,914.2 L721.4,912.4 L721.6,910.7 L721.9,908.9 L722.2,907.1 L722.4,905.3 L722.7,903.5 L722.9,901.7 L723.2,899.9 L723.5,898.1 L723.7,896.3 L724.0,894.5 L724.3,892.7 L724.5,890.8 L724.8,889.0 L725.0,887.2 L725.3,885.3 L725.6,883.5 L725.8,881.6 L726.1,879.8 L726.3,877.9 L726.6,876.0 L726.9,874.2 L727.1,872.3 L727.4,870.4 L727.7,868.5 L727.9,866.6 L728.2,864.7 L728.4,862.8 L728.7,860.9 L729.0,859.0 L729.2,857.1 L729.5,855.2 L729.7,853.3 L730.0,851.3 L730.3,849.4 L730.5,847.4 L730.8,845.5 L731.1,843.6 L731.3,841.6 L731.6,839.6 L731.8,837.7 L732.1,835.7 L732.4,833.7 L732.6,831.8 L732.9,829.8 L733.2,827.8 L733.4,825.8 L733.7,823.8 L733.9,821.8 L734.2,819.8 L734.5,817.8 L734.7,815.7 L735.0,813.7 L735.2,811.7 L735.5,809.7 L735.8,807.6 L736.0,805.6 L736.3,803.5 L736.6,801.5 L736.8,799.4 L737.1,797.4 L737.3,795.3 L737.6,793.2 L737.9,791.1 L738.1,789.1 L738.4,787.0 L738.7,784.9 L738.9,782.8 L739.2,780.7 L739.4,778.6 L739.7,776.5 L740.0,774.4 L740.2,772.2 L740.5,770.1 L740.8,768.0 L741.0,765.8 L741.3,763.7 L741.5,761.6 L741.8,759.4 L742.1,757.2 L742.3,755.1 L742.6,752.9 L742.9,750.8 L743.1,748.6 L743.4,746.4 L743.6,744.2 L743.9,742.0 L744.2,739.8 L744.4,737.6 L744.7,735.4 L745.0,733.2 L745.2,731.0 L745.5,728.8 L745.7,726.6 L746.0,724.3 L746.3,722.1 L746.5,719.9 L746.8,717.6 L747.1,715.4 L747.3,713.1 L747.6,710.9 L747.9,708.6 L748.1,706.3 L748.4,704.1 L748.6,701.8 L748.9,699.5 L749.2,697.2 L749.4,694.9 L749.7,692.6 L750.0,690.3 L750.2,688.0 L750.5,685.7 L750.8,683.4 L751.0,681.1 L751.3,678.7 L751.5,676.4 L751.8,674.1 L752.1,671.7 L752.3,669.4 L752.6,667.0 L752.9,664.7 L753.1,662.3 L753.4,660.0 L753.7,657.6 L753.9,655.2 L754.2,652.8 L754.4,650.5 L754.7,648.1 L755.0,645.7 L755.2,643.3 L755.5,640.9 L755.8,638.5 L756.0,636.0 L756.3,633.6 L756.6,631.2 L756.8,628.8 L757.1,626.3 L757.4,623.9 L757.6,621.5 L757.9,619.0 L758.2,616.6 L758.4,614.1 L758.7,611.6 L758.9,609.2 L759.2,606.7 L759.5,604.2 L759.7,601.7 L760.0,599.2 L760.3,596.8 L760.5,594.3 L760.8,591.8 L761.1,589.2 L761.3,586.7 L761.6,584.2 L761.9,581.7 L762.1,579.2 L762.4,576.6 L762.7,574.1 L762.9,571.6 L763.2,569.0 L763.5,566.5 L763.7,563.9 L764.0,561.4 L764.3,558.8 L764.5,556.2 L764.8,553.6 L765.1,551.1 L765.3,548.5 L765.6,545.9 L765.8,543.3 L766.1,540.7 L766.4,538.1 L766.6,535.5 L766.9,532.9 L767.2,530.2 L767.4,527.6 L767.7,525.0 L768.0,522.4 L768.2,519.7 L768.5,517.1 L768.8,514.4 L769.0,511.8 L769.3,509.1 L769.6,506.5 L769.8,503.8 L770.1,501.1 L770.4,498.4 L770.6,495.7 L770.9,493.1 L771.2,490.4 L771.4,487.7 L771.7,485.0 L772.0,482.3 L772.3,479.6 L772.5,476.8 L772.8,474.1 L773.1,471.4 L773.3,468.7 L773.6,465.9 L773.9,463.2 L774.1,460.4 L774.4,457.7 L774.7,454.9 L774.9,452.2 L775.2,449.4 L775.5,446.6 L775.7,443.8 L776.0,441.1 L776.3,438.3 L776.5,435.5 L776.8,432.7 L777.1,429.9 L777.3,427.1 L777.6,424.3 L777.9,421.5 L778.1,418.6 L778.4,415.8 L778.7,413.0 L779.0,410.2 L779.2,407.3 L779.5,404.5 L779.8,401.6 L780.0,398.8 L780.3,395.9 L780.6,393.1 L780.8,390.2 L781.1,387.3 L781.4,384.4 L781.6,381.6 L781.9,378.7 L782.2,375.8 L782.5,372.9 L782.7,370.0 L783.0,367.1 L783.3,364.1 L783.5,361.2 L783.8,358.3 L784.1,355.4 L784.3,352.5 L784.6,349.5 L784.9,346.6 L785.2,343.6 L785.4,340.7 L785.7,337.7 L786.0,334.8 L786.2,331.8 L786.5,328.8 L786.8,325.8 L787.0,322.9 L787.3,319.9 L787.6,316.9 L787.9,313.9 L788.1,310.9 L788.4,307.9 L788.7,304.9 L788.9,301.9 L789.2,298.8 L789.5,295.8 L789.8,292.8 L790.0,289.8 L790.3,286.7 L790.6,283.7 L790.8,280.6 L791.1,277.6 L791.4,274.5 L791.7,271.4 L791.9,268.4 L792.2,265.3 L792.5,262.2 L792.8,259.1 L793.0,256.0 L793.3,253.0 L793.6,249.9 L793.8,246.8 L794.1,243.6 L794.4,240.5 L794.7,237.4 L794.9,234.3 L795.2,231.2 L795.5,228.0 L795.8,224.9 L796.0,221.8 L796.3,218.6 L796.6,215.5 L796.8,212.3 L797.1,209.1 L797.4,206.0 L797.7,202.8 L797.9,199.6 L798.2,196.4 L798.5,193.3 L798.8,190.1 L799.0,186.9 L799.3,183.7 L799.6,180.5 L799.9,177.3 L800.1,174.0 L800.4,170.8 L800.7,167.6 L801.0,164.4 L801.2,161.1 L801.5,157.9 L801.8,154.6 L802.1,151.4 L802.3,148.1 L802.6,144.9 L802.9,141.6 L803.2,138.3 L803.4,135.1 L803.7,131.8 L804.0,128.5 L804.3,125.2 L804.5,121.9 L804.8,118.6 L805.1,115.3 L805.4,112.0 L805.6,108.7 L805.9,105.4 L806.2,102.1 L806.5,98.7 L806.7,95.4 L807.0,92.1 L807.3,88.7 L807.6,85.4 L807.8,82.0 L808.1,78.7 L808.4,75.3 L808.7,71.9 L809.0,68.6 L809.2,65.2 L809.5,61.8 L809.8,58.4 L810.1,55.0 L810.3,51.6 L810.6,48.2 L810.9,44.8 L811.2,41.4 L811.5,38.0" fill="none" stroke="#00f" stroke-width="5.8" stroke-linejoin="round" stroke-linecap="round" shape-rendering="crispEdges"/>
<path d="M1116.2,38.0 L1116.5,39.7 L1116.9,41.3 L1117.2,43.0 L1117.5,44.6 L1117.8,46.3 L1118.1,47.9 L1118.4,49.6 L1118.8,51.2 L1119.1,52.8 L1119.4,54.5 L1119.7,56.1 L1120.0,57.7 L1120.4,59.4 L1120.7,61.0 L1121.0,62.6 L1121.4,64.2 L1121.7,65.8 L1122.0,67.5 L1122.4,69.1 L1122.7,70.7 L1123.0,72.3 L1123.4,73.9 L1123.7,75.5 L1124.0,77.1 L1124.4,78.7 L1124.7,80.3 L1125.1,81.9 L1125.4,83.5 L1125.7,85.1 L1126.1,86.7 L1126.4,88.3 L1126.8,89.9 L1127.1,91.4 L1127.5,93.0 L1127.8,94.6 L1128.2,96.2 L1128.5,97.7 L1128.9,99.3 L1129.2,100.9 L1129.6,102.4 L1129.9,104.0 L1130.3,105.6 L1130.6,107.1 L1131.0,108.7 L1131.4,110.2 L1131.7,111.8 L1132.1,113.3 L1132.4,114.9 L1132.8,116.4 L1133.2,118.0 L1133.5,119.5 L1133.9,121.0 L1134.3,122.6 L1134.6,124.1 L1135.0,125.6 L1135.4,127.1 L1135.7,128.7 L1136.1,130.2 L1136.5,131.7 L1136.8,133.2 L1137.2,134.7 L1137.6,136.3 L1138.0,137.8 L1138.3,139.3 L1138.7,140.8 L1139.1,142.3 L1139.5,143.8 L1139.8,145.3 L1140.2,146.8 L1140.6,148.3 L1141.0,149.8 L1141.4,151.3 L1141.7,152.7 L1142.1,154.2 L1142.5,155.7 L1142.9,157.2 L1143.3,158.7 L1143.7,160.1 L1144.0,161.6 L1144.4,163.1 L1144.8,164.5 L1145.2,166.0 L1145.6,167.5 L1146.0,168.9 L1146.4,170.4 L1146.7,171.8 L1147.1,173.3 L1147.5,174.8 L1147.9,176.2 L1148.3,177.6 L1148.7,179.1 L1149.1,180.5 L1149.5,182.0 L1149.9,183.4 L1150.3,184.8 L1150.7,186.3 L1151.1,187.7 L1151.5,189.1 L1151.8,190.6 L1152.2,192.0 L1152.6,193.4 L1153.0,194.8 L1153.4,196.2 L1153.8,197.6 L1154.2,199.1 L1154.6,200.5 L1155.0,201.9 L1155.4,203.3 L1155.8,204.7 L1156.2,206.1 L1156.6,207.5 L1157.0,208.9 L1157.4,210.3 L1157.8,211.6 L1158.2,213.0 L1158.6,214.4 L1159.0,215.8 L1159.4,217.2 L1159.8,218.6 L1160.2,219.9 L1160.6,221.3 L1161.0,222.7 L1161.4,224.0 L1161.8,225.4 L1162.2,226.8 L1162.6,228.1 L1163.0,229.5 L1163.5,230.8 L1163.9,232.2 L1164.3,233.5 L1164.7,234.9 L1165.1,236.2 L1165.5,237.6 L1165.9,238.9 L1166.3,240.3 L1166.7,241.6 L1167.1,242.9 L1167.5,244.3 L1167.9,245.6 L1168.3,246.9 L1168.7,248.3 L1169.1,249.6 L1169.5,250.9 L1169.9,252.2 L1170.3,253.5 L1170.7,254.8 L1171.2,256.2 L1171.6,257.5 L1172.0,258.8 L1172.4,260.1 L1172.8,261.4 L1173.2,262.7 L1173.6,264.0 L1174.0,265.3 L1174.4,266.6 L1174.8,267.9 L1175.2,269.1 L1175.6,270.4 L1176.0,271.7 L1176.4,273.0 L1176.8,274.3 L1177.2,275.5 L1177.6,276.8 L1178.0,278.1 L1178.5,279.4 L1178.9,280.6 L1179.3,281.9 L1179.7,283.1 L1180.1,284.4 L1180.5,285.7 L1180.9,286.9 L1181.3,288.2 L1181.7,289.4 L1182.1,290.7 L1182.5,291.9 L1182.9,293.1 L1183.3,294.4 L1183.7,295.6 L1184.1,296.9 L1184.5,298.1 L1184.9,299.3 L1185.3,300.6 L1185.7,301.8 L1186.1,303.0 L1186.5,304.2 L1186.9,305.4 L1187.3,306.7 L1187.7,307.9 L1188.1,309.1 L1188.5,310.3 L1188.9,311.5 L1189.3,312.7 L1189.7,313.9 L1190.1,315.1 L1190.5,316.3 L1190.9,317.5 L1191.3,318.7 L1191.7,319.9 L1192.1,321.1 L1192.5,322.3 L1192.9,323.4 L1193.3,324.6 L1193.7,325.8 L1194.1,327.0 L1194.5,328.1 L1194.9,329.3 L1195.3,330.5 L1195.7,331.6 L1196.1,332.8 L1196.4,334.0 L1196.8,335.1 L1197.2,336.3 L1197.6,337.4 L1198.0,338.6 L1198.4,339.7 L1198.8,340.9 L1199.2,342.0 L1199.6,343.2 L1200.0,344.3 L1200.4,345.5 L1200.8,346.6 L1201.2,347.7 L1201.6,348.9 L1201.9,350.0 L1202.3,351.1 L1202.7,352.2 L1203.1,353.4 L1203.5,354.5 L1203.9,355.6 L1204.3,356.7 L1204.7,357.8 L1205.1,358.9 L1205.5,360.0 L1205.9,361.1 L1206.2,362.2 L1206.6,363.3 L1207.0,364.4 L1207.4,365.5 L1207.8,366.6 L1208.2,367.7 L1208.6,368.8 L1209.0,369.9 L1209.4,371.0 L1209.7,372.1 L1210.1,373.1 L1210.5,374.2 L1210.9,375.3 L1211.3,376.4 L1211.7,377.4 L1212.1,378.5 L1212.5,379.6 L1212.8,380.6 L1213.2,381.7 L1213.6,382.7 L1214.0,383.8 L1214.4,384.8 L1214.8,385.9 L1215.2,386.9 L1215.6,388.0 L1215.9,389.0 L1216.3,390.1 L1216.7,391.1 L1217.1,392.1 L1217.5,393.2 L1217.9,394.2 L1218.3,395.2 L1218.6,396.3 L1219.0,397.3 L1219.4,398.3 L1219.8,399.3 L1220.2,400.4 L1220.6,401.4 L1221.0,402.4 L1221.3,403.4 L1221.7,404.4 L1222.1,405.4 L1222.5,406.4 L1222.9,407.4 L1223.3,408.4 L1223.6,409.4 L1224.0,410.4 L1224.4,411.4 L1224.8,412.4 L1225.2,413.4 L1225.6,414.3 L1225.9,415.3 L1226.3,416.3 L1226.7,417.3 L1227.1,418.3 L1227.5,419.2 L1227.9,420.2 L1228.3,421.2 L1228.6,422.1 L1229.0,423.1 L1229.4,424.1 L1229.8,425.0 L1230.2,426.0 L1230.6,426.9 L1230.9,427.9 L1231.3,428.8 L1231.7,429.8 L1232.1,430.7 L1232.5,431.6 L1232.9,432.6 L1233.2,433.5 L1233.6,434.5 L1234.0,435.4 L1234.4,436.3 L1234.8,437.2 L1235.2,438.2 L1235.5,439.1 L1235.9,440.0 L1236.3,440.9 L1236.7,441.8 L1237.1,442.8 L1237.4,443.7 L1237.8,444.6 L1238.2,445.5 L1238.6,446.4 L1239.0,447.3 L1239.4,448.2 L1239.7,449.1 L1240.1,450.0 L1240.5,450.9 L1240.9,451.8 L1241.3,452.6 L1241.7,453.5 L1242.0,454.4 L1242.4,455.3 L1242.8,456.2 L1243.2,457.0 L1243.6,457.9 L1244.0,458.8 L1244.3,459.6 L1244.7,460.5 L1245.1,461.4 L1245.5,462.2 L1245.9,463.1 L1246.3,463.9 L1246.7,464.8 L1247.0,465.7 L1247.4,466.5 L1247.8,467.3 L1248.2,468.2 L1248.6,469.0 L1249.0,469.9 L1249.3,470.7 L1249.7,471.5 L1250.1,472.4 L1250.5,473.2 L1250.9,474.0 L1251.3,474.9 L1251.6,475.7 L1252.0,476.5 L1252.4,477.3 L1252.8,478.1 L1253.2,478.9 L1253.6,479.8 L1254.0,480.6 L1254.3,481.4 L1254.7,482.2 L1255.1,483.0 L1255.5,483.8 L1255.9,484.6 L1256.3,485.4 L1256.7,486.2 L1257.0,487.0 L1257.4,487.7 L1257.8,488.5 L1258.2,489.3 L1258.6,490.1 L1259.0,490.9 L1259.4,491.6 L1259.7,492.4 L1260.1,493.2 L1260.5,493.9 L1260.9,494.7 L1261.3,495.5 L1261.7,496.2 L1262.1,497.0 L1262.5,497.8 L1262.9,498.5 L1263.2,499.3 L1263.6,500.0 L1264.0,500.8 L1264.4,501.5 L1264.8,502.2 L1265.2,503.0 L1265.6,503.7 L1266.0,504.5 L1266.4,505.2 L1266.8,505.9 L1267.1,506.6 L1267.5,507.4 L1267.9,508.1 L1268.3,508.8 L1268.7,509.5 L1269.1,510.2 L1269.5,511.0 L1269.9,511.7 L1270.3,512.4 L1270.7,513.1 L1271.1,513.8 L1271.5,514.5 L1271.9,515.2 L1272.3,515.9 L1272.7,516.6 L1273.1,517.3 L1273.5,518.0 L1273.9,518.7 L1274.3,519.3 L1274.7,520.0 L1275.0,520.7 L1275.4,521.4 L1275.8,522.1 L1276.3,522.7 L1276.7,523.4 L1277.1,524.1 L1277.5,524.7 L1277.9,525.4 L1278.3,526.1 L1278.7,526.7 L1279.1,527.4 L1279.5,528.0 L1279.9,528.7 L1280.3,529.3 L1280.7,530.0 L1281.1,530.6 L1281.5,531.3 L1281.9,531.9 L1282.3,532.5 L1282.7,533.2 L1283.2,533.8 L1283.6,534.4 L1284.0,535.1 L1284.4,535.7 L1284.8,536.3 L1285.2,536.9 L1285.6,537.6 L1286.0,538.2 L1286.5,538.8 L1286.9,539.4 L1287.3,540.0 L1287.7,540.6 L1288.1,541.2 L1288.6,541.8 L1289.0,542.4 L1289.4,543.0 L1289.8,543.6 L1290.2,544.2 L1290.7,544.8 L1291.1,545.4 L1291.5,546.0 L1291.9,546.6 L1292.4,547.1 L1292.8,547.7 L1293.2,548.3 L1293.6,548.9 L1294.1,549.4 L1294.5,550.0 L1294.9,550.6 L1295.4,551.1 L1295.8,551.7 L1296.2,552.3 L1296.7,552.8 L1297.1,553.4 L1297.6,553.9 L1298.0,554.5 L1298.4,555.0 L1298.9,555.6 L1299.3,556.1 L1299.7,556.6 L1300.2,557.2 L1300.6,557.7 L1301.1,558.3 L1301.5,558.8 L1302.0,559.3 L1302.4,559.8 L1302.8,560.4 L1303.3,560.9 L1303.7,561.4 L1304.2,561.9 L1304.6,562.4 L1305.1,563.0 L1305.5,563.5 L1306.0,564.0 L1306.4,564.5 L1306.9,565.0 L1307.3,565.5 L1307.8,566.0 L1308.2,566.5 L1308.7,567.0 L1309.1,567.5 L1309.6,567.9 L1310.0,568.4 L1310.5,568.9 L1310.9,569.4 L1311.4,569.9 L1311.8,570.3 L1312.3,570.8 L1312.7,571.3 L1313.2,571.8 L1313.6,572.2 L1314.1,572.7 L1314.5,573.2 L1315.0,573.6 L1315.4,574.1 L1315.9,574.5 L1316.4,575.0 L1316.8,575.4 L1317.3,575.9 L1317.7,576.3 L1318.2,576.8 L1318.6,577.2 L1319.1,577.6 L1319.5,578.1 L1320.0,578.5 L1320.4,579.0 L1320.9,579.4 L1321.3,579.8 L1321.8,580.2 L1322.2,580.7 L1322.7,581.1 L1323.1,581.5 L1323.6,581.9 L1324.0,582.3 L1324.5,582.7 L1324.9,583.1 L1325.4,583.5 L1325.8,583.9 L1326.3,584.3 L1326.7,584.7 L1327.2,585.1 L1327.6,585.5 L1328.1,585.9 L1328.5,586.3 L1329.0,586.7 L1329.4,587.1 L1329.9,587.5 L1330.3,587.8 L1330.8,588.2 L1331.2,588.6 L1331.7,589.0 L1332.1,589.3 L1332.5,589.7 L1333.0,590.1 L1333.4,590.4 L1333.9,590.8 L1334.3,591.2 L1334.7,591.5 L1335.2,591.9 L1335.6,592.2 L1336.1,592.6 L1336.5,592.9 L1336.9,593.2 L1337.4,593.6 L1337.8,593.9 L1338.2,594.3 L1338.7,594.6 L1339.1,594.9 L1339.5,595.3 L1339.9,595.6 L1340.4,595.9 L1340.8,596.2 L1341.2,596.6 L1341.7,596.9 L1342.1,597.2 L1342.5,597.5 L1342.9,597.8 L1343.3,598.1 L1343.8,598.4 L1344.2,598.7 L1344.6,599.0 L1345.0,599.3 L1345.4,599.6 L1345.9,599.9 L1346.3,600.2 L1346.7,600.5 L1347.1,600.8 L1347.5,601.1 L1347.9,601.4 L1348.3,601.6 L1348.7,601.9 L1349.1,602.2 L1349.5,602.5 L1349.9,602.7 L1350.3,603.0 L1350.7,603.3 L1351.1,603.5 L1351.5,603.8 L1351.9,604.0 L1352.3,604.3 L1352.7,604.6 L1353.1,604.8 L1353.5,605.1 L1353.9,605.3 L1354.3,605.5 L1354.7,605.8 L1355.0,606.0 L1355.4,606.3 L1355.8,606.5 L1356.2,606.7 L1356.6,607.0 L1356.9,607.2 L1357.3,607.4 L1357.7,607.6 L1358.0,607.9 L1358.4,608.1 L1358.8,608.3 L1359.1,608.5 L1359.5,608.7 L1359.9,608.9 L1360.2,609.1 L1360.6,609.3 L1360.9,609.5 L1361.3,609.7 L1361.7,609.9 L1362.0,610.1 L1362.4,610.3 L1362.7,610.5 L1363.1,610.7 L1363.4,610.9 L1363.7,611.1 L1364.1,611.2 L1364.4,611.4 L1364.8,611.6 L1365.1,611.8 L1365.5,611.9 L1365.8,612.1 L1366.1,612.3 L1366.5,612.4 L1366.8,612.6 L1367.1,612.8 L1367.5,612.9 L1367.8,613.1 L1368.1,613.2 L1368.5,613.4 L1368.8,613.5 L1369.1,613.7 L1369.5,613.8 L1369.8,613.9 L1370.1,614.1 L1370.4,614.2 L1370.8,614.3 L1371.1,614.5 L1371.4,614.6 L1371.7,614.7 L1372.1,614.9 L1372.4,615.0 L1372.7,615.1 L1373.1,615.2 L1373.4,615.3 L1373.7,615.4 L1374.0,615.5 L1374.3,615.7 L1374.7,615.8 L1375.0,615.9 L1375.3,616.0 L1375.6,616.1 L1376.0,616.2 L1376.3,616.2 L1376.6,616.3 L1376.9,616.4 L1377.3,616.5 L1377.6,616.6 L1377.9,616.7 L1378.3,616.7 L1378.6,616.8 L1378.9,616.9 L1379.2,617.0 L1379.6,617.0 L1379.9,617.1 L1380.2,617.2 L1380.6,617.2 L1380.9,617.3 L1381.2,617.3 L1381.6,617.4 L1381.9,617.5 L1382.2,617.5 L1382.6,617.5 L1382.9,617.6 L1383.2,617.6 L1383.6,617.7 L1383.9,617.7 L1384.3,617.8 L1384.6,617.8 L1385.0,617.8 L1385.3,617.8 L1385.6,617.9 L1386.0,617.9 L1386.3,617.9 L1386.7,617.9 L1387.0,617.9 L1387.4,618.0 L1387.8,618.0 L1388.1,618.0 L1388.5,618.0 L1388.8,618.0 L1389.2,618.0 L1389.6,618.0 L1389.9,618.0 L1390.3,618.0 L1390.7,618.0 L1391.0,618.0 L1391.4,618.0 L1391.8,617.9 L1392.1,617.9 L1392.5,617.9 L1392.9,617.9 L1393.3,617.9 L1393.7,617.8 L1394.1,617.8 L1394.5,617.8 L1394.8,617.8 L1395.2,617.7 L1395.6,617.7 L1396.0,617.6 L1396.4,617.6 L1396.8,617.5 L1397.2,617.5 L1397.6,617.5 L1398.1,617.4 L1398.5,617.3 L1398.9,617.3 L1399.3,617.2 L1399.7,617.2 L1400.1,617.1 L1400.5,617.0 L1401.0,617.0 L1401.4,616.9 L1401.8,616.8 L1402.2,616.7 L1402.6,616.7 L1403.1,616.6 L1403.5,616.5 L1403.9,616.4 L1404.4,616.3 L1404.8,616.2 L1405.2,616.2 L1405.6,616.1 L1406.1,616.0 L1406.5,615.9 L1407.0,615.8 L1407.4,615.7 L1407.8,615.5 L1408.3,615.4 L1408.7,615.3 L1409.1,615.2 L1409.6,615.1 L1410.0,615.0 L1410.5,614.9 L1410.9,614.7 L1411.3,614.6 L1411.8,614.5 L1412.2,614.3 L1412.7,614.2 L1413.1,614.1 L1413.5,613.9 L1414.0,613.8 L1414.4,613.7 L1414.9,613.5 L1415.3,613.4 L1415.7,613.2 L1416.2,613.1 L1416.6,612.9 L1417.1,612.8 L1417.5,612.6 L1417.9,612.4 L1418.4,612.3 L1418.8,612.1 L1419.3,611.9 L1419.7,611.8 L1420.1,611.6 L1420.6,611.4 L1421.0,611.2 L1421.5,611.1 L1421.9,610.9 L1422.3,610.7 L1422.8,610.5 L1423.2,610.3 L1423.6,610.1 L1424.1,609.9 L1424.5,609.7 L1424.9,609.5 L1425.4,609.3 L1425.8,609.1 L1426.3,608.9 L1426.7,608.7 L1427.1,608.5 L1427.6,608.3 L1428.0,608.1 L1428.4,607.9 L1428.9,607.6 L1429.3,607.4 L1429.7,607.2 L1430.2,607.0 L1430.6,606.7 L1431.1,606.5 L1431.5,606.3 L1431.9,606.0 L1432.4,605.8 L1432.8,605.5 L1433.2,605.3 L1433.7,605.1 L1434.1,604.8 L1434.6,604.6 L1435.0,604.3 L1435.4,604.0 L1435.9,603.8 L1436.3,603.5 L1436.8,603.3 L1437.2,603.0 L1437.7,602.7 L1438.1,602.5 L1438.5,602.2 L1439.0,601.9 L1439.4,601.6 L1439.9,601.4 L1440.3,601.1 L1440.8,600.8 L1441.2,600.5 L1441.6,600.2 L1442.1,599.9 L1442.5,599.6 L1443.0,599.3 L1443.4,599.0 L1443.9,598.7 L1444.3,598.4 L1444.8,598.1 L1445.2,597.8 L1445.7,597.5 L1446.1,597.2 L1446.5,596.9 L1447.0,596.6 L1447.4,596.2 L1447.9,595.9 L1448.3,595.6 L1448.8,595.3 L1449.2,594.9 L1449.7,594.6 L1450.1,594.3 L1450.6,593.9 L1451.0,593.6 L1451.5,593.2 L1451.9,592.9 L1452.3,592.6 L1452.8,592.2 L1453.2,591.9 L1453.7,591.5 L1454.1,591.2 L1454.6,590.8 L1455.0,590.4 L1455.5,590.1 L1455.9,589.7 L1456.3,589.3 L1456.8,589.0 L1457.2,588.6 L1457.7,588.2 L1458.1,587.8 L1458.6,587.5 L1459.0,587.1 L1459.4,586.7 L1459.9,586.3 L1460.3,585.9 L1460.8,585.5 L1461.2,585.1 L1461.7,584.7 L1462.1,584.3 L1462.5,583.9 L1463.0,583.5 L1463.4,583.1 L1463.8,582.7 L1464.3,582.3 L1464.7,581.9 L1465.2,581.5 L1465.6,581.1 L1466.0,580.7 L1466.5,580.2 L1466.9,579.8 L1467.3,579.4 L1467.8,579.0 L1468.2,578.5 L1468.6,578.1 L1469.0,577.6 L1469.5,577.2 L1469.9,576.8 L1470.3,576.3 L1470.8,575.9 L1471.2,575.4 L1471.6,575.0 L1472.0,574.5 L1472.5,574.1 L1472.9,573.6 L1473.3,573.2 L1473.7,572.7 L1474.2,572.2 L1474.6,571.8 L1475.0,571.3 L1475.4,570.8 L1475.8,570.3 L1476.2,569.9 L1476.7,569.4 L1477.1,568.9 L1477.5,568.4 L1477.9,567.9 L1478.3,567.5 L1478.7,567.0 L1479.1,566.5 L1479.5,566.0 L1479.9,565.5 L1480.3,565.0 L1480.8,564.5 L1481.2,564.0 L1481.6,563.5 L1482.0,563.0 L1482.4,562.4 L1482.8,561.9 L1483.2,561.4 L1483.6,560.9 L1484.0,560.4 L1484.4,559.8 L1484.7,559.3 L1485.1,558.8 L1485.5,558.3 L1485.9,557.7 L1486.3,557.2 L1486.7,556.6 L1487.1,556.1 L1487.5,555.6 L1487.9,555.0 L1488.3,554.5 L1488.6,553.9 L1489.0,553.4 L1489.4,552.8 L1489.8,552.3 L1490.2,551.7 L1490.6,551.1 L1491.0,550.6 L1491.3,550.0 L1491.7,549.4 L1492.1,548.9 L1492.5,548.3 L1492.9,547.7 L1493.2,547.1 L1493.6,546.6 L1494.0,546.0 L1494.4,545.4 L1494.8,544.8 L1495.2,544.2 L1495.5,543.6 L1495.9,543.0 L1496.3,542.4 L1496.7,541.8 L1497.1,541.2 L1497.4,540.6 L1497.8,540.0 L1498.2,539.4 L1498.6,538.8 L1499.0,538.2 L1499.3,537.6 L1499.7,536.9 L1500.1,536.3 L1500.5,535.7 L1500.9,535.1 L1501.3,534.4 L1501.6,533.8 L1502.0,533.2 L1502.4,532.5 L1502.8,531.9 L1503.2,531.3 L1503.6,530.6 L1504.0,530.0 L1504.3,529.3 L1504.7,528.7 L1505.1,528.0 L1505.5,527.4 L1505.9,526.7 L1506.3,526.1 L1506.7,525.4 L1507.1,524.7 L1507.5,524.1 L1507.8,523.4 L1508.2,522.7 L1508.6,522.1 L1509.0,521.4 L1509.4,520.7 L1509.8,520.0 L1510.2,519.3 L1510.6,518.7 L1511.0,518.0 L1511.4,517.3 L1511.8,516.6 L1512.2,515.9 L1512.6,515.2 L1513.0,514.5 L1513.4,513.8 L1513.8,513.1 L1514.2,512.4 L1514.6,511.7 L1515.0,511.0 L1515.4,510.2 L1515.8,509.5 L1516.2,508.8 L1516.6,508.1 L1517.0,507.4 L1517.4,506.6 L1517.8,505.9 L1518.2,505.2 L1518.6,504.5 L1519.0,503.7 L1519.4,503.0 L1519.8,502.2 L1520.2,501.5 L1520.6,500.8 L1521.0,500.0 L1521.4,499.3 L1521.8,498.5 L1522.2,497.8 L1522.7,497.0 L1523.1,496.2 L1523.5,495.5 L1523.9,494.7 L1524.3,493.9 L1524.7,493.2 L1525.1,492.4 L1525.5,491.6 L1525.9,490.9 L1526.3,490.1 L1526.8,489.3 L1527.2,488.5 L1527.6,487.7 L1528.0,487.0 L1528.4,486.2 L1528.8,485.4 L1529.2,484.6 L1529.7,483.8 L1530.1,483.0 L1530.5,482.2 L1530.9,481.4 L1531.3,480.6 L1531.7,479.8 L1532.2,478.9 L1532.6,478.1 L1533.0,477.3 L1533.4,476.5 L1533.8,475.7 L1534.3,474.9 L1534.7,474.0 L1535.1,473.2 L1535.5,472.4 L1535.9,471.5 L1536.4,470.7 L1536.8,469.9 L1537.2,469.0 L1537.6,468.2 L1538.1,467.3 L1538.5,466.5 L1538.9,465.7 L1539.3,464.8 L1539.8,463.9 L1540.2,463.1 L1540.6,462.2 L1541.0,461.4 L1541.5,460.5 L1541.9,459.6 L1542.3,458.8 L1542.7,457.9 L1543.2,457.0 L1543.6,456.2 L1544.0,455.3 L1544.4,454.4 L1544.9,453.5 L1545.3,452.6 L1545.7,451.8 L1546.2,450.9 L1546.6,450.0 L1547.0,449.1 L1547.4,448.2 L1547.9,447.3 L1548.3,446.4 L1548.7,445.5 L1549.2,444.6 L1549.6,443.7 L1550.0,442.8 L1550.5,441.8 L1550.9,440.9 L1551.3,440.0 L1551.7,439.1 L1552.2,438.2 L1552.6,437.2 L1553.0,436.3 L1553.5,435.4 L1553.9,434.5 L1554.3,433.5 L1554.8,432.6 L1555.2,431.6 L1555.6,430.7 L1556.1,429.8 L1556.5,428.8 L1556.9,427.9 L1557.4,426.9 L1557.8,426.0 L1558.3,425.0 L1558.7,424.1 L1559.1,423.1 L1559.6,422.1 L1560.0,421.2 L1560.4,420.2 L1560.9,419.2 L1561.3,418.3 L1561.7,417.3 L1562.2,416.3 L1562.6,415.3 L1563.0,414.3 L1563.5,413.4 L1563.9,412.4 L1564.4,411.4 L1564.8,410.4 L1565.2,409.4 L1565.7,408.4 L1566.1,407.4 L1566.5,406.4 L1567.0,405.4 L1567.4,404.4 L1567.9,403.4 L1568.3,402.4 L1568.7,401.4 L1569.2,400.4 L1569.6,399.3 L1570.1,398.3 L1570.5,397.3 L1570.9,396.3 L1571.4,395.2 L1571.8,394.2 L1572.3,393.2 L1572.7,392.1 L1573.1,391.1 L1573.6,390.1 L1574.0,389.0 L1574.4,388.0 L1574.9,386.9 L1575.3,385.9 L1575.8,384.8 L1576.2,383.8 L1576.6,382.7 L1577.1,381.7 L1577.5,380.6 L1578.0,379.6 L1578.4,378.5 L1578.8,377.4 L1579.3,376.4 L1579.7,375.3 L1580.2,374.2 L1580.6,373.1 L1581.0,372.1 L1581.5,371.0 L1581.9,369.9 L1582.4,368.8 L1582.8,367.7 L1583.3,366.6 L1583.7,365.5 L1584.1,364.4 L1584.6,363.3 L1585.0,362.2 L1585.5,361.1 L1585.9,360.0 L1586.3,358.9 L1586.8,357.8 L1587.2,356.7 L1587.7,355.6 L1588.1,354.5 L1588.5,353.4 L1589.0,352.2 L1589.4,351.1 L1589.9,350.0 L1590.3,348.9 L1590.7,347.7 L1591.2,346.6 L1591.6,345.5 L1592.1,344.3 L1592.5,343.2 L1592.9,342.0 L1593.4,340.9 L1593.8,339.7 L1594.3,338.6 L1594.7,337.4 L1595.1,336.3 L1595.6,335.1 L1596.0,334.0 L1596.5,332.8 L1596.9,331.6 L1597.3,330.5 L1597.8,329.3 L1598.2,328.1 L1598.6,327.0 L1599.1,325.8 L1599.5,324.6 L1600.0,323.4 L1600.4,322.3 L1600.8,321.1 L1601.3,319.9 L1601.7,318.7 L1602.2,317.5 L1602.6,316.3 L1603.0,315.1 L1603.5,313.9 L1603.9,312.7 L1604.3,311.5 L1604.8,310.3 L1605.2,309.1 L1605.7,307.9 L1606.1,306.7 L1606.5,305.4 L1607.0,304.2 L1607.4,303.0 L1607.8,301.8 L1608.3,300.6 L1608.7,299.3 L1609.1,298.1 L1609.6,296.9 L1610.0,295.6 L1610.4,294.4 L1610.9,293.1 L1611.3,291.9 L1611.7,290.7 L1612.2,289.4 L1612.6,288.2 L1613.1,286.9 L1613.5,285.7 L1613.9,284.4 L1614.4,283.1 L1614.8,281.9 L1615.2,280.6 L1615.6,279.4 L1616.1,278.1 L1616.5,276.8 L1616.9,275.5 L1617.4,274.3 L1617.8,273.0 L1618.2,271.7 L1618.7,270.4 L1619.1,269.1 L1619.5,267.9 L1620.0,266.6 L1620.4,265.3 L1620.8,264.0 L1621.2,262.7 L1621.7,261.4 L1622.1,260.1 L1622.5,258.8 L1623.0,257.5 L1623.4,256.2 L1623.8,254.8 L1624.2,253.5 L1624.7,252.2 L1625.1,250.9 L1625.5,249.6 L1626.0,248.3 L1626.4,246.9 L1626.8,245.6 L1627.2,244.3 L1627.7,242.9 L1628.1,241.6 L1628.5,240.3 L1628.9,238.9 L1629.4,237.6 L1629.8,236.2 L1630.2,234.9 L1630.6,233.5 L1631.0,232.2 L1631.5,230.8 L1631.9,229.5 L1632.3,228.1 L1632.7,226.8 L1633.2,225.4 L1633.6,224.0 L1634.0,222.7 L1634.4,221.3 L1634.8,219.9 L1635.2,218.6 L1635.7,217.2 L1636.1,215.8 L1636.5,214.4 L1636.9,213.0 L1637.3,211.6 L1637.8,210.3 L1638.2,208.9 L1638.6,207.5 L1639.0,206.1 L1639.4,204.7 L1639.8,203.3 L1640.2,201.9 L1640.7,200.5 L1641.1,199.1 L1641.5,197.6 L1641.9,196.2 L1642.3,194.8 L1642.7,193.4 L1643.1,192.0 L1643.5,190.6 L1644.0,189.1 L1644.4,187.7 L1644.8,186.3 L1645.2,184.8 L1645.6,183.4 L1646.0,182.0 L1646.4,180.5 L1646.8,179.1 L1647.2,177.6 L1647.6,176.2 L1648.0,174.8 L1648.4,173.3 L1648.9,171.8 L1649.3,170.4 L1649.7,168.9 L1650.1,167.5 L1650.5,166.0 L1650.9,164.5 L1651.3,163.1 L1651.7,161.6 L1652.1,160.1 L1652.5,158.7 L1652.9,157.2 L1653.3,155.7 L1653.7,154.2 L1654.1,152.7 L1654.5,151.3 L1654.9,149.8 L1655.3,148.3 L1655.7,146.8 L1656.1,145.3 L1656.5,143.8 L1656.9,142.3 L1657.2,140.8 L1657.6,139.3 L1658.0,137.8 L1658.4,136.3 L1658.8,134.7 L1659.2,133.2 L1659.6,131.7 L1660.0,130.2 L1660.4,128.7 L1660.8,127.1 L1661.2,125.6 L1661.6,124.1 L1661.9,122.6 L1662.3,121.0 L1662.7,119.5 L1663.1,118.0 L1663.5,116.4 L1663.9,114.9 L1664.3,113.3 L1664.6,111.8 L1665.0,110.2 L1665.4,108.7 L1665.8,107.1 L1666.2,105.6 L1666.6,104.0 L1666.9,102.4 L1667.3,100.9 L1667.7,99.3 L1668.1,97.7 L1668.4,96.2 L1668.8,94.6 L1669.2,93.0 L1669.6,91.4 L1670.0,89.9 L1670.3,88.3 L1670.7,86.7 L1671.1,85.1 L1671.5,83.5 L1671.8,81.9 L1672.2,80.3 L1672.6,78.7 L1672.9,77.1 L1673.3,75.5 L1673.7,73.9 L1674.0,72.3 L1674.4,70.7 L1674.8,69.1 L1675.1,67.5 L1675.5,65.8 L1675.9,64.2 L1676.2,62.6 L1676.6,61.0 L1677.0,59.4 L1677.3,57.7 L1677.7,56.1 L1678.0,54.5 L1678.4,52.8 L1678.8,51.2 L1679.1,49.6 L1679.5,47.9 L1679.8,46.3 L1680.2,44.6 L1680.6,43.0 L1680.9,41.3 L1681.3,39.7 L1681.6,38.0" fill="none" stroke="#000" stroke-width="5.8" stroke-linejoin="round" stroke-linecap="round" shape-rendering="crispEdges"/>
<path d="M1186.8,38.0 L1187.2,39.7 L1187.6,41.5 L1187.9,43.2 L1188.3,44.9 L1188.7,46.6 L1189.1,48.4 L1189.5,50.1 L1189.8,51.8 L1190.2,53.5 L1190.6,55.2 L1191.0,56.9 L1191.4,58.6 L1191.7,60.3 L1192.1,62.0 L1192.5,63.7 L1192.9,65.4 L1193.2,67.1 L1193.6,68.8 L1194.0,70.5 L1194.3,72.2 L1194.7,73.9 L1195.1,75.6 L1195.5,77.2 L1195.8,78.9 L1196.2,80.6 L1196.6,82.3 L1196.9,83.9 L1197.3,85.6 L1197.7,87.3 L1198.0,88.9 L1198.4,90.6 L1198.7,92.2 L1199.1,93.9 L1199.5,95.6 L1199.8,97.2 L1200.2,98.9 L1200.5,100.5 L1200.9,102.1 L1201.3,103.8 L1201.6,105.4 L1202.0,107.0 L1202.3,108.7 L1202.7,110.3 L1203.0,111.9 L1203.4,113.6 L1203.8,115.2 L1204.1,116.8 L1204.5,118.4 L1204.8,120.0 L1205.2,121.6 L1205.5,123.3 L1205.9,124.9 L1206.2,126.5 L1206.6,128.1 L1206.9,129.7 L1207.3,131.3 L1207.6,132.9 L1208.0,134.5 L1208.3,136.0 L1208.7,137.6 L1209.0,139.2 L1209.4,140.8 L1209.7,142.4 L1210.1,144.0 L1210.4,145.5 L1210.7,147.1 L1211.1,148.7 L1211.4,150.2 L1211.8,151.8 L1212.1,153.4 L1212.5,154.9 L1212.8,156.5 L1213.2,158.0 L1213.5,159.6 L1213.8,161.1 L1214.2,162.7 L1214.5,164.2 L1214.9,165.8 L1215.2,167.3 L1215.6,168.9 L1215.9,170.4 L1216.2,171.9 L1216.6,173.5 L1216.9,175.0 L1217.3,176.5 L1217.6,178.0 L1217.9,179.6 L1218.3,181.1 L1218.6,182.6 L1219.0,184.1 L1219.3,185.6 L1219.6,187.1 L1220.0,188.6 L1220.3,190.1 L1220.7,191.6 L1221.0,193.1 L1221.3,194.6 L1221.7,196.1 L1222.0,197.6 L1222.4,199.1 L1222.7,200.6 L1223.0,202.1 L1223.4,203.5 L1223.7,205.0 L1224.0,206.5 L1224.4,208.0 L1224.7,209.4 L1225.1,210.9 L1225.4,212.4 L1225.7,213.8 L1226.1,215.3 L1226.4,216.8 L1226.8,218.2 L1227.1,219.7 L1227.4,221.1 L1227.8,222.6 L1228.1,224.0 L1228.5,225.5 L1228.8,226.9 L1229.1,228.3 L1229.5,229.8 L1229.8,231.2 L1230.2,232.6 L1230.5,234.1 L1230.8,235.5 L1231.2,236.9 L1231.5,238.3 L1231.9,239.8 L1232.2,241.2 L1232.6,242.6 L1232.9,244.0 L1233.2,245.4 L1233.6,246.8 L1233.9,248.2 L1234.3,249.6 L1234.6,251.0 L1235.0,252.4 L1235.3,253.8 L1235.6,255.2 L1236.0,256.6 L1236.3,258.0 L1236.7,259.4 L1237.0,260.7 L1237.4,262.1 L1237.7,263.5 L1238.1,264.9 L1238.4,266.2 L1238.8,267.6 L1239.1,269.0 L1239.5,270.3 L1239.8,271.7 L1240.1,273.1 L1240.5,274.4 L1240.8,275.8 L1241.2,277.1 L1241.5,278.5 L1241.9,279.8 L1242.3,281.2 L1242.6,282.5 L1243.0,283.8 L1243.3,285.2 L1243.7,286.5 L1244.0,287.8 L1244.4,289.2 L1244.7,290.5 L1245.1,291.8 L1245.4,293.2 L1245.8,294.5 L1246.2,295.8 L1246.5,297.1 L1246.9,298.4 L1247.2,299.7 L1247.6,301.0 L1247.9,302.3 L1248.3,303.6 L1248.7,304.9 L1249.0,306.2 L1249.4,307.5 L1249.8,308.8 L1250.1,310.1 L1250.5,311.4 L1250.9,312.7 L1251.2,314.0 L1251.6,315.2 L1252.0,316.5 L1252.3,317.8 L1252.7,319.1 L1253.1,320.3 L1253.4,321.6 L1253.8,322.9 L1254.2,324.1 L1254.6,325.4 L1254.9,326.7 L1255.3,327.9 L1255.7,329.2 L1256.0,330.4 L1256.4,331.7 L1256.8,332.9 L1257.2,334.1 L1257.6,335.4 L1257.9,336.6 L1258.3,337.9 L1258.7,339.1 L1259.1,340.3 L1259.5,341.5 L1259.8,342.8 L1260.2,344.0 L1260.6,345.2 L1261.0,346.4 L1261.4,347.7 L1261.8,348.9 L1262.1,350.1 L1262.5,351.3 L1262.9,352.5 L1263.3,353.7 L1263.7,354.9 L1264.1,356.1 L1264.5,357.3 L1264.8,358.5 L1265.2,359.7 L1265.6,360.9 L1266.0,362.0 L1266.4,363.2 L1266.8,364.4 L1267.2,365.6 L1267.6,366.8 L1268.0,367.9 L1268.4,369.1 L1268.8,370.3 L1269.2,371.4 L1269.6,372.6 L1269.9,373.8 L1270.3,374.9 L1270.7,376.1 L1271.1,377.2 L1271.5,378.4 L1271.9,379.5 L1272.3,380.7 L1272.7,381.8 L1273.1,383.0 L1273.5,384.1 L1273.9,385.2 L1274.3,386.4 L1274.7,387.5 L1275.1,388.6 L1275.5,389.8 L1275.9,390.9 L1276.3,392.0 L1276.7,393.1 L1277.1,394.2 L1277.5,395.3 L1277.9,396.5 L1278.3,397.6 L1278.7,398.7 L1279.1,399.8 L1279.5,400.9 L1279.9,402.0 L1280.3,403.1 L1280.7,404.2 L1281.1,405.3 L1281.5,406.3 L1281.9,407.4 L1282.2,408.5 L1282.6,409.6 L1283.0,410.7 L1283.4,411.8 L1283.8,412.8 L1284.2,413.9 L1284.6,415.0 L1285.0,416.0 L1285.4,417.1 L1285.8,418.2 L1286.2,419.2 L1286.6,420.3 L1287.0,421.3 L1287.4,422.4 L1287.8,423.4 L1288.2,424.5 L1288.5,425.5 L1288.9,426.6 L1289.3,427.6 L1289.7,428.6 L1290.1,429.7 L1290.5,430.7 L1290.9,431.7 L1291.3,432.8 L1291.6,433.8 L1292.0,434.8 L1292.4,435.8 L1292.8,436.8 L1293.2,437.9 L1293.6,438.9 L1293.9,439.9 L1294.3,440.9 L1294.7,441.9 L1295.1,442.9 L1295.5,443.9 L1295.8,444.9 L1296.2,445.9 L1296.6,446.9 L1297.0,447.9 L1297.3,448.9 L1297.7,449.8 L1298.1,450.8 L1298.4,451.8 L1298.8,452.8 L1299.2,453.7 L1299.6,454.7 L1299.9,455.7 L1300.3,456.7 L1300.7,457.6 L1301.0,458.6 L1301.4,459.5 L1301.8,460.5 L1302.1,461.5 L1302.5,462.4 L1302.8,463.4 L1303.2,464.3 L1303.6,465.3 L1303.9,466.2 L1304.3,467.1 L1304.6,468.1 L1305.0,469.0 L1305.4,469.9 L1305.7,470.9 L1306.1,471.8 L1306.4,472.7 L1306.8,473.6 L1307.1,474.6 L1307.5,475.5 L1307.8,476.4 L1308.2,477.3 L1308.5,478.2 L1308.9,479.1 L1309.3,480.0 L1309.6,480.9 L1310.0,481.8 L1310.3,482.7 L1310.7,483.6 L1311.0,484.5 L1311.4,485.4 L1311.7,486.3 L1312.0,487.2 L1312.4,488.1 L1312.7,489.0 L1313.1,489.8 L1313.4,490.7 L1313.8,491.6 L1314.1,492.4 L1314.5,493.3 L1314.8,494.2 L1315.2,495.0 L1315.5,495.9 L1315.9,496.8 L1316.2,497.6 L1316.5,498.5 L1316.9,499.3 L1317.2,500.2 L1317.6,501.0 L1317.9,501.9 L1318.3,502.7 L1318.6,503.5 L1318.9,504.4 L1319.3,505.2 L1319.6,506.0 L1320.0,506.9 L1320.3,507.7 L1320.7,508.5 L1321.0,509.3 L1321.3,510.2 L1321.7,511.0 L1322.0,511.8 L1322.4,512.6 L1322.7,513.4 L1323.0,514.2 L1323.4,515.0 L1323.7,515.8 L1324.1,516.6 L1324.4,517.4 L1324.7,518.2 L1325.1,519.0 L1325.4,519.8 L1325.8,520.6 L1326.1,521.4 L1326.5,522.1 L1326.8,522.9 L1327.1,523.7 L1327.5,524.5 L1327.8,525.2 L1328.2,526.0 L1328.5,526.8 L1328.8,527.5 L1329.2,528.3 L1329.5,529.1 L1329.9,529.8 L1330.2,530.6 L1330.6,531.3 L1330.9,532.1 L1331.2,532.8 L1331.6,533.6 L1331.9,534.3 L1332.3,535.0 L1332.6,535.8 L1333.0,536.5 L1333.3,537.2 L1333.6,538.0 L1334.0,538.7 L1334.3,539.4 L1334.7,540.1 L1335.0,540.9 L1335.4,541.6 L1335.7,542.3 L1336.1,543.0 L1336.4,543.7 L1336.8,544.4 L1337.1,545.1 L1337.5,545.8 L1337.8,546.5 L1338.2,547.2 L1338.5,547.9 L1338.9,548.6 L1339.2,549.3 L1339.6,550.0 L1339.9,550.7 L1340.3,551.4 L1340.6,552.0 L1341.0,552.7 L1341.3,553.4 L1341.7,554.1 L1342.0,554.7 L1342.4,555.4 L1342.7,556.1 L1343.1,556.7 L1343.5,557.4 L1343.8,558.0 L1344.2,558.7 L1344.5,559.3 L1344.9,560.0 L1345.3,560.6 L1345.6,561.3 L1346.0,561.9 L1346.3,562.6 L1346.7,563.2 L1347.1,563.8 L1347.4,564.5 L1347.8,565.1 L1348.2,565.7 L1348.5,566.4 L1348.9,567.0 L1349.3,567.6 L1349.6,568.2 L1350.0,568.8 L1350.4,569.4 L1350.7,570.1 L1351.1,570.7 L1351.5,571.3 L1351.9,571.9 L1352.2,572.5 L1352.6,573.1 L1353.0,573.7 L1353.4,574.3 L1353.7,574.8 L1354.1,575.4 L1354.5,576.0 L1354.9,576.6 L1355.3,577.2 L1355.6,577.8 L1356.0,578.3 L1356.4,578.9 L1356.8,579.5 L1357.2,580.0 L1357.6,580.6 L1357.9,581.2 L1358.3,581.7 L1358.7,582.3 L1359.1,582.9 L1359.5,583.4 L1359.9,584.0 L1360.3,584.5 L1360.7,585.0 L1361.1,585.6 L1361.5,586.1 L1361.9,586.7 L1362.2,587.2 L1362.6,587.7 L1363.0,588.3 L1363.4,588.8 L1363.8,589.3 L1364.2,589.8 L1364.6,590.4 L1365.0,590.9 L1365.4,591.4 L1365.8,591.9 L1366.2,592.4 L1366.6,592.9 L1367.0,593.4 L1367.4,593.9 L1367.8,594.4 L1368.2,594.9 L1368.6,595.4 L1369.0,595.9 L1369.4,596.4 L1369.8,596.9 L1370.2,597.4 L1370.6,597.9 L1371.0,598.4 L1371.5,598.8 L1371.9,599.3 L1372.3,599.8 L1372.7,600.3 L1373.1,600.7 L1373.5,601.2 L1373.9,601.7 L1374.3,602.1 L1374.7,602.6 L1375.1,603.0 L1375.5,603.5 L1375.9,603.9 L1376.3,604.4 L1376.8,604.8 L1377.2,605.3 L1377.6,605.7 L1378.0,606.2 L1378.4,606.6 L1378.8,607.0 L1379.2,607.5 L1379.6,607.9 L1380.1,608.3 L1380.5,608.7 L1380.9,609.2 L1381.3,609.6 L1381.7,610.0 L1382.1,610.4 L1382.5,610.8 L1382.9,611.2 L1383.4,611.6 L1383.8,612.1 L1384.2,612.5 L1384.6,612.9 L1385.0,613.3 L1385.4,613.6 L1385.8,614.0 L1386.3,614.4 L1386.7,614.8 L1387.1,615.2 L1387.5,615.6 L1387.9,616.0 L1388.3,616.3 L1388.7,616.7 L1389.2,617.1 L1389.6,617.5 L1390.0,617.8 L1390.4,618.2 L1390.8,618.5 L1391.2,618.9 L1391.7,619.3 L1392.1,619.6 L1392.5,620.0 L1392.9,620.3 L1393.3,620.7 L1393.7,621.0 L1394.1,621.4 L1394.6,621.7 L1395.0,622.0 L1395.4,622.4 L1395.8,622.7 L1396.2,623.0 L1396.6,623.4 L1397.0,623.7 L1397.5,624.0 L1397.9,624.3 L1398.3,624.6 L1398.7,625.0 L1399.1,625.3 L1399.5,625.6 L1399.9,625.9 L1400.4,626.2 L1400.8,626.5 L1401.2,626.8 L1401.6,627.1 L1402.0,627.4 L1402.4,627.7 L1402.8,628.0 L1403.2,628.3 L1403.6,628.5 L1404.1,628.8 L1404.5,629.1 L1404.9,629.4 L1405.3,629.7 L1405.7,629.9 L1406.1,630.2 L1406.5,630.5 L1406.9,630.7 L1407.3,631.0 L1407.7,631.3 L1408.1,631.5 L1408.6,631.8 L1409.0,632.0 L1409.4,632.3 L1409.8,632.5 L1410.2,632.8 L1410.6,633.0 L1411.0,633.3 L1411.4,633.5 L1411.8,633.7 L1412.2,634.0 L1412.6,634.2 L1413.0,634.4 L1413.4,634.6 L1413.8,634.9 L1414.2,635.1 L1414.6,635.3 L1415.0,635.5 L1415.4,635.7 L1415.8,635.9 L1416.2,636.2 L1416.6,636.4 L1417.0,636.6 L1417.4,636.8 L1417.8,637.0 L1418.2,637.2 L1418.6,637.4 L1419.0,637.5 L1419.4,637.7 L1419.8,637.9 L1420.1,638.1 L1420.5,638.3 L1420.9,638.5 L1421.3,638.6 L1421.7,638.8 L1422.1,639.0 L1422.5,639.1 L1422.9,639.3 L1423.3,639.5 L1423.6,639.6 L1424.0,639.8 L1424.4,640.0 L1424.8,640.1 L1425.2,640.3 L1425.6,640.4 L1425.9,640.6 L1426.3,640.7 L1426.7,640.8 L1427.1,641.0 L1427.5,641.1 L1427.8,641.3 L1428.2,641.4 L1428.6,641.5 L1429.0,641.6 L1429.3,641.8 L1429.7,641.9 L1430.1,642.0 L1430.4,642.1 L1430.8,642.2 L1431.2,642.3 L1431.6,642.5 L1431.9,642.6 L1432.3,642.7 L1432.7,642.8 L1433.0,642.9 L1433.4,643.0 L1433.7,643.1 L1434.1,643.1 L1434.5,643.2 L1434.8,643.3 L1435.2,643.4 L1435.5,643.5 L1435.9,643.6 L1436.3,643.6 L1436.6,643.7 L1437.0,643.8 L1437.3,643.9 L1437.7,643.9 L1438.0,644.0 L1438.4,644.1 L1438.7,644.1 L1439.1,644.2 L1439.4,644.2 L1439.8,644.3 L1440.1,644.3 L1440.4,644.4 L1440.8,644.4 L1441.1,644.5 L1441.5,644.5 L1441.8,644.5 L1442.1,644.6 L1442.5,644.6 L1442.8,644.6 L1443.2,644.7 L1443.5,644.7 L1443.8,644.7 L1444.2,644.7 L1444.5,644.7 L1444.8,644.8 L1445.2,644.8 L1445.5,644.8 L1445.8,644.8 L1446.2,644.8 L1446.5,644.8 L1446.8,644.8 L1447.2,644.8 L1447.5,644.8 L1447.8,644.8 L1448.2,644.8 L1448.5,644.8 L1448.8,644.7 L1449.1,644.7 L1449.5,644.7 L1449.8,644.7 L1450.1,644.7 L1450.4,644.6 L1450.8,644.6 L1451.1,644.6 L1451.4,644.5 L1451.8,644.5 L1452.1,644.5 L1452.4,644.4 L1452.7,644.4 L1453.1,644.3 L1453.4,644.3 L1453.7,644.2 L1454.0,644.2 L1454.4,644.1 L1454.7,644.1 L1455.0,644.0 L1455.3,643.9 L1455.7,643.9 L1456.0,643.8 L1456.3,643.7 L1456.6,643.6 L1457.0,643.6 L1457.3,643.5 L1457.6,643.4 L1457.9,643.3 L1458.3,643.2 L1458.6,643.1 L1458.9,643.1 L1459.3,643.0 L1459.6,642.9 L1459.9,642.8 L1460.2,642.7 L1460.6,642.6 L1460.9,642.5 L1461.2,642.3 L1461.6,642.2 L1461.9,642.1 L1462.2,642.0 L1462.5,641.9 L1462.9,641.8 L1463.2,641.6 L1463.5,641.5 L1463.9,641.4 L1464.2,641.3 L1464.5,641.1 L1464.9,641.0 L1465.2,640.8 L1465.6,640.7 L1465.9,640.6 L1466.2,640.4 L1466.6,640.3 L1466.9,640.1 L1467.3,640.0 L1467.6,639.8 L1467.9,639.6 L1468.3,639.5 L1468.6,639.3 L1469.0,639.1 L1469.3,639.0 L1469.7,638.8 L1470.0,638.6 L1470.4,638.5 L1470.7,638.3 L1471.1,638.1 L1471.4,637.9 L1471.8,637.7 L1472.1,637.5 L1472.5,637.4 L1472.8,637.2 L1473.2,637.0 L1473.5,636.8 L1473.9,636.6 L1474.3,636.4 L1474.6,636.2 L1475.0,635.9 L1475.3,635.7 L1475.7,635.5 L1476.1,635.3 L1476.4,635.1 L1476.8,634.9 L1477.2,634.6 L1477.6,634.4 L1477.9,634.2 L1478.3,634.0 L1478.7,633.7 L1479.1,633.5 L1479.4,633.3 L1479.8,633.0 L1480.2,632.8 L1480.6,632.5 L1481.0,632.3 L1481.3,632.0 L1481.7,631.8 L1482.1,631.5 L1482.5,631.3 L1482.9,631.0 L1483.3,630.7 L1483.7,630.5 L1484.1,630.2 L1484.5,629.9 L1484.9,629.7 L1485.3,629.4 L1485.7,629.1 L1486.1,628.8 L1486.5,628.5 L1486.9,628.3 L1487.3,628.0 L1487.7,627.7 L1488.1,627.4 L1488.5,627.1 L1488.9,626.8 L1489.3,626.5 L1489.7,626.2 L1490.1,625.9 L1490.5,625.6 L1490.9,625.3 L1491.3,625.0 L1491.8,624.6 L1492.2,624.3 L1492.6,624.0 L1493.0,623.7 L1493.4,623.4 L1493.9,623.0 L1494.3,622.7 L1494.7,622.4 L1495.1,622.0 L1495.5,621.7 L1496.0,621.4 L1496.4,621.0 L1496.8,620.7 L1497.3,620.3 L1497.7,620.0 L1498.1,619.6 L1498.5,619.3 L1499.0,618.9 L1499.4,618.5 L1499.8,618.2 L1500.3,617.8 L1500.7,617.5 L1501.2,617.1 L1501.6,616.7 L1502.0,616.3 L1502.5,616.0 L1502.9,615.6 L1503.4,615.2 L1503.8,614.8 L1504.2,614.4 L1504.7,614.0 L1505.1,613.6 L1505.6,613.3 L1506.0,612.9 L1506.5,612.5 L1506.9,612.1 L1507.4,611.6 L1507.8,611.2 L1508.3,610.8 L1508.7,610.4 L1509.2,610.0 L1509.6,609.6 L1510.1,609.2 L1510.5,608.7 L1511.0,608.3 L1511.4,607.9 L1511.9,607.5 L1512.4,607.0 L1512.8,606.6 L1513.3,606.2 L1513.7,605.7 L1514.2,605.3 L1514.7,604.8 L1515.1,604.4 L1515.6,603.9 L1516.0,603.5 L1516.5,603.0 L1517.0,602.6 L1517.4,602.1 L1517.9,601.7 L1518.4,601.2 L1518.8,600.7 L1519.3,600.3 L1519.8,599.8 L1520.2,599.3 L1520.7,598.8 L1521.2,598.4 L1521.6,597.9 L1522.1,597.4 L1522.6,596.9 L1523.0,596.4 L1523.5,595.9 L1524.0,595.4 L1524.5,594.9 L1524.9,594.4 L1525.4,593.9 L1525.9,593.4 L1526.3,592.9 L1526.8,592.4 L1527.3,591.9 L1527.7,591.4 L1528.2,590.9 L1528.7,590.4 L1529.1,589.8 L1529.6,589.3 L1530.1,588.8 L1530.5,588.3 L1531.0,587.7 L1531.4,587.2 L1531.9,586.7 L1532.4,586.1 L1532.8,585.6 L1533.3,585.0 L1533.8,584.5 L1534.2,584.0 L1534.7,583.4 L1535.1,582.9 L1535.6,582.3 L1536.0,581.7 L1536.5,581.2 L1537.0,580.6 L1537.4,580.0 L1537.9,579.5 L1538.3,578.9 L1538.8,578.3 L1539.2,577.8 L1539.7,577.2 L1540.1,576.6 L1540.6,576.0 L1541.0,575.4 L1541.4,574.8 L1541.9,574.3 L1542.3,573.7 L1542.8,573.1 L1543.2,572.5 L1543.6,571.9 L1544.1,571.3 L1544.5,570.7 L1544.9,570.1 L1545.4,569.4 L1545.8,568.8 L1546.2,568.2 L1546.7,567.6 L1547.1,567.0 L1547.5,566.4 L1547.9,565.7 L1548.4,565.1 L1548.8,564.5 L1549.2,563.8 L1549.6,563.2 L1550.0,562.6 L1550.4,561.9 L1550.9,561.3 L1551.3,560.6 L1551.7,560.0 L1552.1,559.3 L1552.5,558.7 L1552.9,558.0 L1553.3,557.4 L1553.7,556.7 L1554.1,556.1 L1554.5,555.4 L1554.9,554.7 L1555.4,554.1 L1555.8,553.4 L1556.2,552.7 L1556.6,552.0 L1557.0,551.4 L1557.4,550.7 L1557.7,550.0 L1558.1,549.3 L1558.5,548.6 L1558.9,547.9 L1559.3,547.2 L1559.7,546.5 L1560.1,545.8 L1560.5,545.1 L1560.9,544.4 L1561.3,543.7 L1561.7,543.0 L1562.1,542.3 L1562.4,541.6 L1562.8,540.9 L1563.2,540.1 L1563.6,539.4 L1564.0,538.7 L1564.4,538.0 L1564.7,537.2 L1565.1,536.5 L1565.5,535.8 L1565.9,535.0 L1566.3,534.3 L1566.6,533.6 L1567.0,532.8 L1567.4,532.1 L1567.8,531.3 L1568.2,530.6 L1568.5,529.8 L1568.9,529.1 L1569.3,528.3 L1569.7,527.5 L1570.0,526.8 L1570.4,526.0 L1570.8,525.2 L1571.2,524.5 L1571.5,523.7 L1571.9,522.9 L1572.3,522.1 L1572.7,521.4 L1573.0,520.6 L1573.4,519.8 L1573.8,519.0 L1574.2,518.2 L1574.5,517.4 L1574.9,516.6 L1575.3,515.8 L1575.7,515.0 L1576.0,514.2 L1576.4,513.4 L1576.8,512.6 L1577.2,511.8 L1577.5,511.0 L1577.9,510.2 L1578.3,509.3 L1578.6,508.5 L1579.0,507.7 L1579.4,506.9 L1579.8,506.0 L1580.1,505.2 L1580.5,504.4 L1580.9,503.5 L1581.3,502.7 L1581.6,501.9 L1582.0,501.0 L1582.4,500.2 L1582.8,499.3 L1583.1,498.5 L1583.5,497.6 L1583.9,496.8 L1584.3,495.9 L1584.6,495.0 L1585.0,494.2 L1585.4,493.3 L1585.8,492.4 L1586.1,491.6 L1586.5,490.7 L1586.9,489.8 L1587.3,489.0 L1587.7,488.1 L1588.0,487.2 L1588.4,486.3 L1588.8,485.4 L1589.2,484.5 L1589.6,483.6 L1590.0,482.7 L1590.3,481.8 L1590.7,480.9 L1591.1,480.0 L1591.5,479.1 L1591.9,478.2 L1592.3,477.3 L1592.7,476.4 L1593.0,475.5 L1593.4,474.6 L1593.8,473.6 L1594.2,472.7 L1594.6,471.8 L1595.0,470.9 L1595.4,469.9 L1595.8,469.0 L1596.2,468.1 L1596.5,467.1 L1596.9,466.2 L1597.3,465.3 L1597.7,464.3 L1598.1,463.4 L1598.5,462.4 L1598.9,461.5 L1599.3,460.5 L1599.7,459.5 L1600.1,458.6 L1600.5,457.6 L1600.9,456.7 L1601.3,455.7 L1601.7,454.7 L1602.1,453.7 L1602.5,452.8 L1602.9,451.8 L1603.3,450.8 L1603.7,449.8 L1604.1,448.9 L1604.5,447.9 L1604.9,446.9 L1605.3,445.9 L1605.7,444.9 L1606.1,443.9 L1606.5,442.9 L1606.9,441.9 L1607.3,440.9 L1607.7,439.9 L1608.1,438.9 L1608.5,437.9 L1608.9,436.8 L1609.3,435.8 L1609.7,434.8 L1610.1,433.8 L1610.5,432.8 L1610.9,431.7 L1611.3,430.7 L1611.7,429.7 L1612.1,428.6 L1612.5,427.6 L1612.9,426.6 L1613.3,425.5 L1613.7,424.5 L1614.2,423.4 L1614.6,422.4 L1615.0,421.3 L1615.4,420.3 L1615.8,419.2 L1616.2,418.2 L1616.6,417.1 L1617.0,416.0 L1617.4,415.0 L1617.8,413.9 L1618.3,412.8 L1618.7,411.8 L1619.1,410.7 L1619.5,409.6 L1619.9,408.5 L1620.3,407.4 L1620.7,406.3 L1621.1,405.3 L1621.6,404.2 L1622.0,403.1 L1622.4,402.0 L1622.8,400.9 L1623.2,399.8 L1623.6,398.7 L1624.0,397.6 L1624.5,396.5 L1624.9,395.3 L1625.3,394.2 L1625.7,393.1 L1626.1,392.0 L1626.5,390.9 L1627.0,389.8 L1627.4,388.6 L1627.8,387.5 L1628.2,386.4 L1628.6,385.2 L1629.1,384.1 L1629.5,383.0 L1629.9,381.8 L1630.3,380.7 L1630.7,379.5 L1631.1,378.4 L1631.6,377.2 L1632.0,376.1 L1632.4,374.9 L1632.8,373.8 L1633.3,372.6 L1633.7,371.4 L1634.1,370.3 L1634.5,369.1 L1634.9,367.9 L1635.4,366.8 L1635.8,365.6 L1636.2,364.4 L1636.6,363.2 L1637.0,362.0 L1637.5,360.9 L1637.9,359.7 L1638.3,358.5 L1638.7,357.3 L1639.2,356.1 L1639.6,354.9 L1640.0,353.7 L1640.4,352.5 L1640.9,351.3 L1641.3,350.1 L1641.7,348.9 L1642.1,347.7 L1642.6,346.4 L1643.0,345.2 L1643.4,344.0 L1643.8,342.8 L1644.3,341.5 L1644.7,340.3 L1645.1,339.1 L1645.5,337.9 L1646.0,336.6 L1646.4,335.4 L1646.8,334.1 L1647.2,332.9 L1647.7,331.7 L1648.1,330.4 L1648.5,329.2 L1649.0,327.9 L1649.4,326.7 L1649.8,325.4 L1650.2,324.1 L1650.7,322.9 L1651.1,321.6 L1651.5,320.3 L1651.9,319.1 L1652.4,317.8 L1652.8,316.5 L1653.2,315.2 L1653.7,314.0 L1654.1,312.7 L1654.5,311.4 L1654.9,310.1 L1655.4,308.8 L1655.8,307.5 L1656.2,306.2 L1656.7,304.9 L1657.1,303.6 L1657.5,302.3 L1658.0,301.0 L1658.4,299.7 L1658.8,298.4 L1659.2,297.1 L1659.7,295.8 L1660.1,294.5 L1660.5,293.2 L1661.0,291.8 L1661.4,290.5 L1661.8,289.2 L1662.2,287.8 L1662.7,286.5 L1663.1,285.2 L1663.5,283.8 L1664.0,282.5 L1664.4,281.2 L1664.8,279.8 L1665.3,278.5 L1665.7,277.1 L1666.1,275.8 L1666.5,274.4 L1667.0,273.1 L1667.4,271.7 L1667.8,270.3 L1668.3,269.0 L1668.7,267.6 L1669.1,266.2 L1669.6,264.9 L1670.0,263.5 L1670.4,262.1 L1670.9,260.7 L1671.3,259.4 L1671.7,258.0 L1672.1,256.6 L1672.6,255.2 L1673.0,253.8 L1673.4,252.4 L1673.9,251.0 L1674.3,249.6 L1674.7,248.2 L1675.2,246.8 L1675.6,245.4 L1676.0,244.0 L1676.4,242.6 L1676.9,241.2 L1677.3,239.8 L1677.7,238.3 L1678.2,236.9 L1678.6,235.5 L1679.0,234.1 L1679.5,232.6 L1679.9,231.2 L1680.3,229.8 L1680.7,228.3 L1681.2,226.9 L1681.6,225.5 L1682.0,224.0 L1682.4,222.6 L1682.9,221.1 L1683.3,219.7 L1683.7,218.2 L1684.2,216.8 L1684.6,215.3 L1685.0,213.8 L1685.4,212.4 L1685.9,210.9 L1686.3,209.4 L1686.7,208.0 L1687.1,206.5 L1687.6,205.0 L1688.0,203.5 L1688.4,202.1 L1688.8,200.6 L1689.2,199.1 L1689.7,197.6 L1690.1,196.1 L1690.5,194.6 L1690.9,193.1 L1691.3,191.6 L1691.8,190.1 L1692.2,188.6 L1692.6,187.1 L1693.0,185.6 L1693.4,184.1 L1693.8,182.6 L1694.2,181.1 L1694.7,179.6 L1695.1,178.0 L1695.5,176.5 L1695.9,175.0 L1696.3,173.5 L1696.7,171.9 L1697.1,170.4 L1697.5,168.9 L1697.9,167.3 L1698.3,165.8 L1698.8,164.2 L1699.2,162.7 L1699.6,161.1 L1700.0,159.6 L1700.4,158.0 L1700.8,156.5 L1701.2,154.9 L1701.6,153.4 L1702.0,151.8 L1702.4,150.2 L1702.8,148.7 L1703.2,147.1 L1703.6,145.5 L1703.9,144.0 L1704.3,142.4 L1704.7,140.8 L1705.1,139.2 L1705.5,137.6 L1705.9,136.0 L1706.3,134.5 L1706.7,132.9 L1707.1,131.3 L1707.4,129.7 L1707.8,128.1 L1708.2,126.5 L1708.6,124.9 L1709.0,123.3 L1709.3,121.6 L1709.7,120.0 L1710.1,118.4 L1710.5,116.8 L1710.8,115.2 L1711.2,113.6 L1711.6,111.9 L1712.0,110.3 L1712.3,108.7 L1712.7,107.0 L1713.1,105.4 L1713.4,103.8 L1713.8,102.1 L1714.1,100.5 L1714.5,98.9 L1714.9,97.2 L1715.2,95.6 L1715.6,93.9 L1715.9,92.2 L1716.3,90.6 L1716.6,88.9 L1717.0,87.3 L1717.3,85.6 L1717.7,83.9 L1718.0,82.3 L1718.4,80.6 L1718.7,78.9 L1719.1,77.2 L1719.4,75.6 L1719.7,73.9 L1720.1,72.2 L1720.4,70.5 L1720.7,68.8 L1721.1,67.1 L1721.4,65.4 L1721.7,63.7 L1722.1,62.0 L1722.4,60.3 L1722.7,58.6 L1723.0,56.9 L1723.3,55.2 L1723.7,53.5 L1724.0,51.8 L1724.3,50.1 L1724.6,48.4 L1724.9,46.6 L1725.2,44.9 L1725.5,43.2 L1725.8,41.5 L1726.1,39.7 L1726.4,38.0" fill="none" stroke="#f00" stroke-width="5.8" stroke-linejoin="round" stroke-linecap="round" shape-rendering="crispEdges" stroke-dasharray="7.8 15.2" stroke-dashoffset="20.02"/>
<path d="M1183.6,38.0 L1184.0,39.9 L1184.3,41.8 L1184.7,43.7 L1185.1,45.6 L1185.4,47.5 L1185.8,49.4 L1186.2,51.3 L1186.6,53.2 L1186.9,55.0 L1187.3,56.9 L1187.7,58.8 L1188.1,60.7 L1188.4,62.5 L1188.8,64.4 L1189.2,66.3 L1189.6,68.1 L1189.9,70.0 L1190.3,71.8 L1190.7,73.7 L1191.1,75.6 L1191.4,77.4 L1191.8,79.2 L1192.2,81.1 L1192.6,82.9 L1192.9,84.8 L1193.3,86.6 L1193.7,88.4 L1194.1,90.3 L1194.4,92.1 L1194.8,93.9 L1195.2,95.7 L1195.5,97.6 L1195.9,99.4 L1196.3,101.2 L1196.7,103.0 L1197.0,104.8 L1197.4,106.6 L1197.8,108.4 L1198.2,110.2 L1198.5,112.0 L1198.9,113.8 L1199.3,115.6 L1199.7,117.4 L1200.0,119.2 L1200.4,121.0 L1200.8,122.7 L1201.2,124.5 L1201.5,126.3 L1201.9,128.1 L1202.3,129.8 L1202.7,131.6 L1203.0,133.4 L1203.4,135.1 L1203.8,136.9 L1204.1,138.6 L1204.5,140.4 L1204.9,142.1 L1205.3,143.9 L1205.6,145.6 L1206.0,147.4 L1206.4,149.1 L1206.8,150.9 L1207.1,152.6 L1207.5,154.3 L1207.9,156.1 L1208.3,157.8 L1208.6,159.5 L1209.0,161.2 L1209.4,162.9 L1209.8,164.7 L1210.1,166.4 L1210.5,168.1 L1210.9,169.8 L1211.3,171.5 L1211.6,173.2 L1212.0,174.9 L1212.4,176.6 L1212.7,178.3 L1213.1,180.0 L1213.5,181.7 L1213.9,183.4 L1214.2,185.0 L1214.6,186.7 L1215.0,188.4 L1215.4,190.1 L1215.7,191.7 L1216.1,193.4 L1216.5,195.1 L1216.9,196.7 L1217.2,198.4 L1217.6,200.1 L1218.0,201.7 L1218.4,203.4 L1218.7,205.0 L1219.1,206.7 L1219.5,208.3 L1219.9,210.0 L1220.2,211.6 L1220.6,213.2 L1221.0,214.9 L1221.3,216.5 L1221.7,218.1 L1222.1,219.7 L1222.5,221.4 L1222.8,223.0 L1223.2,224.6 L1223.6,226.2 L1224.0,227.8 L1224.3,229.4 L1224.7,231.1 L1225.1,232.7 L1225.5,234.3 L1225.8,235.9 L1226.2,237.5 L1226.6,239.0 L1227.0,240.6 L1227.3,242.2 L1227.7,243.8 L1228.1,245.4 L1228.5,247.0 L1228.8,248.5 L1229.2,250.1 L1229.6,251.7 L1230.0,253.3 L1230.3,254.8 L1230.7,256.4 L1231.1,257.9 L1231.5,259.5 L1231.8,261.1 L1232.2,262.6 L1232.6,264.2 L1233.0,265.7 L1233.3,267.3 L1233.7,268.8 L1234.1,270.3 L1234.5,271.9 L1234.8,273.4 L1235.2,274.9 L1235.6,276.5 L1236.0,278.0 L1236.3,279.5 L1236.7,281.0 L1237.1,282.5 L1237.5,284.1 L1237.8,285.6 L1238.2,287.1 L1238.6,288.6 L1239.0,290.1 L1239.3,291.6 L1239.7,293.1 L1240.1,294.6 L1240.5,296.1 L1240.8,297.6 L1241.2,299.0 L1241.6,300.5 L1242.0,302.0 L1242.3,303.5 L1242.7,305.0 L1243.1,306.4 L1243.5,307.9 L1243.8,309.4 L1244.2,310.8 L1244.6,312.3 L1245.0,313.8 L1245.3,315.2 L1245.7,316.7 L1246.1,318.1 L1246.5,319.6 L1246.9,321.0 L1247.2,322.5 L1247.6,323.9 L1248.0,325.3 L1248.4,326.8 L1248.7,328.2 L1249.1,329.6 L1249.5,331.1 L1249.9,332.5 L1250.2,333.9 L1250.6,335.3 L1251.0,336.7 L1251.4,338.2 L1251.7,339.6 L1252.1,341.0 L1252.5,342.4 L1252.9,343.8 L1253.3,345.2 L1253.6,346.6 L1254.0,348.0 L1254.4,349.4 L1254.8,350.8 L1255.1,352.1 L1255.5,353.5 L1255.9,354.9 L1256.3,356.3 L1256.7,357.7 L1257.0,359.0 L1257.4,360.4 L1257.8,361.8 L1258.2,363.1 L1258.5,364.5 L1258.9,365.9 L1259.3,367.2 L1259.7,368.6 L1260.1,369.9 L1260.4,371.3 L1260.8,372.6 L1261.2,374.0 L1261.6,375.3 L1261.9,376.6 L1262.3,378.0 L1262.7,379.3 L1263.1,380.6 L1263.5,381.9 L1263.8,383.3 L1264.2,384.6 L1264.6,385.9 L1265.0,387.2 L1265.4,388.5 L1265.7,389.8 L1266.1,391.2 L1266.5,392.5 L1266.9,393.8 L1267.2,395.1 L1267.6,396.4 L1268.0,397.6 L1268.4,398.9 L1268.8,400.2 L1269.1,401.5 L1269.5,402.8 L1269.9,404.1 L1270.3,405.4 L1270.7,406.6 L1271.0,407.9 L1271.4,409.2 L1271.8,410.4 L1272.2,411.7 L1272.6,413.0 L1272.9,414.2 L1273.3,415.5 L1273.7,416.7 L1274.1,418.0 L1274.5,419.2 L1274.8,420.5 L1275.2,421.7 L1275.6,422.9 L1276.0,424.2 L1276.4,425.4 L1276.7,426.6 L1277.1,427.9 L1277.5,429.1 L1277.9,430.3 L1278.3,431.5 L1278.7,432.8 L1279.0,434.0 L1279.4,435.2 L1279.8,436.4 L1280.2,437.6 L1280.6,438.8 L1280.9,440.0 L1281.3,441.2 L1281.7,442.4 L1282.1,443.6 L1282.5,444.8 L1282.9,446.0 L1283.2,447.2 L1283.6,448.3 L1284.0,449.5 L1284.4,450.7 L1284.8,451.9 L1285.1,453.0 L1285.5,454.2 L1285.9,455.4 L1286.3,456.5 L1286.7,457.7 L1287.1,458.9 L1287.4,460.0 L1287.8,461.2 L1288.2,462.3 L1288.6,463.5 L1289.0,464.6 L1289.4,465.7 L1289.7,466.9 L1290.1,468.0 L1290.5,469.1 L1290.9,470.3 L1291.3,471.4 L1291.7,472.5 L1292.1,473.6 L1292.4,474.8 L1292.8,475.9 L1293.2,477.0 L1293.6,478.1 L1294.0,479.2 L1294.4,480.3 L1294.7,481.4 L1295.1,482.5 L1295.5,483.6 L1295.9,484.7 L1296.3,485.8 L1296.7,486.9 L1297.1,488.0 L1297.4,489.1 L1297.8,490.1 L1298.2,491.2 L1298.6,492.3 L1299.0,493.4 L1299.4,494.4 L1299.8,495.5 L1300.1,496.6 L1300.5,497.6 L1300.9,498.7 L1301.3,499.8 L1301.7,500.8 L1302.1,501.9 L1302.5,502.9 L1302.8,504.0 L1303.2,505.0 L1303.6,506.0 L1304.0,507.1 L1304.4,508.1 L1304.8,509.1 L1305.2,510.2 L1305.6,511.2 L1305.9,512.2 L1306.3,513.2 L1306.7,514.3 L1307.1,515.3 L1307.5,516.3 L1307.9,517.3 L1308.3,518.3 L1308.7,519.3 L1309.0,520.3 L1309.4,521.3 L1309.8,522.3 L1310.2,523.3 L1310.6,524.3 L1311.0,525.3 L1311.4,526.3 L1311.8,527.3 L1312.2,528.2 L1312.5,529.2 L1312.9,530.2 L1313.3,531.2 L1313.7,532.1 L1314.1,533.1 L1314.5,534.1 L1314.9,535.0 L1315.3,536.0 L1315.7,536.9 L1316.0,537.9 L1316.4,538.8 L1316.8,539.8 L1317.2,540.7 L1317.6,541.7 L1318.0,542.6 L1318.4,543.5 L1318.8,544.5 L1319.2,545.4 L1319.6,546.3 L1319.9,547.3 L1320.3,548.2 L1320.7,549.1 L1321.1,550.0 L1321.5,550.9 L1321.9,551.9 L1322.3,552.8 L1322.7,553.7 L1323.1,554.6 L1323.4,555.5 L1323.8,556.4 L1324.2,557.3 L1324.6,558.2 L1325.0,559.1 L1325.4,559.9 L1325.8,560.8 L1326.2,561.7 L1326.6,562.6 L1327.0,563.5 L1327.3,564.3 L1327.7,565.2 L1328.1,566.1 L1328.5,566.9 L1328.9,567.8 L1329.3,568.7 L1329.7,569.5 L1330.1,570.4 L1330.5,571.2 L1330.9,572.1 L1331.2,572.9 L1331.6,573.8 L1332.0,574.6 L1332.4,575.5 L1332.8,576.3 L1333.2,577.1 L1333.6,578.0 L1334.0,578.8 L1334.4,579.6 L1334.7,580.4 L1335.1,581.3 L1335.5,582.1 L1335.9,582.9 L1336.3,583.7 L1336.7,584.5 L1337.1,585.3 L1337.5,586.1 L1337.9,586.9 L1338.2,587.7 L1338.6,588.5 L1339.0,589.3 L1339.4,590.1 L1339.8,590.9 L1340.2,591.7 L1340.6,592.4 L1341.0,593.2 L1341.3,594.0 L1341.7,594.8 L1342.1,595.5 L1342.5,596.3 L1342.9,597.1 L1343.3,597.8 L1343.7,598.6 L1344.1,599.4 L1344.4,600.1 L1344.8,600.9 L1345.2,601.6 L1345.6,602.4 L1346.0,603.1 L1346.4,603.8 L1346.8,604.6 L1347.1,605.3 L1347.5,606.0 L1347.9,606.8 L1348.3,607.5 L1348.7,608.2 L1349.1,608.9 L1349.5,609.7 L1349.8,610.4 L1350.2,611.1 L1350.6,611.8 L1351.0,612.5 L1351.4,613.2 L1351.8,613.9 L1352.1,614.6 L1352.5,615.3 L1352.9,616.0 L1353.3,616.7 L1353.7,617.4 L1354.1,618.1 L1354.4,618.8 L1354.8,619.4 L1355.2,620.1 L1355.6,620.8 L1356.0,621.5 L1356.4,622.1 L1356.7,622.8 L1357.1,623.5 L1357.5,624.1 L1357.9,624.8 L1358.3,625.4 L1358.6,626.1 L1359.0,626.8 L1359.4,627.4 L1359.8,628.0 L1360.1,628.7 L1360.5,629.3 L1360.9,630.0 L1361.3,630.6 L1361.7,631.2 L1362.0,631.9 L1362.4,632.5 L1362.8,633.1 L1363.2,633.7 L1363.5,634.4 L1363.9,635.0 L1364.3,635.6 L1364.7,636.2 L1365.0,636.8 L1365.4,637.4 L1365.8,638.0 L1366.2,638.6 L1366.5,639.2 L1366.9,639.8 L1367.3,640.4 L1367.7,641.0 L1368.0,641.6 L1368.4,642.1 L1368.8,642.7 L1369.2,643.3 L1369.5,643.9 L1369.9,644.4 L1370.3,645.0 L1370.6,645.6 L1371.0,646.1 L1371.4,646.7 L1371.7,647.3 L1372.1,647.8 L1372.5,648.4 L1372.9,648.9 L1373.2,649.5 L1373.6,650.0 L1374.0,650.6 L1374.3,651.1 L1374.7,651.6 L1375.1,652.2 L1375.4,652.7 L1375.8,653.2 L1376.2,653.7 L1376.5,654.3 L1376.9,654.8 L1377.3,655.3 L1377.6,655.8 L1378.0,656.3 L1378.4,656.8 L1378.7,657.3 L1379.1,657.9 L1379.4,658.4 L1379.8,658.9 L1380.2,659.3 L1380.5,659.8 L1380.9,660.3 L1381.3,660.8 L1381.6,661.3 L1382.0,661.8 L1382.4,662.3 L1382.7,662.7 L1383.1,663.2 L1383.4,663.7 L1383.8,664.2 L1384.2,664.6 L1384.5,665.1 L1384.9,665.5 L1385.3,666.0 L1385.6,666.5 L1386.0,666.9 L1386.3,667.4 L1386.7,667.8 L1387.1,668.2 L1387.4,668.7 L1387.8,669.1 L1388.1,669.6 L1388.5,670.0 L1388.9,670.4 L1389.2,670.9 L1389.6,671.3 L1390.0,671.7 L1390.3,672.1 L1390.7,672.5 L1391.0,672.9 L1391.4,673.4 L1391.8,673.8 L1392.1,674.2 L1392.5,674.6 L1392.8,675.0 L1393.2,675.4 L1393.5,675.8 L1393.9,676.2 L1394.3,676.6 L1394.6,676.9 L1395.0,677.3 L1395.3,677.7 L1395.7,678.1 L1396.1,678.5 L1396.4,678.8 L1396.8,679.2 L1397.1,679.6 L1397.5,679.9 L1397.9,680.3 L1398.2,680.7 L1398.6,681.0 L1398.9,681.4 L1399.3,681.7 L1399.7,682.1 L1400.0,682.4 L1400.4,682.8 L1400.7,683.1 L1401.1,683.4 L1401.4,683.8 L1401.8,684.1 L1402.2,684.4 L1402.5,684.8 L1402.9,685.1 L1403.2,685.4 L1403.6,685.7 L1404.0,686.0 L1404.3,686.3 L1404.7,686.7 L1405.0,687.0 L1405.4,687.3 L1405.8,687.6 L1406.1,687.9 L1406.5,688.2 L1406.8,688.5 L1407.2,688.8 L1407.6,689.0 L1407.9,689.3 L1408.3,689.6 L1408.6,689.9 L1409.0,690.2 L1409.3,690.4 L1409.7,690.7 L1410.1,691.0 L1410.4,691.3 L1410.8,691.5 L1411.2,691.8 L1411.5,692.0 L1411.9,692.3 L1412.2,692.6 L1412.6,692.8 L1413.0,693.0 L1413.3,693.3 L1413.7,693.5 L1414.0,693.8 L1414.4,694.0 L1414.8,694.2 L1415.1,694.5 L1415.5,694.7 L1415.8,694.9 L1416.2,695.2 L1416.6,695.4 L1416.9,695.6 L1417.3,695.8 L1417.7,696.0 L1418.0,696.2 L1418.4,696.4 L1418.8,696.6 L1419.1,696.8 L1419.5,697.0 L1419.8,697.2 L1420.2,697.4 L1420.6,697.6 L1420.9,697.8 L1421.3,698.0 L1421.7,698.2 L1422.0,698.4 L1422.4,698.5 L1422.8,698.7 L1423.1,698.9 L1423.5,699.1 L1423.9,699.2 L1424.2,699.4 L1424.6,699.5 L1425.0,699.7 L1425.3,699.9 L1425.7,700.0 L1426.1,700.2 L1426.4,700.3 L1426.8,700.4 L1427.2,700.6 L1427.5,700.7 L1427.9,700.9 L1428.3,701.0 L1428.6,701.1 L1429.0,701.3 L1429.4,701.4 L1429.7,701.5 L1430.1,701.6 L1430.5,701.7 L1430.9,701.9 L1431.2,702.0 L1431.6,702.1 L1432.0,702.2 L1432.3,702.3 L1432.7,702.4 L1433.1,702.5 L1433.4,702.6 L1433.8,702.7 L1434.2,702.8 L1434.6,702.8 L1434.9,702.9 L1435.3,703.0 L1435.7,703.1 L1436.0,703.2 L1436.4,703.2 L1436.8,703.3 L1437.2,703.4 L1437.5,703.4 L1437.9,703.5 L1438.3,703.6 L1438.7,703.6 L1439.0,703.7 L1439.4,703.7 L1439.8,703.8 L1440.2,703.8 L1440.5,703.9 L1440.9,703.9 L1441.3,704.0 L1441.6,704.0 L1442.0,704.0 L1442.4,704.0 L1442.8,704.1 L1443.1,704.1 L1443.5,704.1 L1443.9,704.1 L1444.3,704.2 L1444.6,704.2 L1445.0,704.2 L1445.4,704.2 L1445.8,704.2 L1446.2,704.2 L1446.5,704.2 L1446.9,704.2 L1447.3,704.2 L1447.7,704.2 L1448.0,704.2 L1448.4,704.2 L1448.8,704.1 L1449.2,704.1 L1449.5,704.1 L1449.9,704.1 L1450.3,704.0 L1450.7,704.0 L1451.1,704.0 L1451.4,704.0 L1451.8,703.9 L1452.2,703.9 L1452.6,703.8 L1453.0,703.8 L1453.3,703.7 L1453.7,703.7 L1454.1,703.6 L1454.5,703.6 L1454.9,703.5 L1455.2,703.4 L1455.6,703.4 L1456.0,703.3 L1456.4,703.2 L1456.8,703.2 L1457.1,703.1 L1457.5,703.0 L1457.9,702.9 L1458.3,702.8 L1458.7,702.8 L1459.0,702.7 L1459.4,702.6 L1459.8,702.5 L1460.2,702.4 L1460.6,702.3 L1460.9,702.2 L1461.3,702.1 L1461.7,702.0 L1462.1,701.9 L1462.5,701.7 L1462.9,701.6 L1463.2,701.5 L1463.6,701.4 L1464.0,701.3 L1464.4,701.1 L1464.8,701.0 L1465.1,700.9 L1465.5,700.7 L1465.9,700.6 L1466.3,700.4 L1466.7,700.3 L1467.1,700.2 L1467.4,700.0 L1467.8,699.9 L1468.2,699.7 L1468.6,699.5 L1469.0,699.4 L1469.4,699.2 L1469.8,699.1 L1470.1,698.9 L1470.5,698.7 L1470.9,698.5 L1471.3,698.4 L1471.7,698.2 L1472.1,698.0 L1472.4,697.8 L1472.8,697.6 L1473.2,697.4 L1473.6,697.2 L1474.0,697.0 L1474.4,696.8 L1474.8,696.6 L1475.1,696.4 L1475.5,696.2 L1475.9,696.0 L1476.3,695.8 L1476.7,695.6 L1477.1,695.4 L1477.5,695.2 L1477.8,694.9 L1478.2,694.7 L1478.6,694.5 L1479.0,694.2 L1479.4,694.0 L1479.8,693.8 L1480.2,693.5 L1480.5,693.3 L1480.9,693.0 L1481.3,692.8 L1481.7,692.6 L1482.1,692.3 L1482.5,692.0 L1482.9,691.8 L1483.3,691.5 L1483.6,691.3 L1484.0,691.0 L1484.4,690.7 L1484.8,690.4 L1485.2,690.2 L1485.6,689.9 L1486.0,689.6 L1486.4,689.3 L1486.7,689.0 L1487.1,688.8 L1487.5,688.5 L1487.9,688.2 L1488.3,687.9 L1488.7,687.6 L1489.1,687.3 L1489.5,687.0 L1489.9,686.7 L1490.2,686.3 L1490.6,686.0 L1491.0,685.7 L1491.4,685.4 L1491.8,685.1 L1492.2,684.8 L1492.6,684.4 L1493.0,684.1 L1493.3,683.8 L1493.7,683.4 L1494.1,683.1 L1494.5,682.8 L1494.9,682.4 L1495.3,682.1 L1495.7,681.7 L1496.1,681.4 L1496.5,681.0 L1496.9,680.7 L1497.2,680.3 L1497.6,679.9 L1498.0,679.6 L1498.4,679.2 L1498.8,678.8 L1499.2,678.5 L1499.6,678.1 L1500.0,677.7 L1500.4,677.3 L1500.7,676.9 L1501.1,676.6 L1501.5,676.2 L1501.9,675.8 L1502.3,675.4 L1502.7,675.0 L1503.1,674.6 L1503.5,674.2 L1503.9,673.8 L1504.3,673.4 L1504.7,672.9 L1505.0,672.5 L1505.4,672.1 L1505.8,671.7 L1506.2,671.3 L1506.6,670.9 L1507.0,670.4 L1507.4,670.0 L1507.8,669.6 L1508.2,669.1 L1508.6,668.7 L1508.9,668.2 L1509.3,667.8 L1509.7,667.4 L1510.1,666.9 L1510.5,666.5 L1510.9,666.0 L1511.3,665.5 L1511.7,665.1 L1512.1,664.6 L1512.5,664.2 L1512.9,663.7 L1513.2,663.2 L1513.6,662.7 L1514.0,662.3 L1514.4,661.8 L1514.8,661.3 L1515.2,660.8 L1515.6,660.3 L1516.0,659.8 L1516.4,659.3 L1516.8,658.9 L1517.2,658.4 L1517.5,657.9 L1517.9,657.3 L1518.3,656.8 L1518.7,656.3 L1519.1,655.8 L1519.5,655.3 L1519.9,654.8 L1520.3,654.3 L1520.7,653.7 L1521.1,653.2 L1521.5,652.7 L1521.9,652.2 L1522.2,651.6 L1522.6,651.1 L1523.0,650.6 L1523.4,650.0 L1523.8,649.5 L1524.2,648.9 L1524.6,648.4 L1525.0,647.8 L1525.4,647.3 L1525.8,646.7 L1526.2,646.1 L1526.6,645.6 L1526.9,645.0 L1527.3,644.4 L1527.7,643.9 L1528.1,643.3 L1528.5,642.7 L1528.9,642.1 L1529.3,641.6 L1529.7,641.0 L1530.1,640.4 L1530.5,639.8 L1530.9,639.2 L1531.3,638.6 L1531.6,638.0 L1532.0,637.4 L1532.4,636.8 L1532.8,636.2 L1533.2,635.6 L1533.6,635.0 L1534.0,634.4 L1534.4,633.7 L1534.8,633.1 L1535.2,632.5 L1535.6,631.9 L1536.0,631.2 L1536.4,630.6 L1536.7,630.0 L1537.1,629.3 L1537.5,628.7 L1537.9,628.0 L1538.3,627.4 L1538.7,626.8 L1539.1,626.1 L1539.5,625.4 L1539.9,624.8 L1540.3,624.1 L1540.7,623.5 L1541.1,622.8 L1541.5,622.1 L1541.9,621.5 L1542.3,620.8 L1542.6,620.1 L1543.0,619.4 L1543.4,618.8 L1543.8,618.1 L1544.2,617.4 L1544.6,616.7 L1545.0,616.0 L1545.4,615.3 L1545.8,614.6 L1546.2,613.9 L1546.6,613.2 L1547.0,612.5 L1547.4,611.8 L1547.8,611.1 L1548.2,610.4 L1548.6,609.7 L1549.0,608.9 L1549.3,608.2 L1549.7,607.5 L1550.1,606.8 L1550.5,606.0 L1550.9,605.3 L1551.3,604.6 L1551.7,603.8 L1552.1,603.1 L1552.5,602.4 L1552.9,601.6 L1553.3,600.9 L1553.7,600.1 L1554.1,599.4 L1554.5,598.6 L1554.9,597.8 L1555.3,597.1 L1555.7,596.3 L1556.1,595.5 L1556.5,594.8 L1556.9,594.0 L1557.3,593.2 L1557.6,592.4 L1558.0,591.7 L1558.4,590.9 L1558.8,590.1 L1559.2,589.3 L1559.6,588.5 L1560.0,587.7 L1560.4,586.9 L1560.8,586.1 L1561.2,585.3 L1561.6,584.5 L1562.0,583.7 L1562.4,582.9 L1562.8,582.1 L1563.2,581.3 L1563.6,580.4 L1564.0,579.6 L1564.4,578.8 L1564.8,578.0 L1565.2,577.1 L1565.6,576.3 L1566.0,575.5 L1566.4,574.6 L1566.8,573.8 L1567.2,572.9 L1567.6,572.1 L1568.0,571.2 L1568.4,570.4 L1568.8,569.5 L1569.2,568.7 L1569.6,567.8 L1570.0,566.9 L1570.4,566.1 L1570.8,565.2 L1571.2,564.3 L1571.6,563.5 L1572.0,562.6 L1572.4,561.7 L1572.8,560.8 L1573.2,559.9 L1573.6,559.1 L1574.0,558.2 L1574.4,557.3 L1574.8,556.4 L1575.2,555.5 L1575.6,554.6 L1576.0,553.7 L1576.4,552.8 L1576.8,551.9 L1577.2,550.9 L1577.6,550.0 L1578.0,549.1 L1578.4,548.2 L1578.8,547.3 L1579.2,546.3 L1579.6,545.4 L1580.0,544.5 L1580.4,543.5 L1580.8,542.6 L1581.2,541.7 L1581.6,540.7 L1582.0,539.8 L1582.4,538.8 L1582.8,537.9 L1583.2,536.9 L1583.6,536.0 L1584.0,535.0 L1584.4,534.1 L1584.8,533.1 L1585.2,532.1 L1585.6,531.2 L1586.0,530.2 L1586.4,529.2 L1586.8,528.2 L1587.2,527.3 L1587.6,526.3 L1588.0,525.3 L1588.4,524.3 L1588.8,523.3 L1589.2,522.3 L1589.6,521.3 L1590.0,520.3 L1590.4,519.3 L1590.8,518.3 L1591.2,517.3 L1591.6,516.3 L1592.0,515.3 L1592.4,514.3 L1592.9,513.2 L1593.3,512.2 L1593.7,511.2 L1594.1,510.2 L1594.5,509.1 L1594.9,508.1 L1595.3,507.1 L1595.7,506.0 L1596.1,505.0 L1596.5,504.0 L1596.9,502.9 L1597.3,501.9 L1597.7,500.8 L1598.1,499.8 L1598.5,498.7 L1598.9,497.6 L1599.3,496.6 L1599.7,495.5 L1600.1,494.4 L1600.5,493.4 L1601.0,492.3 L1601.4,491.2 L1601.8,490.1 L1602.2,489.1 L1602.6,488.0 L1603.0,486.9 L1603.4,485.8 L1603.8,484.7 L1604.2,483.6 L1604.6,482.5 L1605.0,481.4 L1605.4,480.3 L1605.8,479.2 L1606.2,478.1 L1606.6,477.0 L1607.0,475.9 L1607.4,474.8 L1607.9,473.6 L1608.3,472.5 L1608.7,471.4 L1609.1,470.3 L1609.5,469.1 L1609.9,468.0 L1610.3,466.9 L1610.7,465.7 L1611.1,464.6 L1611.5,463.5 L1611.9,462.3 L1612.3,461.2 L1612.7,460.0 L1613.1,458.9 L1613.5,457.7 L1614.0,456.5 L1614.4,455.4 L1614.8,454.2 L1615.2,453.0 L1615.6,451.9 L1616.0,450.7 L1616.4,449.5 L1616.8,448.3 L1617.2,447.2 L1617.6,446.0 L1618.0,444.8 L1618.4,443.6 L1618.8,442.4 L1619.2,441.2 L1619.7,440.0 L1620.1,438.8 L1620.5,437.6 L1620.9,436.4 L1621.3,435.2 L1621.7,434.0 L1622.1,432.8 L1622.5,431.5 L1622.9,430.3 L1623.3,429.1 L1623.7,427.9 L1624.1,426.6 L1624.5,425.4 L1624.9,424.2 L1625.4,422.9 L1625.8,421.7 L1626.2,420.5 L1626.6,419.2 L1627.0,418.0 L1627.4,416.7 L1627.8,415.5 L1628.2,414.2 L1628.6,413.0 L1629.0,411.7 L1629.4,410.4 L1629.8,409.2 L1630.2,407.9 L1630.6,406.6 L1631.1,405.4 L1631.5,404.1 L1631.9,402.8 L1632.3,401.5 L1632.7,400.2 L1633.1,398.9 L1633.5,397.6 L1633.9,396.4 L1634.3,395.1 L1634.7,393.8 L1635.1,392.5 L1635.5,391.2 L1635.9,389.8 L1636.3,388.5 L1636.8,387.2 L1637.2,385.9 L1637.6,384.6 L1638.0,383.3 L1638.4,381.9 L1638.8,380.6 L1639.2,379.3 L1639.6,378.0 L1640.0,376.6 L1640.4,375.3 L1640.8,374.0 L1641.2,372.6 L1641.6,371.3 L1642.1,369.9 L1642.5,368.6 L1642.9,367.2 L1643.3,365.9 L1643.7,364.5 L1644.1,363.1 L1644.5,361.8 L1644.9,360.4 L1645.3,359.0 L1645.7,357.7 L1646.1,356.3 L1646.5,354.9 L1646.9,353.5 L1647.4,352.1 L1647.8,350.8 L1648.2,349.4 L1648.6,348.0 L1649.0,346.6 L1649.4,345.2 L1649.8,343.8 L1650.2,342.4 L1650.6,341.0 L1651.0,339.6 L1651.4,338.2 L1651.8,336.7 L1652.3,335.3 L1652.7,333.9 L1653.1,332.5 L1653.5,331.1 L1653.9,329.6 L1654.3,328.2 L1654.7,326.8 L1655.1,325.3 L1655.5,323.9 L1655.9,322.5 L1656.3,321.0 L1656.7,319.6 L1657.2,318.1 L1657.6,316.7 L1658.0,315.2 L1658.4,313.8 L1658.8,312.3 L1659.2,310.8 L1659.6,309.4 L1660.0,307.9 L1660.4,306.4 L1660.8,305.0 L1661.3,303.5 L1661.7,302.0 L1662.1,300.5 L1662.5,299.0 L1662.9,297.6 L1663.3,296.1 L1663.7,294.6 L1664.1,293.1 L1664.5,291.6 L1664.9,290.1 L1665.4,288.6 L1665.8,287.1 L1666.2,285.6 L1666.6,284.1 L1667.0,282.5 L1667.4,281.0 L1667.8,279.5 L1668.2,278.0 L1668.6,276.5 L1669.0,274.9 L1669.5,273.4 L1669.9,271.9 L1670.3,270.3 L1670.7,268.8 L1671.1,267.3 L1671.5,265.7 L1671.9,264.2 L1672.3,262.6 L1672.7,261.1 L1673.2,259.5 L1673.6,257.9 L1674.0,256.4 L1674.4,254.8 L1674.8,253.3 L1675.2,251.7 L1675.6,250.1 L1676.0,248.5 L1676.5,247.0 L1676.9,245.4 L1677.3,243.8 L1677.7,242.2 L1678.1,240.6 L1678.5,239.0 L1678.9,237.5 L1679.3,235.9 L1679.7,234.3 L1680.2,232.7 L1680.6,231.1 L1681.0,229.4 L1681.4,227.8 L1681.8,226.2 L1682.2,224.6 L1682.6,223.0 L1683.0,221.4 L1683.5,219.7 L1683.9,218.1 L1684.3,216.5 L1684.7,214.9 L1685.1,213.2 L1685.5,211.6 L1685.9,210.0 L1686.4,208.3 L1686.8,206.7 L1687.2,205.0 L1687.6,203.4 L1688.0,201.7 L1688.4,200.1 L1688.8,198.4 L1689.2,196.7 L1689.7,195.1 L1690.1,193.4 L1690.5,191.7 L1690.9,190.1 L1691.3,188.4 L1691.7,186.7 L1692.1,185.0 L1692.6,183.4 L1693.0,181.7 L1693.4,180.0 L1693.8,178.3 L1694.2,176.6 L1694.6,174.9 L1695.0,173.2 L1695.5,171.5 L1695.9,169.8 L1696.3,168.1 L1696.7,166.4 L1697.1,164.7 L1697.5,162.9 L1697.9,161.2 L1698.4,159.5 L1698.8,157.8 L1699.2,156.1 L1699.6,154.3 L1700.0,152.6 L1700.4,150.9 L1700.8,149.1 L1701.3,147.4 L1701.7,145.6 L1702.1,143.9 L1702.5,142.1 L1702.9,140.4 L1703.3,138.6 L1703.8,136.9 L1704.2,135.1 L1704.6,133.4 L1705.0,131.6 L1705.4,129.8 L1705.8,128.1 L1706.2,126.3 L1706.7,124.5 L1707.1,122.7 L1707.5,121.0 L1707.9,119.2 L1708.3,117.4 L1708.7,115.6 L1709.2,113.8 L1709.6,112.0 L1710.0,110.2 L1710.4,108.4 L1710.8,106.6 L1711.2,104.8 L1711.7,103.0 L1712.1,101.2 L1712.5,99.4 L1712.9,97.6 L1713.3,95.7 L1713.7,93.9 L1714.2,92.1 L1714.6,90.3 L1715.0,88.4 L1715.4,86.6 L1715.8,84.8 L1716.3,82.9 L1716.7,81.1 L1717.1,79.2 L1717.5,77.4 L1717.9,75.6 L1718.3,73.7 L1718.8,71.8 L1719.2,70.0 L1719.6,68.1 L1720.0,66.3 L1720.4,64.4 L1720.8,62.5 L1721.3,60.7 L1721.7,58.8 L1722.1,56.9 L1722.5,55.0 L1722.9,53.2 L1723.4,51.3 L1723.8,49.4 L1724.2,47.5 L1724.6,45.6 L1725.0,43.7 L1725.4,41.8 L1725.9,39.9 L1726.3,38.0" fill="none" stroke="#00f" stroke-width="5.8" stroke-linejoin="round" stroke-linecap="round" shape-rendering="crispEdges"/>
</g>
<g fill="#000">
<rect x="255" y="43" width="6" height="1309"/>
<rect x="255" y="1346" width="640.0" height="6"/>
<rect x="923" y="1346" width="958.0" height="6"/>
<rect x="255" y="43" width="29" height="6"/>
<rect x="255" y="369" width="29" height="6"/>
<rect x="255" y="695" width="29" height="6"/>
<rect x="255" y="1020" width="29" height="6"/>
<rect x="255" y="206" width="16" height="6"/>
<rect x="255" y="532" width="16" height="6"/>
<rect x="255" y="857" width="16" height="6"/>
<rect x="255" y="1183" width="16" height="6"/>
<rect x="467" y="1323" width="6" height="29"/>
<rect x="679" y="1323" width="6" height="29"/>
<rect x="361" y="1336" width="6" height="16"/>
<rect x="573" y="1336" width="6" height="16"/>
<rect x="785" y="1336" width="6" height="16"/>
<rect x="1132" y="1323" width="6" height="29"/>
<rect x="1344" y="1323" width="6" height="29"/>
<rect x="1557" y="1323" width="6" height="29"/>
<rect x="1769" y="1323" width="6" height="29"/>
<rect x="1026" y="1336" width="6" height="16"/>
<rect x="1238" y="1336" width="6" height="16"/>
<rect x="1451" y="1336" width="6" height="16"/>
<rect x="1663" y="1336" width="6" height="16"/>
<rect x="1876" y="1336" width="6" height="16"/>
<line x1="881" y1="1374.6" x2="908" y2="1323.6" stroke="#000" stroke-width="6" shape-rendering="crispEdges"/>
<line x1="909" y1="1374.6" x2="936.5" y2="1323.6" stroke="#000" stroke-width="6" shape-rendering="crispEdges"/>
</g>
<line x1="1025" y1="891" x2="1176" y2="891" stroke="#000" stroke-width="6" stroke-linecap="round" shape-rendering="crispEdges"/>
<line x1="1025" y1="974" x2="1176" y2="974" stroke="#f00" stroke-width="6" stroke-linecap="round" shape-rendering="crispEdges" stroke-dasharray="7.8 15.2"/>
<line x1="1025" y1="1058" x2="1176" y2="1058" stroke="#00f" stroke-width="6" stroke-linecap="round" shape-rendering="crispEdges"/>
<g>
<text transform="translate(228.50 66.80) scale(0.9750 1.0420)" text-anchor="end">0.14</text>
<text transform="translate(228.50 392.60) scale(0.9750 1.0420)" text-anchor="end">0.13</text>
<text transform="translate(228.50 718.00) scale(0.9750 1.0420)" text-anchor="end">0.12</text>
<text transform="translate(228.50 1043.40) scale(0.9750 1.0420)" text-anchor="end">0.11</text>
<text transform="translate(228.50 1368.80) scale(0.9750 1.0420)" text-anchor="end">0.10</text>
<text transform="translate(259.00 1430.10) scale(0.9750 1.0420)" text-anchor="middle">1432</text>
<text transform="translate(471.00 1430.10) scale(0.9750 1.0420)" text-anchor="middle">1434</text>
<text transform="translate(683.00 1430.10) scale(0.9750 1.0420)" text-anchor="middle">1436</text>
<text transform="translate(1135.80 1430.10) scale(0.9750 1.0420)" text-anchor="middle">1560</text>
<text transform="translate(1348.36 1430.10) scale(0.9750 1.0420)" text-anchor="middle">1562</text>
<text transform="translate(1560.92 1430.10) scale(0.9750 1.0420)" text-anchor="middle">1564</text>
<text transform="translate(1773.48 1430.10) scale(0.9750 1.0420)" text-anchor="middle">1566</text>
<text transform="translate(1068.60 1540.80) scale(0.9966 1.0420)" text-anchor="middle">Wavelength (nm)</text>
<text transform="translate(66.00 693.30) rotate(-90) scale(0.9750 1.0200)" text-anchor="middle">Transmission</text>
<text transform="translate(504.00 259.80) scale(1.0000 1.0420)" text-anchor="start">Dip 3</text>
<text transform="translate(1364.00 259.80) scale(1.0000 1.0420)" text-anchor="start">Dip 4</text>
<text transform="translate(1195.00 914.70) scale(0.9750 1.0420)" text-anchor="start">1</text>
<text transform="translate(1195.00 997.80) scale(0.9750 1.0420)" text-anchor="start">2</text>
<text transform="translate(1195.00 1081.00) scale(0.9750 1.0420)" text-anchor="start">3</text>
</g>
</svg>
</body></html>
